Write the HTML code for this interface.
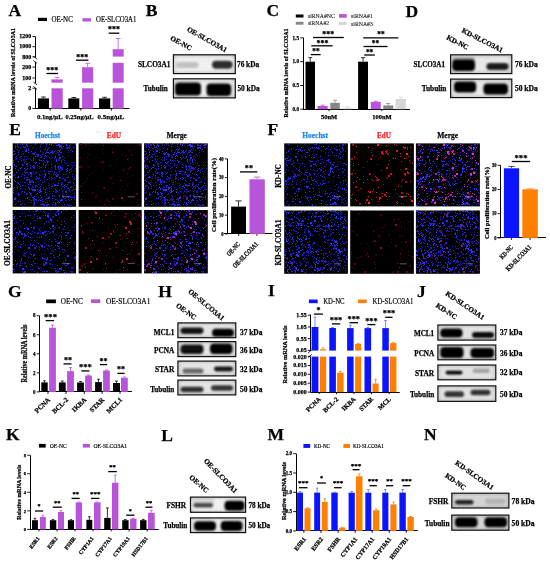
<!DOCTYPE html>
<html><head><meta charset="utf-8"><style>
html,body{margin:0;padding:0;background:#fff;width:550px;height:564px;overflow:hidden}
svg{display:block;filter:blur(0.3px)}
text{font-family:"Liberation Serif","Times New Roman",serif;font-weight:bold}
text{stroke:#000;stroke-width:0.25px}
text.n{font-weight:normal;stroke-width:0.18px}
</style></head><body>
<svg width="550" height="564" viewBox="0 0 550 564">
<defs>
<filter id="bl" x="-30%" y="-80%" width="160%" height="260%"><feGaussianBlur stdDeviation="1.1"/></filter>
<linearGradient id="vv" x1="0" y1="0" x2="0" y2="1"><stop offset="0" stop-color="#000" stop-opacity="0.14"/><stop offset="0.22" stop-color="#000" stop-opacity="0"/><stop offset="0.78" stop-color="#000" stop-opacity="0"/><stop offset="1" stop-color="#000" stop-opacity="0.14"/></linearGradient>
<linearGradient id="vh" x1="0" y1="0" x2="1" y2="0"><stop offset="0" stop-color="#000" stop-opacity="0.10"/><stop offset="0.08" stop-color="#000" stop-opacity="0"/><stop offset="0.92" stop-color="#000" stop-opacity="0"/><stop offset="1" stop-color="#000" stop-opacity="0.10"/></linearGradient>
<pattern id="h1" patternUnits="userSpaceOnUse" x="13" y="143" width="64" height="64"><path fill="#3030ff" d="M60 4h1v1h-1zM35 9h1v1h-1zM9 42h1v1h-1zM21 59h1v1h-1zM44 48h1v1h-1zM11 49h1v1h-1zM4 34h1v1h-1zM17 51h1v1h-1zM12 7h2v2h-2zM5 40h1v1h-1zM17 41h1v1h-1zM21 23h1v1h-1zM34 19h1v1h-1zM27 28h1v1h-1zM62 46h1v1h-1zM44 59h1v1h-1zM38 8h1v1h-1zM43 16h1v1h-1zM11 32h1v1h-1zM2 38h1v1h-1zM33 61h1v1h-1zM56 29h1v1h-1zM27 57h1v1h-1zM41 23h1v1h-1zM27 3h1v1h-1zM33 55h1v1h-1zM15 44h1v1h-1zM35 54h2v2h-2zM9 31h1v1h-1zM26 49h1v1h-1zM15 41h1v1h-1zM14 55h1v1h-1zM57 44h1v1h-1zM54 53h1v1h-1zM11 25h1v1h-1zM62 1h1v1h-1zM20 10h2v2h-2zM33 9h1v1h-1zM6 51h1v1h-1zM25 35h1v1h-1zM32 10h1v1h-1zM2 10h1v1h-1zM35 28h1v1h-1zM50 3h1v1h-1zM27 17h1v1h-1zM9 21h1v1h-1zM28 17h1v1h-1zM14 25h1v1h-1zM47 2h2v2h-2zM0 17h1v1h-1zM18 8h1v1h-1zM31 15h1v1h-1zM42 60h1v1h-1zM61 54h1v1h-1zM17 29h2v2h-2zM3 23h1v1h-1zM32 24h1v1h-1zM4 6h1v1h-1zM0 49h1v1h-1zM9 60h1v1h-1zM31 38h1v1h-1zM38 21h1v1h-1zM39 55h1v1h-1zM17 22h1v1h-1zM24 50h1v1h-1zM45 1h2v2h-2zM4 44h1v1h-1zM46 0h1v1h-1zM16 37h1v1h-1zM49 39h1v1h-1zM20 54h1v1h-1zM5 33h1v1h-1zM3 29h1v1h-1zM5 27h1v1h-1zM16 49h1v1h-1zM53 43h1v1h-1zM1 37h1v1h-1zM3 15h1v1h-1zM34 9h1v1h-1zM0 45h1v1h-1zM53 48h1v1h-1zM45 42h1v1h-1zM8 17h1v1h-1zM2 61h1v1h-1zM18 31h1v1h-1zM0 19h1v1h-1zM36 35h1v1h-1zM46 52h1v1h-1zM42 14h1v1h-1zM13 29h1v1h-1zM30 9h1v1h-1zM16 36h1v1h-1zM12 30h1v1h-1zM4 39h1v1h-1zM46 34h1v1h-1zM54 61h1v1h-1zM47 27h1v1h-1zM59 8h1v1h-1zM48 4h1v1h-1zM2 4h1v1h-1zM32 30h1v1h-1zM47 9h1v1h-1zM46 14h2v2h-2zM45 58h1v1h-1zM42 31h1v1h-1zM49 53h1v1h-1zM31 53h1v1h-1zM40 48h1v1h-1zM48 17h1v1h-1zM13 1h1v1h-1zM20 15h1v1h-1zM33 13h1v1h-1zM19 10h1v1h-1zM46 47h1v1h-1zM13 8h1v1h-1zM49 52h1v1h-1zM36 48h1v1h-1zM47 57h1v1h-1zM46 8h1v1h-1zM48 45h1v1h-1zM27 43h1v1h-1zM14 3h1v1h-1zM57 39h1v1h-1zM14 29h1v1h-1zM21 53h1v1h-1zM50 53h1v1h-1zM43 56h1v1h-1zM60 4h1v1h-1zM27 48h1v1h-1zM59 54h1v1h-1zM45 7h1v1h-1zM5 4h1v1h-1zM7 61h1v1h-1zM14 23h1v1h-1zM54 2h1v1h-1zM55 56h1v1h-1zM8 24h1v1h-1zM33 13h1v1h-1zM14 23h1v1h-1zM58 56h1v1h-1zM20 56h1v1h-1zM54 27h1v1h-1zM48 41h1v1h-1zM46 28h1v1h-1zM53 57h1v1h-1zM5 34h1v1h-1zM41 23h1v1h-1zM50 0h1v1h-1zM55 45h1v1h-1zM30 20h1v1h-1zM36 30h1v1h-1zM56 53h1v1h-1zM42 46h1v1h-1zM28 14h1v1h-1zM5 51h1v1h-1zM46 7h1v1h-1zM16 38h2v2h-2zM41 29h1v1h-1zM21 25h1v1h-1zM45 40h1v1h-1zM9 22h1v1h-1zM47 2h1v1h-1zM35 61h1v1h-1zM31 34h1v1h-1zM4 39h1v1h-1zM33 1h1v1h-1zM32 31h1v1h-1zM53 20h1v1h-1zM6 41h1v1h-1zM36 1h1v1h-1zM9 1h1v1h-1zM4 45h1v1h-1zM32 32h1v1h-1zM14 51h1v1h-1zM23 33h1v1h-1zM51 42h1v1h-1zM45 22h1v1h-1zM1 11h1v1h-1zM40 0h1v1h-1zM29 11h1v1h-1zM49 26h1v1h-1zM17 50h1v1h-1zM54 5h1v1h-1zM56 2h1v1h-1zM16 46h1v1h-1zM28 48h1v1h-1zM20 9h1v1h-1zM7 25h1v1h-1zM48 9h1v1h-1zM46 59h1v1h-1zM38 1h1v1h-1zM32 22h1v1h-1zM55 39h1v1h-1zM1 55h2v2h-2zM26 20h1v1h-1zM43 17h1v1h-1zM5 11h1v1h-1zM55 53h1v1h-1zM43 47h1v1h-1zM41 41h2v2h-2zM16 45h1v1h-1zM41 8h1v1h-1zM38 34h1v1h-1zM38 43h1v1h-1zM34 59h1v1h-1zM23 42h1v1h-1zM12 4h1v1h-1zM31 0h1v1h-1zM2 25h1v1h-1zM5 18h1v1h-1zM32 6h1v1h-1zM12 18h1v1h-1zM9 48h1v1h-1zM56 46h1v1h-1zM23 11h1v1h-1zM49 35h1v1h-1zM48 39h1v1h-1zM48 56h2v2h-2zM22 13h1v1h-1zM54 34h1v1h-1zM32 49h1v1h-1zM43 32h2v2h-2zM39 35h1v1h-1zM39 61h1v1h-1zM54 41h1v1h-1zM43 18h1v1h-1zM38 1h1v1h-1zM28 54h1v1h-1zM18 37h1v1h-1zM1 8h1v1h-1zM61 34h1v1h-1zM35 5h1v1h-1zM29 39h1v1h-1zM21 46h2v2h-2zM31 13h1v1h-1zM54 25h1v1h-1zM36 28h1v1h-1zM7 45h1v1h-1zM20 17h1v1h-1zM33 3h1v1h-1zM23 42h1v1h-1zM5 9h1v1h-1zM24 46h1v1h-1zM15 44h1v1h-1zM42 13h1v1h-1zM19 46h2v2h-2zM20 22h1v1h-1zM55 4h1v1h-1zM27 14h1v1h-1zM15 9h1v1h-1zM20 39h1v1h-1zM27 45h1v1h-1zM13 20h1v1h-1zM35 30h1v1h-1zM22 20h1v1h-1zM27 52h1v1h-1zM44 42h1v1h-1zM51 61h1v1h-1zM32 12h1v1h-1zM52 31h1v1h-1zM32 46h1v1h-1zM18 52h1v1h-1zM14 55h1v1h-1zM53 1h1v1h-1zM45 24h1v1h-1zM7 43h1v1h-1zM61 36h1v1h-1zM29 58h1v1h-1z"/><path fill="#2020d8" d="M12 60h1v1h-1zM13 13h1v1h-1zM13 26h1v1h-1zM26 25h1v1h-1zM33 21h1v1h-1zM29 31h1v1h-1zM53 28h1v1h-1zM3 13h1v1h-1zM42 22h1v1h-1zM26 16h1v1h-1zM14 37h1v1h-1zM62 25h1v1h-1zM24 34h1v1h-1zM42 23h1v1h-1zM61 53h1v1h-1zM17 24h1v1h-1zM57 26h1v1h-1zM44 0h1v1h-1zM38 8h2v2h-2zM21 55h1v1h-1zM18 17h1v1h-1zM55 54h1v1h-1zM25 57h1v1h-1zM12 55h1v1h-1zM14 54h1v1h-1zM43 2h1v1h-1zM46 25h1v1h-1zM33 17h1v1h-1zM26 23h1v1h-1zM28 41h1v1h-1zM58 43h1v1h-1zM37 0h1v1h-1zM7 39h1v1h-1zM34 7h1v1h-1zM38 24h1v1h-1zM12 42h1v1h-1zM30 62h2v2h-2zM39 9h2v2h-2zM25 35h1v1h-1zM57 53h1v1h-1zM33 62h1v1h-1zM35 42h1v1h-1zM59 33h1v1h-1zM27 0h1v1h-1zM20 60h2v2h-2zM49 56h1v1h-1zM2 22h1v1h-1zM0 58h1v1h-1zM27 46h1v1h-1zM46 22h1v1h-1zM47 6h1v1h-1zM1 44h1v1h-1zM24 22h1v1h-1zM16 39h1v1h-1zM58 28h1v1h-1zM48 19h1v1h-1zM34 18h1v1h-1zM24 11h2v2h-2zM15 15h1v1h-1zM4 3h1v1h-1zM31 33h1v1h-1zM49 35h1v1h-1zM2 54h1v1h-1zM7 58h1v1h-1zM56 5h1v1h-1zM4 39h1v1h-1zM20 58h1v1h-1zM56 46h1v1h-1zM13 36h2v2h-2zM32 56h1v1h-1zM47 34h1v1h-1zM59 47h1v1h-1zM5 50h1v1h-1zM23 29h1v1h-1zM11 61h1v1h-1zM55 62h2v2h-2zM20 14h1v1h-1zM61 42h1v1h-1zM60 44h1v1h-1zM20 14h1v1h-1zM22 39h1v1h-1zM11 39h1v1h-1zM35 18h1v1h-1zM27 47h1v1h-1zM17 25h1v1h-1zM28 60h2v2h-2zM0 8h1v1h-1zM25 41h1v1h-1zM58 25h1v1h-1zM60 40h1v1h-1zM45 17h1v1h-1zM14 2h1v1h-1zM18 59h1v1h-1zM51 17h1v1h-1zM26 34h1v1h-1zM27 8h1v1h-1zM47 9h1v1h-1zM22 44h1v1h-1zM58 54h1v1h-1zM51 44h1v1h-1zM56 48h1v1h-1zM36 14h1v1h-1zM7 13h1v1h-1zM28 13h1v1h-1zM57 7h1v1h-1zM27 61h1v1h-1zM26 17h1v1h-1zM1 21h1v1h-1zM56 57h1v1h-1zM4 1h1v1h-1zM35 28h1v1h-1zM27 37h1v1h-1zM19 5h1v1h-1zM42 61h1v1h-1zM12 46h1v1h-1zM26 56h1v1h-1zM13 50h2v2h-2zM60 39h1v1h-1zM26 47h1v1h-1zM59 31h1v1h-1zM18 50h1v1h-1zM25 54h1v1h-1zM43 56h1v1h-1zM18 57h1v1h-1zM39 43h1v1h-1zM22 1h1v1h-1zM34 55h1v1h-1zM55 34h1v1h-1zM61 22h1v1h-1zM43 10h1v1h-1zM39 14h1v1h-1zM16 19h1v1h-1zM1 22h1v1h-1zM53 2h1v1h-1zM2 14h1v1h-1zM10 10h1v1h-1zM17 33h1v1h-1zM7 39h1v1h-1zM34 49h1v1h-1zM19 38h1v1h-1zM27 55h1v1h-1zM40 59h1v1h-1zM42 24h1v1h-1zM39 7h1v1h-1zM42 7h1v1h-1zM57 53h1v1h-1zM53 26h1v1h-1zM0 19h1v1h-1zM41 15h1v1h-1zM58 6h1v1h-1zM55 54h1v1h-1zM61 56h1v1h-1zM33 61h2v2h-2zM54 4h1v1h-1zM27 12h1v1h-1zM34 36h1v1h-1zM50 51h1v1h-1zM23 51h1v1h-1zM23 56h1v1h-1zM23 57h1v1h-1zM22 42h1v1h-1zM8 11h1v1h-1zM8 13h1v1h-1zM0 47h1v1h-1zM42 26h1v1h-1zM52 31h1v1h-1zM44 20h1v1h-1zM42 25h1v1h-1zM47 24h2v2h-2zM22 43h1v1h-1zM24 12h2v2h-2zM0 11h1v1h-1zM46 37h1v1h-1zM31 28h1v1h-1zM61 56h1v1h-1zM30 61h1v1h-1zM60 46h1v1h-1zM25 0h1v1h-1zM18 45h1v1h-1zM1 0h1v1h-1zM29 56h1v1h-1zM25 41h1v1h-1zM47 23h1v1h-1zM20 24h2v2h-2zM56 27h1v1h-1zM11 6h1v1h-1zM7 1h1v1h-1zM30 58h1v1h-1zM20 38h1v1h-1zM20 28h1v1h-1zM44 23h1v1h-1zM16 54h1v1h-1zM27 14h1v1h-1zM49 5h1v1h-1zM8 49h1v1h-1zM9 8h1v1h-1zM11 19h1v1h-1zM44 2h1v1h-1zM13 20h2v2h-2zM28 24h1v1h-1zM11 35h1v1h-1zM27 7h1v1h-1zM47 23h1v1h-1zM20 44h1v1h-1zM21 19h1v1h-1zM27 52h1v1h-1zM11 13h1v1h-1zM42 56h1v1h-1zM28 54h1v1h-1zM45 9h1v1h-1zM0 0h1v1h-1zM20 16h1v1h-1zM30 62h1v1h-1zM57 54h1v1h-1zM36 10h1v1h-1zM19 23h1v1h-1zM46 53h1v1h-1zM39 53h1v1h-1zM50 16h1v1h-1zM53 5h1v1h-1zM24 59h1v1h-1zM38 36h1v1h-1zM19 54h1v1h-1zM45 9h1v1h-1zM31 36h1v1h-1zM18 30h1v1h-1zM50 43h1v1h-1zM16 56h1v1h-1zM25 38h1v1h-1zM13 2h1v1h-1zM30 20h1v1h-1zM31 61h1v1h-1zM44 9h1v1h-1zM20 56h2v2h-2zM38 31h1v1h-1zM50 31h1v1h-1zM50 35h1v1h-1zM51 19h1v1h-1zM21 29h1v1h-1zM55 22h1v1h-1zM37 9h1v1h-1zM45 0h1v1h-1zM32 59h1v1h-1zM46 3h1v1h-1zM56 4h1v1h-1zM33 51h1v1h-1zM13 34h1v1h-1zM30 17h1v1h-1zM51 36h2v2h-2zM6 0h1v1h-1zM26 31h1v1h-1zM44 57h1v1h-1zM54 45h1v1h-1zM14 34h1v1h-1zM22 9h1v1h-1zM46 35h1v1h-1zM19 43h1v1h-1zM53 4h1v1h-1zM15 5h1v1h-1zM11 4h1v1h-1zM49 53h1v1h-1zM37 28h1v1h-1zM60 44h1v1h-1zM15 31h1v1h-1zM44 59h1v1h-1zM49 48h1v1h-1zM52 48h2v2h-2zM27 46h1v1h-1zM34 6h1v1h-1zM2 2h1v1h-1zM46 4h1v1h-1zM4 1h1v1h-1zM19 0h1v1h-1zM31 31h1v1h-1zM40 40h1v1h-1zM5 58h1v1h-1zM2 31h1v1h-1zM43 61h1v1h-1zM1 32h1v1h-1zM5 52h1v1h-1zM48 18h1v1h-1zM49 13h1v1h-1zM15 7h1v1h-1zM54 22h1v1h-1zM13 16h1v1h-1zM11 28h1v1h-1z"/><path fill="#1414a0" d="M22 29h1v1h-1zM42 41h1v1h-1zM43 42h1v1h-1zM57 3h1v1h-1zM49 21h1v1h-1zM6 14h1v1h-1zM36 41h1v1h-1zM56 36h1v1h-1zM47 58h1v1h-1zM11 48h1v1h-1zM2 3h1v1h-1zM52 57h1v1h-1zM45 16h2v2h-2zM10 4h1v1h-1zM44 31h2v2h-2zM56 3h1v1h-1zM5 8h1v1h-1zM15 53h1v1h-1zM13 6h1v1h-1zM54 0h1v1h-1zM10 3h1v1h-1zM22 35h2v2h-2zM29 18h1v1h-1zM12 60h1v1h-1zM36 55h1v1h-1zM4 12h1v1h-1zM50 59h1v1h-1zM20 61h2v2h-2zM42 38h1v1h-1zM45 11h2v2h-2zM55 12h1v1h-1zM53 47h1v1h-1zM47 15h1v1h-1zM53 58h1v1h-1zM7 4h1v1h-1zM20 9h1v1h-1zM41 34h1v1h-1zM11 29h1v1h-1zM26 44h1v1h-1zM42 48h2v2h-2zM36 44h1v1h-1zM37 7h1v1h-1zM61 19h1v1h-1zM38 45h1v1h-1zM15 36h1v1h-1zM2 35h1v1h-1zM61 52h1v1h-1zM38 2h1v1h-1zM48 26h1v1h-1zM17 16h1v1h-1zM30 60h1v1h-1zM52 41h1v1h-1zM38 28h1v1h-1zM53 51h1v1h-1zM11 15h1v1h-1zM39 50h1v1h-1zM18 39h1v1h-1zM5 49h1v1h-1zM58 44h1v1h-1zM19 44h1v1h-1zM31 7h1v1h-1zM33 45h1v1h-1zM4 2h1v1h-1zM34 57h1v1h-1zM45 23h1v1h-1zM13 5h1v1h-1zM59 19h1v1h-1zM28 53h1v1h-1zM30 11h1v1h-1zM40 2h1v1h-1zM49 44h1v1h-1zM24 43h1v1h-1zM26 32h1v1h-1zM7 0h1v1h-1zM60 35h1v1h-1zM48 39h2v2h-2zM25 0h1v1h-1zM40 30h1v1h-1zM10 11h1v1h-1zM41 53h1v1h-1zM24 35h1v1h-1zM49 50h1v1h-1zM61 50h1v1h-1zM27 1h1v1h-1zM45 32h1v1h-1zM28 57h1v1h-1zM45 52h1v1h-1zM49 24h1v1h-1zM27 32h1v1h-1zM36 57h1v1h-1zM10 16h2v2h-2zM23 5h1v1h-1zM43 10h1v1h-1zM25 36h1v1h-1zM51 14h1v1h-1zM21 29h1v1h-1zM58 54h1v1h-1zM34 49h1v1h-1zM18 46h1v1h-1zM38 12h1v1h-1zM31 18h1v1h-1zM12 27h1v1h-1zM41 52h1v1h-1zM18 2h1v1h-1zM15 6h1v1h-1zM2 16h1v1h-1zM51 55h1v1h-1zM15 5h1v1h-1zM35 0h1v1h-1zM3 16h1v1h-1zM52 43h1v1h-1zM8 61h1v1h-1zM16 40h1v1h-1zM28 57h1v1h-1zM46 20h1v1h-1zM21 11h1v1h-1zM21 31h1v1h-1zM29 31h1v1h-1zM50 54h1v1h-1zM10 22h1v1h-1zM3 42h1v1h-1zM8 5h1v1h-1zM30 45h1v1h-1zM26 35h1v1h-1zM55 9h1v1h-1zM15 15h1v1h-1zM16 38h1v1h-1zM45 60h1v1h-1zM22 30h1v1h-1zM42 59h1v1h-1zM11 34h1v1h-1zM55 7h1v1h-1zM46 56h1v1h-1zM27 49h1v1h-1zM49 41h1v1h-1zM57 62h2v2h-2zM59 24h1v1h-1zM54 44h1v1h-1zM20 14h1v1h-1zM56 0h1v1h-1zM31 27h1v1h-1zM51 45h1v1h-1zM57 1h1v1h-1zM15 43h1v1h-1zM53 57h1v1h-1zM61 27h1v1h-1zM33 8h1v1h-1zM27 24h1v1h-1zM1 50h1v1h-1zM36 53h1v1h-1zM35 40h1v1h-1zM50 13h1v1h-1zM41 28h1v1h-1zM18 37h2v2h-2zM17 32h2v2h-2zM3 50h1v1h-1zM52 55h1v1h-1zM50 47h1v1h-1zM22 56h1v1h-1zM0 32h1v1h-1zM46 29h1v1h-1zM39 42h1v1h-1zM39 52h1v1h-1zM4 40h1v1h-1zM20 4h1v1h-1zM4 29h1v1h-1zM30 44h1v1h-1zM6 7h1v1h-1zM19 30h1v1h-1zM49 25h1v1h-1zM28 1h1v1h-1zM19 39h1v1h-1zM25 48h1v1h-1zM12 3h1v1h-1zM20 55h1v1h-1zM40 10h1v1h-1zM2 23h1v1h-1zM40 52h1v1h-1zM8 33h1v1h-1zM12 26h1v1h-1zM47 0h1v1h-1zM61 4h1v1h-1zM37 15h1v1h-1zM27 28h1v1h-1zM46 35h1v1h-1zM12 39h1v1h-1zM22 39h1v1h-1zM20 55h1v1h-1zM45 22h2v2h-2zM31 53h1v1h-1zM23 19h1v1h-1zM56 38h2v2h-2zM43 29h1v1h-1zM39 28h1v1h-1zM40 31h1v1h-1zM41 62h2v2h-2zM35 45h1v1h-1zM32 48h1v1h-1zM47 43h1v1h-1zM20 10h1v1h-1zM14 59h1v1h-1zM2 22h1v1h-1zM61 46h1v1h-1zM23 20h1v1h-1zM22 16h1v1h-1zM44 8h1v1h-1zM16 6h1v1h-1zM40 45h1v1h-1zM38 19h1v1h-1zM30 21h1v1h-1zM27 17h1v1h-1zM45 25h2v2h-2zM59 22h1v1h-1zM20 25h1v1h-1z"/></pattern><pattern id="e1" patternUnits="userSpaceOnUse" x="79" y="143" width="64" height="64"><path fill="#3c0008" d="M20 0h1v1h-1zM43 11h1v1h-1zM11 47h1v1h-1zM44 26h2v2h-2zM52 59h1v1h-1zM13 30h1v1h-1zM49 25h2v2h-2zM51 7h1v1h-1zM49 43h1v1h-1zM18 1h1v1h-1zM0 11h1v1h-1zM43 47h1v1h-1zM32 22h1v1h-1zM37 24h1v1h-1zM31 34h2v2h-2zM27 56h2v2h-2zM41 46h1v1h-1zM7 37h1v1h-1zM40 44h1v1h-1zM10 23h1v1h-1zM53 32h1v1h-1zM46 47h1v1h-1zM16 53h2v2h-2zM20 2h1v1h-1zM42 53h1v1h-1zM0 14h2v2h-2zM4 24h1v1h-1zM6 1h2v2h-2zM18 14h1v1h-1zM3 22h1v1h-1zM48 4h1v1h-1zM37 16h1v1h-1zM58 56h1v1h-1zM39 55h1v1h-1zM36 62h1v1h-1zM9 32h1v1h-1zM58 61h2v2h-2zM6 34h1v1h-1zM47 12h1v1h-1zM15 2h1v1h-1zM28 7h1v1h-1zM1 42h2v2h-2zM59 21h1v1h-1zM40 29h1v1h-1zM49 34h1v1h-1zM53 12h1v1h-1zM43 43h1v1h-1z"/><path fill="#5a0010" d="M29 47h1v1h-1zM8 35h1v1h-1zM4 40h1v1h-1zM48 42h1v1h-1zM33 55h2v2h-2zM19 43h1v1h-1zM48 30h1v1h-1zM0 23h2v2h-2zM59 2h1v1h-1zM1 0h2v2h-2zM9 11h1v1h-1zM24 10h1v1h-1zM33 8h1v1h-1zM29 58h1v1h-1zM23 6h1v1h-1zM33 5h1v1h-1zM0 18h1v1h-1zM49 15h1v1h-1zM21 57h1v1h-1zM24 44h2v2h-2zM60 1h2v2h-2zM9 5h1v1h-1zM10 2h1v1h-1zM9 24h1v1h-1zM38 2h1v1h-1zM6 39h1v1h-1zM13 50h1v1h-1zM49 7h1v1h-1zM8 14h1v1h-1zM30 58h1v1h-1zM33 40h1v1h-1zM59 42h1v1h-1zM23 18h2v2h-2zM2 49h1v1h-1zM13 49h1v1h-1zM24 26h1v1h-1zM61 36h1v1h-1zM44 57h1v1h-1zM52 11h1v1h-1zM17 51h1v1h-1zM57 50h2v2h-2zM12 3h1v1h-1z"/><path fill="#8a1018" d="M21 19h1v1h-1zM41 37h1v1h-1zM2 56h1v1h-1zM33 9h1v1h-1zM51 24h1v1h-1zM48 16h1v1h-1zM25 61h1v1h-1zM42 54h2v2h-2zM24 2h1v1h-1zM13 0h1v1h-1zM30 22h1v1h-1z"/></pattern><pattern id="m1" patternUnits="userSpaceOnUse" x="144" y="143" width="64" height="64"><path fill="#3030ff" d="M60 4h1v1h-1zM35 9h1v1h-1zM9 42h1v1h-1zM21 59h1v1h-1zM44 48h1v1h-1zM11 49h1v1h-1zM4 34h1v1h-1zM17 51h1v1h-1zM12 7h2v2h-2zM5 40h1v1h-1zM17 41h1v1h-1zM21 23h1v1h-1zM34 19h1v1h-1zM27 28h1v1h-1zM62 46h1v1h-1zM44 59h1v1h-1zM38 8h1v1h-1zM43 16h1v1h-1zM11 32h1v1h-1zM2 38h1v1h-1zM33 61h1v1h-1zM56 29h1v1h-1zM27 57h1v1h-1zM41 23h1v1h-1zM27 3h1v1h-1zM33 55h1v1h-1zM15 44h1v1h-1zM35 54h2v2h-2zM9 31h1v1h-1zM26 49h1v1h-1zM15 41h1v1h-1zM14 55h1v1h-1zM57 44h1v1h-1zM54 53h1v1h-1zM11 25h1v1h-1zM62 1h1v1h-1zM20 10h2v2h-2zM33 9h1v1h-1zM6 51h1v1h-1zM25 35h1v1h-1zM32 10h1v1h-1zM2 10h1v1h-1zM35 28h1v1h-1zM50 3h1v1h-1zM27 17h1v1h-1zM9 21h1v1h-1zM28 17h1v1h-1zM14 25h1v1h-1zM47 2h2v2h-2zM0 17h1v1h-1zM18 8h1v1h-1zM31 15h1v1h-1zM42 60h1v1h-1zM61 54h1v1h-1zM17 29h2v2h-2zM3 23h1v1h-1zM32 24h1v1h-1zM4 6h1v1h-1zM0 49h1v1h-1zM9 60h1v1h-1zM31 38h1v1h-1zM38 21h1v1h-1zM39 55h1v1h-1zM17 22h1v1h-1zM24 50h1v1h-1zM45 1h2v2h-2zM4 44h1v1h-1zM46 0h1v1h-1zM16 37h1v1h-1zM49 39h1v1h-1zM20 54h1v1h-1zM5 33h1v1h-1zM3 29h1v1h-1zM5 27h1v1h-1zM16 49h1v1h-1zM53 43h1v1h-1zM1 37h1v1h-1zM3 15h1v1h-1zM34 9h1v1h-1zM0 45h1v1h-1zM53 48h1v1h-1zM45 42h1v1h-1zM8 17h1v1h-1zM2 61h1v1h-1zM18 31h1v1h-1zM0 19h1v1h-1zM36 35h1v1h-1zM46 52h1v1h-1zM42 14h1v1h-1zM13 29h1v1h-1zM30 9h1v1h-1zM16 36h1v1h-1zM12 30h1v1h-1zM4 39h1v1h-1zM46 34h1v1h-1zM54 61h1v1h-1zM47 27h1v1h-1zM59 8h1v1h-1zM48 4h1v1h-1zM2 4h1v1h-1zM32 30h1v1h-1zM47 9h1v1h-1zM46 14h2v2h-2zM45 58h1v1h-1zM42 31h1v1h-1zM49 53h1v1h-1zM31 53h1v1h-1zM40 48h1v1h-1zM48 17h1v1h-1zM13 1h1v1h-1zM20 15h1v1h-1zM33 13h1v1h-1zM19 10h1v1h-1zM46 47h1v1h-1zM13 8h1v1h-1zM49 52h1v1h-1zM36 48h1v1h-1zM47 57h1v1h-1zM46 8h1v1h-1zM48 45h1v1h-1zM27 43h1v1h-1zM14 3h1v1h-1zM57 39h1v1h-1zM14 29h1v1h-1zM21 53h1v1h-1zM50 53h1v1h-1zM43 56h1v1h-1zM60 4h1v1h-1zM27 48h1v1h-1zM59 54h1v1h-1zM45 7h1v1h-1zM5 4h1v1h-1zM7 61h1v1h-1zM14 23h1v1h-1zM54 2h1v1h-1zM55 56h1v1h-1zM8 24h1v1h-1zM33 13h1v1h-1zM14 23h1v1h-1zM58 56h1v1h-1zM20 56h1v1h-1zM54 27h1v1h-1zM48 41h1v1h-1zM46 28h1v1h-1zM53 57h1v1h-1zM5 34h1v1h-1zM41 23h1v1h-1zM50 0h1v1h-1zM55 45h1v1h-1zM30 20h1v1h-1zM36 30h1v1h-1zM56 53h1v1h-1zM42 46h1v1h-1zM28 14h1v1h-1zM5 51h1v1h-1zM46 7h1v1h-1zM16 38h2v2h-2zM41 29h1v1h-1zM21 25h1v1h-1zM45 40h1v1h-1zM9 22h1v1h-1zM47 2h1v1h-1zM35 61h1v1h-1zM31 34h1v1h-1zM4 39h1v1h-1zM33 1h1v1h-1zM32 31h1v1h-1zM53 20h1v1h-1zM6 41h1v1h-1zM36 1h1v1h-1zM9 1h1v1h-1zM4 45h1v1h-1zM32 32h1v1h-1zM14 51h1v1h-1zM23 33h1v1h-1zM51 42h1v1h-1zM45 22h1v1h-1zM1 11h1v1h-1zM40 0h1v1h-1zM29 11h1v1h-1zM49 26h1v1h-1zM17 50h1v1h-1zM54 5h1v1h-1zM56 2h1v1h-1zM16 46h1v1h-1zM28 48h1v1h-1zM20 9h1v1h-1zM7 25h1v1h-1zM48 9h1v1h-1zM46 59h1v1h-1zM38 1h1v1h-1zM32 22h1v1h-1zM55 39h1v1h-1zM1 55h2v2h-2zM26 20h1v1h-1zM43 17h1v1h-1zM5 11h1v1h-1zM55 53h1v1h-1zM43 47h1v1h-1zM41 41h2v2h-2zM16 45h1v1h-1zM41 8h1v1h-1zM38 34h1v1h-1zM38 43h1v1h-1zM34 59h1v1h-1zM23 42h1v1h-1zM12 4h1v1h-1zM31 0h1v1h-1zM2 25h1v1h-1zM5 18h1v1h-1zM32 6h1v1h-1zM12 18h1v1h-1zM9 48h1v1h-1zM56 46h1v1h-1zM23 11h1v1h-1zM49 35h1v1h-1zM48 39h1v1h-1zM48 56h2v2h-2zM22 13h1v1h-1zM54 34h1v1h-1zM32 49h1v1h-1zM43 32h2v2h-2zM39 35h1v1h-1zM39 61h1v1h-1zM54 41h1v1h-1zM43 18h1v1h-1zM38 1h1v1h-1zM28 54h1v1h-1zM18 37h1v1h-1zM1 8h1v1h-1zM61 34h1v1h-1zM35 5h1v1h-1zM29 39h1v1h-1zM21 46h2v2h-2zM31 13h1v1h-1zM54 25h1v1h-1zM36 28h1v1h-1zM7 45h1v1h-1zM20 17h1v1h-1zM33 3h1v1h-1zM23 42h1v1h-1zM5 9h1v1h-1zM24 46h1v1h-1zM15 44h1v1h-1zM42 13h1v1h-1zM19 46h2v2h-2zM20 22h1v1h-1zM55 4h1v1h-1zM27 14h1v1h-1zM15 9h1v1h-1zM20 39h1v1h-1zM27 45h1v1h-1zM13 20h1v1h-1zM35 30h1v1h-1zM22 20h1v1h-1zM27 52h1v1h-1zM44 42h1v1h-1zM51 61h1v1h-1zM32 12h1v1h-1zM52 31h1v1h-1zM32 46h1v1h-1zM18 52h1v1h-1zM14 55h1v1h-1zM53 1h1v1h-1zM45 24h1v1h-1zM7 43h1v1h-1zM61 36h1v1h-1zM29 58h1v1h-1z"/><path fill="#2020d8" d="M12 60h1v1h-1zM13 13h1v1h-1zM13 26h1v1h-1zM26 25h1v1h-1zM33 21h1v1h-1zM29 31h1v1h-1zM53 28h1v1h-1zM3 13h1v1h-1zM42 22h1v1h-1zM26 16h1v1h-1zM14 37h1v1h-1zM62 25h1v1h-1zM24 34h1v1h-1zM42 23h1v1h-1zM61 53h1v1h-1zM17 24h1v1h-1zM57 26h1v1h-1zM44 0h1v1h-1zM38 8h2v2h-2zM21 55h1v1h-1zM18 17h1v1h-1zM55 54h1v1h-1zM25 57h1v1h-1zM12 55h1v1h-1zM14 54h1v1h-1zM43 2h1v1h-1zM46 25h1v1h-1zM33 17h1v1h-1zM26 23h1v1h-1zM28 41h1v1h-1zM58 43h1v1h-1zM37 0h1v1h-1zM7 39h1v1h-1zM34 7h1v1h-1zM38 24h1v1h-1zM12 42h1v1h-1zM30 62h2v2h-2zM39 9h2v2h-2zM25 35h1v1h-1zM57 53h1v1h-1zM33 62h1v1h-1zM35 42h1v1h-1zM59 33h1v1h-1zM27 0h1v1h-1zM20 60h2v2h-2zM49 56h1v1h-1zM2 22h1v1h-1zM0 58h1v1h-1zM27 46h1v1h-1zM46 22h1v1h-1zM47 6h1v1h-1zM1 44h1v1h-1zM24 22h1v1h-1zM16 39h1v1h-1zM58 28h1v1h-1zM48 19h1v1h-1zM34 18h1v1h-1zM24 11h2v2h-2zM15 15h1v1h-1zM4 3h1v1h-1zM31 33h1v1h-1zM49 35h1v1h-1zM2 54h1v1h-1zM7 58h1v1h-1zM56 5h1v1h-1zM4 39h1v1h-1zM20 58h1v1h-1zM56 46h1v1h-1zM13 36h2v2h-2zM32 56h1v1h-1zM47 34h1v1h-1zM59 47h1v1h-1zM5 50h1v1h-1zM23 29h1v1h-1zM11 61h1v1h-1zM55 62h2v2h-2zM20 14h1v1h-1zM61 42h1v1h-1zM60 44h1v1h-1zM20 14h1v1h-1zM22 39h1v1h-1zM11 39h1v1h-1zM35 18h1v1h-1zM27 47h1v1h-1zM17 25h1v1h-1zM28 60h2v2h-2zM0 8h1v1h-1zM25 41h1v1h-1zM58 25h1v1h-1zM60 40h1v1h-1zM45 17h1v1h-1zM14 2h1v1h-1zM18 59h1v1h-1zM51 17h1v1h-1zM26 34h1v1h-1zM27 8h1v1h-1zM47 9h1v1h-1zM22 44h1v1h-1zM58 54h1v1h-1zM51 44h1v1h-1zM56 48h1v1h-1zM36 14h1v1h-1zM7 13h1v1h-1zM28 13h1v1h-1zM57 7h1v1h-1zM27 61h1v1h-1zM26 17h1v1h-1zM1 21h1v1h-1zM56 57h1v1h-1zM4 1h1v1h-1zM35 28h1v1h-1zM27 37h1v1h-1zM19 5h1v1h-1zM42 61h1v1h-1zM12 46h1v1h-1zM26 56h1v1h-1zM13 50h2v2h-2zM60 39h1v1h-1zM26 47h1v1h-1zM59 31h1v1h-1zM18 50h1v1h-1zM25 54h1v1h-1zM43 56h1v1h-1zM18 57h1v1h-1zM39 43h1v1h-1zM22 1h1v1h-1zM34 55h1v1h-1zM55 34h1v1h-1zM61 22h1v1h-1zM43 10h1v1h-1zM39 14h1v1h-1zM16 19h1v1h-1zM1 22h1v1h-1zM53 2h1v1h-1zM2 14h1v1h-1zM10 10h1v1h-1zM17 33h1v1h-1zM7 39h1v1h-1zM34 49h1v1h-1zM19 38h1v1h-1zM27 55h1v1h-1zM40 59h1v1h-1zM42 24h1v1h-1zM39 7h1v1h-1zM42 7h1v1h-1zM57 53h1v1h-1zM53 26h1v1h-1zM0 19h1v1h-1zM41 15h1v1h-1zM58 6h1v1h-1zM55 54h1v1h-1zM61 56h1v1h-1zM33 61h2v2h-2zM54 4h1v1h-1zM27 12h1v1h-1zM34 36h1v1h-1zM50 51h1v1h-1zM23 51h1v1h-1zM23 56h1v1h-1zM23 57h1v1h-1zM22 42h1v1h-1zM8 11h1v1h-1zM8 13h1v1h-1zM0 47h1v1h-1zM42 26h1v1h-1zM52 31h1v1h-1zM44 20h1v1h-1zM42 25h1v1h-1zM47 24h2v2h-2zM22 43h1v1h-1zM24 12h2v2h-2zM0 11h1v1h-1zM46 37h1v1h-1zM31 28h1v1h-1zM61 56h1v1h-1zM30 61h1v1h-1zM60 46h1v1h-1zM25 0h1v1h-1zM18 45h1v1h-1zM1 0h1v1h-1zM29 56h1v1h-1zM25 41h1v1h-1zM47 23h1v1h-1zM20 24h2v2h-2zM56 27h1v1h-1zM11 6h1v1h-1zM7 1h1v1h-1zM30 58h1v1h-1zM20 38h1v1h-1zM20 28h1v1h-1zM44 23h1v1h-1zM16 54h1v1h-1zM27 14h1v1h-1zM49 5h1v1h-1zM8 49h1v1h-1zM9 8h1v1h-1zM11 19h1v1h-1zM44 2h1v1h-1zM13 20h2v2h-2zM28 24h1v1h-1zM11 35h1v1h-1zM27 7h1v1h-1zM47 23h1v1h-1zM20 44h1v1h-1zM21 19h1v1h-1zM27 52h1v1h-1zM11 13h1v1h-1zM42 56h1v1h-1zM28 54h1v1h-1zM45 9h1v1h-1zM0 0h1v1h-1zM20 16h1v1h-1zM30 62h1v1h-1zM57 54h1v1h-1zM36 10h1v1h-1zM19 23h1v1h-1zM46 53h1v1h-1zM39 53h1v1h-1zM50 16h1v1h-1zM53 5h1v1h-1zM24 59h1v1h-1zM38 36h1v1h-1zM19 54h1v1h-1zM45 9h1v1h-1zM31 36h1v1h-1zM18 30h1v1h-1zM50 43h1v1h-1zM16 56h1v1h-1zM25 38h1v1h-1zM13 2h1v1h-1zM30 20h1v1h-1zM31 61h1v1h-1zM44 9h1v1h-1zM20 56h2v2h-2zM38 31h1v1h-1zM50 31h1v1h-1zM50 35h1v1h-1zM51 19h1v1h-1zM21 29h1v1h-1zM55 22h1v1h-1zM37 9h1v1h-1zM45 0h1v1h-1zM32 59h1v1h-1zM46 3h1v1h-1zM56 4h1v1h-1zM33 51h1v1h-1zM13 34h1v1h-1zM30 17h1v1h-1zM51 36h2v2h-2zM6 0h1v1h-1zM26 31h1v1h-1zM44 57h1v1h-1zM54 45h1v1h-1zM14 34h1v1h-1zM22 9h1v1h-1zM46 35h1v1h-1zM19 43h1v1h-1zM53 4h1v1h-1zM15 5h1v1h-1zM11 4h1v1h-1zM49 53h1v1h-1zM37 28h1v1h-1zM60 44h1v1h-1zM15 31h1v1h-1zM44 59h1v1h-1zM49 48h1v1h-1zM52 48h2v2h-2zM27 46h1v1h-1zM34 6h1v1h-1zM2 2h1v1h-1zM46 4h1v1h-1zM4 1h1v1h-1zM19 0h1v1h-1zM31 31h1v1h-1zM40 40h1v1h-1zM5 58h1v1h-1zM2 31h1v1h-1zM43 61h1v1h-1zM1 32h1v1h-1zM5 52h1v1h-1zM48 18h1v1h-1zM49 13h1v1h-1zM15 7h1v1h-1zM54 22h1v1h-1zM13 16h1v1h-1zM11 28h1v1h-1z"/><path fill="#1414a0" d="M22 29h1v1h-1zM42 41h1v1h-1zM43 42h1v1h-1zM57 3h1v1h-1zM49 21h1v1h-1zM6 14h1v1h-1zM36 41h1v1h-1zM56 36h1v1h-1zM47 58h1v1h-1zM11 48h1v1h-1zM2 3h1v1h-1zM52 57h1v1h-1zM45 16h2v2h-2zM10 4h1v1h-1zM44 31h2v2h-2zM56 3h1v1h-1zM5 8h1v1h-1zM15 53h1v1h-1zM13 6h1v1h-1zM54 0h1v1h-1zM10 3h1v1h-1zM22 35h2v2h-2zM29 18h1v1h-1zM12 60h1v1h-1zM36 55h1v1h-1zM4 12h1v1h-1zM50 59h1v1h-1zM20 61h2v2h-2zM42 38h1v1h-1zM45 11h2v2h-2zM55 12h1v1h-1zM53 47h1v1h-1zM47 15h1v1h-1zM53 58h1v1h-1zM7 4h1v1h-1zM20 9h1v1h-1zM41 34h1v1h-1zM11 29h1v1h-1zM26 44h1v1h-1zM42 48h2v2h-2zM36 44h1v1h-1zM37 7h1v1h-1zM61 19h1v1h-1zM38 45h1v1h-1zM15 36h1v1h-1zM2 35h1v1h-1zM61 52h1v1h-1zM38 2h1v1h-1zM48 26h1v1h-1zM17 16h1v1h-1zM30 60h1v1h-1zM52 41h1v1h-1zM38 28h1v1h-1zM53 51h1v1h-1zM11 15h1v1h-1zM39 50h1v1h-1zM18 39h1v1h-1zM5 49h1v1h-1zM58 44h1v1h-1zM19 44h1v1h-1zM31 7h1v1h-1zM33 45h1v1h-1zM4 2h1v1h-1zM34 57h1v1h-1zM45 23h1v1h-1zM13 5h1v1h-1zM59 19h1v1h-1zM28 53h1v1h-1zM30 11h1v1h-1zM40 2h1v1h-1zM49 44h1v1h-1zM24 43h1v1h-1zM26 32h1v1h-1zM7 0h1v1h-1zM60 35h1v1h-1zM48 39h2v2h-2zM25 0h1v1h-1zM40 30h1v1h-1zM10 11h1v1h-1zM41 53h1v1h-1zM24 35h1v1h-1zM49 50h1v1h-1zM61 50h1v1h-1zM27 1h1v1h-1zM45 32h1v1h-1zM28 57h1v1h-1zM45 52h1v1h-1zM49 24h1v1h-1zM27 32h1v1h-1zM36 57h1v1h-1zM10 16h2v2h-2zM23 5h1v1h-1zM43 10h1v1h-1zM25 36h1v1h-1zM51 14h1v1h-1zM21 29h1v1h-1zM58 54h1v1h-1zM34 49h1v1h-1zM18 46h1v1h-1zM38 12h1v1h-1zM31 18h1v1h-1zM12 27h1v1h-1zM41 52h1v1h-1zM18 2h1v1h-1zM15 6h1v1h-1zM2 16h1v1h-1zM51 55h1v1h-1zM15 5h1v1h-1zM35 0h1v1h-1zM3 16h1v1h-1zM52 43h1v1h-1zM8 61h1v1h-1zM16 40h1v1h-1zM28 57h1v1h-1zM46 20h1v1h-1zM21 11h1v1h-1zM21 31h1v1h-1zM29 31h1v1h-1zM50 54h1v1h-1zM10 22h1v1h-1zM3 42h1v1h-1zM8 5h1v1h-1zM30 45h1v1h-1zM26 35h1v1h-1zM55 9h1v1h-1zM15 15h1v1h-1zM16 38h1v1h-1zM45 60h1v1h-1zM22 30h1v1h-1zM42 59h1v1h-1zM11 34h1v1h-1zM55 7h1v1h-1zM46 56h1v1h-1zM27 49h1v1h-1zM49 41h1v1h-1zM57 62h2v2h-2zM59 24h1v1h-1zM54 44h1v1h-1zM20 14h1v1h-1zM56 0h1v1h-1zM31 27h1v1h-1zM51 45h1v1h-1zM57 1h1v1h-1zM15 43h1v1h-1zM53 57h1v1h-1zM61 27h1v1h-1zM33 8h1v1h-1zM27 24h1v1h-1zM1 50h1v1h-1zM36 53h1v1h-1zM35 40h1v1h-1zM50 13h1v1h-1zM41 28h1v1h-1zM18 37h2v2h-2zM17 32h2v2h-2zM3 50h1v1h-1zM52 55h1v1h-1zM50 47h1v1h-1zM22 56h1v1h-1zM0 32h1v1h-1zM46 29h1v1h-1zM39 42h1v1h-1zM39 52h1v1h-1zM4 40h1v1h-1zM20 4h1v1h-1zM4 29h1v1h-1zM30 44h1v1h-1zM6 7h1v1h-1zM19 30h1v1h-1zM49 25h1v1h-1zM28 1h1v1h-1zM19 39h1v1h-1zM25 48h1v1h-1zM12 3h1v1h-1zM20 55h1v1h-1zM40 10h1v1h-1zM2 23h1v1h-1zM40 52h1v1h-1zM8 33h1v1h-1zM12 26h1v1h-1zM47 0h1v1h-1zM61 4h1v1h-1zM37 15h1v1h-1zM27 28h1v1h-1zM46 35h1v1h-1zM12 39h1v1h-1zM22 39h1v1h-1zM20 55h1v1h-1zM45 22h2v2h-2zM31 53h1v1h-1zM23 19h1v1h-1zM56 38h2v2h-2zM43 29h1v1h-1zM39 28h1v1h-1zM40 31h1v1h-1zM41 62h2v2h-2zM35 45h1v1h-1zM32 48h1v1h-1zM47 43h1v1h-1zM20 10h1v1h-1zM14 59h1v1h-1zM2 22h1v1h-1zM61 46h1v1h-1zM23 20h1v1h-1zM22 16h1v1h-1zM44 8h1v1h-1zM16 6h1v1h-1zM40 45h1v1h-1zM38 19h1v1h-1zM30 21h1v1h-1zM27 17h1v1h-1zM45 25h2v2h-2zM59 22h1v1h-1zM20 25h1v1h-1z"/><path fill="#4a1070" d="M20 0h1v1h-1zM8 35h1v1h-1zM43 11h1v1h-1zM11 47h1v1h-1zM4 40h1v1h-1zM33 55h2v2h-2zM44 26h2v2h-2zM52 59h1v1h-1zM19 43h1v1h-1zM48 30h1v1h-1zM0 23h2v2h-2zM13 30h1v1h-1zM49 25h2v2h-2zM51 7h1v1h-1zM1 0h2v2h-2zM9 11h1v1h-1zM24 10h1v1h-1zM49 43h1v1h-1zM33 5h1v1h-1zM18 1h1v1h-1zM0 11h1v1h-1zM43 47h1v1h-1zM32 22h1v1h-1zM37 24h1v1h-1zM31 34h2v2h-2zM49 15h1v1h-1zM27 56h2v2h-2zM41 46h1v1h-1zM7 37h1v1h-1zM40 44h1v1h-1zM10 23h1v1h-1zM53 32h1v1h-1zM46 47h1v1h-1zM16 53h2v2h-2zM20 2h1v1h-1zM42 53h1v1h-1zM0 14h2v2h-2zM4 24h1v1h-1zM6 1h2v2h-2zM18 14h1v1h-1zM3 22h1v1h-1zM48 4h1v1h-1zM6 39h1v1h-1zM37 16h1v1h-1zM58 56h1v1h-1zM39 55h1v1h-1zM13 50h1v1h-1zM49 7h1v1h-1zM8 14h1v1h-1zM36 62h1v1h-1zM9 32h1v1h-1zM33 40h1v1h-1zM58 61h2v2h-2zM6 34h1v1h-1zM23 18h2v2h-2zM2 49h1v1h-1zM47 12h1v1h-1zM15 2h1v1h-1zM28 7h1v1h-1zM24 26h1v1h-1zM61 36h1v1h-1zM52 11h1v1h-1zM1 42h2v2h-2zM59 21h1v1h-1zM40 29h1v1h-1zM57 50h2v2h-2zM49 34h1v1h-1zM53 12h1v1h-1zM43 43h1v1h-1z"/><path fill="#702080" d="M29 47h1v1h-1zM48 42h1v1h-1zM59 2h1v1h-1zM21 19h1v1h-1zM41 37h1v1h-1zM2 56h1v1h-1zM33 8h1v1h-1zM29 58h1v1h-1zM23 6h1v1h-1zM0 18h1v1h-1zM21 57h1v1h-1zM24 44h2v2h-2zM60 1h2v2h-2zM9 5h1v1h-1zM33 9h1v1h-1zM10 2h1v1h-1zM9 24h1v1h-1zM51 24h1v1h-1zM38 2h1v1h-1zM48 16h1v1h-1zM25 61h1v1h-1zM42 54h2v2h-2zM24 2h1v1h-1zM30 58h1v1h-1zM59 42h1v1h-1zM13 49h1v1h-1zM13 0h1v1h-1zM44 57h1v1h-1zM30 22h1v1h-1zM17 51h1v1h-1zM12 3h1v1h-1z"/></pattern><pattern id="h2" patternUnits="userSpaceOnUse" x="13" y="210" width="64" height="64"><path fill="#3030ff" d="M38 10h1v1h-1zM8 50h1v1h-1zM42 31h1v1h-1zM4 53h1v1h-1zM42 58h1v1h-1zM5 24h1v1h-1zM26 19h1v1h-1zM11 18h1v1h-1zM17 13h1v1h-1zM11 59h1v1h-1zM57 28h1v1h-1zM36 17h1v1h-1zM61 14h1v1h-1zM29 22h2v2h-2zM10 13h1v1h-1zM4 32h1v1h-1zM20 51h1v1h-1zM45 61h1v1h-1zM54 34h1v1h-1zM15 47h1v1h-1zM12 43h1v1h-1zM38 43h1v1h-1zM34 47h1v1h-1zM46 58h1v1h-1zM58 25h1v1h-1zM45 4h1v1h-1zM46 38h1v1h-1zM0 54h1v1h-1zM26 7h2v2h-2zM45 36h1v1h-1zM24 56h1v1h-1zM48 32h1v1h-1zM10 62h1v1h-1zM28 35h2v2h-2zM44 35h1v1h-1zM24 62h1v1h-1zM39 21h1v1h-1zM24 0h1v1h-1zM18 44h1v1h-1zM51 16h1v1h-1zM8 34h1v1h-1zM30 24h1v1h-1zM37 9h2v2h-2zM32 25h1v1h-1zM35 35h1v1h-1zM7 37h1v1h-1zM2 29h1v1h-1zM2 27h1v1h-1zM35 11h1v1h-1zM6 21h2v2h-2zM17 48h1v1h-1zM10 27h1v1h-1zM17 23h1v1h-1zM13 42h1v1h-1zM26 58h1v1h-1zM37 57h1v1h-1zM30 48h1v1h-1zM42 5h1v1h-1zM51 11h1v1h-1zM34 48h1v1h-1zM10 31h1v1h-1zM46 59h1v1h-1zM40 45h1v1h-1zM32 52h2v2h-2zM25 58h1v1h-1zM7 16h1v1h-1zM49 39h1v1h-1zM35 31h1v1h-1zM25 23h1v1h-1zM1 59h1v1h-1zM37 50h1v1h-1zM44 0h2v2h-2zM38 43h1v1h-1zM46 45h1v1h-1zM54 36h1v1h-1zM60 42h1v1h-1zM29 36h1v1h-1zM50 60h1v1h-1zM48 14h1v1h-1zM45 32h2v2h-2zM52 22h1v1h-1zM32 5h1v1h-1zM29 48h1v1h-1zM27 0h1v1h-1zM2 50h1v1h-1zM12 35h1v1h-1zM53 25h1v1h-1zM61 32h1v1h-1zM18 17h1v1h-1zM2 36h1v1h-1zM21 30h1v1h-1zM48 22h1v1h-1zM9 58h2v2h-2zM3 56h1v1h-1zM7 36h1v1h-1zM28 27h1v1h-1zM48 14h1v1h-1zM31 61h1v1h-1zM6 55h1v1h-1zM44 33h1v1h-1zM0 59h1v1h-1zM1 6h1v1h-1zM12 46h1v1h-1zM56 32h1v1h-1zM3 54h1v1h-1zM42 17h1v1h-1zM15 26h1v1h-1zM15 31h1v1h-1zM34 61h1v1h-1zM46 44h1v1h-1zM13 56h1v1h-1zM11 61h2v2h-2zM31 2h1v1h-1zM3 22h1v1h-1zM15 37h2v2h-2zM9 3h1v1h-1zM52 50h1v1h-1zM35 3h1v1h-1zM24 23h1v1h-1zM27 23h1v1h-1zM48 11h1v1h-1zM0 4h1v1h-1zM41 47h1v1h-1zM33 11h1v1h-1zM18 54h1v1h-1zM53 55h1v1h-1zM40 21h1v1h-1zM26 39h1v1h-1zM39 16h1v1h-1zM26 27h1v1h-1zM43 60h1v1h-1zM3 12h1v1h-1zM21 22h1v1h-1zM36 36h1v1h-1zM45 3h1v1h-1zM22 48h1v1h-1zM24 8h1v1h-1zM42 39h1v1h-1zM8 49h1v1h-1zM51 62h1v1h-1zM19 35h1v1h-1zM18 24h1v1h-1zM44 10h1v1h-1zM39 15h2v2h-2zM44 55h1v1h-1zM14 18h2v2h-2zM21 4h1v1h-1zM3 31h1v1h-1zM7 55h1v1h-1zM19 55h1v1h-1zM5 23h1v1h-1zM34 5h2v2h-2zM36 29h1v1h-1zM54 45h2v2h-2zM42 35h1v1h-1zM48 57h1v1h-1zM37 43h1v1h-1z"/><path fill="#2020d8" d="M38 35h1v1h-1zM32 54h1v1h-1zM31 13h1v1h-1zM39 41h1v1h-1zM27 34h1v1h-1zM39 54h1v1h-1zM13 25h1v1h-1zM50 51h1v1h-1zM14 5h1v1h-1zM52 60h1v1h-1zM30 54h2v2h-2zM17 56h1v1h-1zM12 6h1v1h-1zM43 5h1v1h-1zM17 5h1v1h-1zM50 0h1v1h-1zM42 4h1v1h-1zM22 53h1v1h-1zM11 24h2v2h-2zM48 2h1v1h-1zM34 23h1v1h-1zM5 40h1v1h-1zM48 29h1v1h-1zM6 20h1v1h-1zM12 18h1v1h-1zM24 6h1v1h-1zM7 53h1v1h-1zM46 48h1v1h-1zM49 18h1v1h-1zM11 26h1v1h-1zM30 51h1v1h-1zM41 58h1v1h-1zM11 23h1v1h-1zM53 62h1v1h-1zM1 61h1v1h-1zM28 44h1v1h-1zM28 26h1v1h-1zM12 35h1v1h-1zM26 37h1v1h-1zM60 17h1v1h-1zM31 37h1v1h-1zM48 22h1v1h-1zM29 37h1v1h-1zM62 46h1v1h-1zM40 22h1v1h-1zM53 0h1v1h-1zM52 47h1v1h-1zM17 59h1v1h-1zM3 23h1v1h-1zM47 58h2v2h-2zM60 5h1v1h-1zM30 1h1v1h-1zM33 61h1v1h-1zM38 11h1v1h-1zM1 13h1v1h-1zM45 0h1v1h-1zM12 53h1v1h-1zM61 47h2v2h-2zM48 27h1v1h-1zM61 34h1v1h-1zM21 61h1v1h-1zM15 5h1v1h-1zM8 23h2v2h-2zM7 51h1v1h-1zM31 33h1v1h-1zM54 17h1v1h-1zM46 17h1v1h-1zM17 27h1v1h-1zM29 47h1v1h-1zM31 21h2v2h-2zM0 29h1v1h-1zM33 21h1v1h-1zM31 44h1v1h-1zM48 26h1v1h-1zM0 7h2v2h-2zM38 31h1v1h-1zM43 2h1v1h-1zM12 46h1v1h-1zM20 44h2v2h-2zM21 37h2v2h-2zM6 6h1v1h-1zM56 20h1v1h-1zM54 22h2v2h-2zM34 49h1v1h-1zM27 21h1v1h-1zM60 56h1v1h-1zM30 53h1v1h-1zM40 41h1v1h-1zM35 7h1v1h-1zM21 35h1v1h-1zM7 10h1v1h-1zM19 21h1v1h-1zM9 3h1v1h-1zM41 19h1v1h-1zM57 61h1v1h-1zM20 1h1v1h-1zM58 7h1v1h-1zM40 18h1v1h-1zM33 50h1v1h-1zM16 54h1v1h-1zM2 18h1v1h-1zM42 60h2v2h-2zM29 61h1v1h-1zM15 5h1v1h-1zM31 36h1v1h-1zM45 17h1v1h-1zM23 36h1v1h-1zM52 41h1v1h-1zM27 34h1v1h-1zM46 7h1v1h-1zM34 38h1v1h-1zM61 7h1v1h-1zM22 0h2v2h-2zM45 28h1v1h-1zM37 18h1v1h-1zM37 22h1v1h-1zM10 33h1v1h-1zM56 53h1v1h-1zM35 21h1v1h-1zM25 57h1v1h-1zM36 23h1v1h-1zM57 27h1v1h-1zM52 25h1v1h-1zM54 53h2v2h-2zM19 23h1v1h-1zM42 29h1v1h-1zM7 6h1v1h-1zM52 49h1v1h-1zM20 17h2v2h-2zM48 1h1v1h-1zM50 19h1v1h-1zM13 17h1v1h-1zM37 0h1v1h-1zM14 23h1v1h-1zM20 34h1v1h-1zM9 61h1v1h-1zM61 16h1v1h-1zM4 22h1v1h-1zM52 47h1v1h-1zM30 5h1v1h-1zM28 57h1v1h-1zM8 48h1v1h-1zM33 34h1v1h-1zM17 35h1v1h-1zM52 13h1v1h-1zM21 53h1v1h-1zM44 62h1v1h-1zM5 18h1v1h-1zM33 49h1v1h-1zM43 31h1v1h-1zM3 31h1v1h-1zM2 1h1v1h-1zM19 59h1v1h-1z"/><path fill="#1414a0" d="M51 39h1v1h-1zM37 57h1v1h-1zM32 24h1v1h-1zM44 59h1v1h-1zM17 48h1v1h-1zM1 31h1v1h-1zM34 4h1v1h-1zM40 12h1v1h-1zM1 28h2v2h-2zM33 60h1v1h-1zM24 27h1v1h-1zM50 42h1v1h-1zM16 46h1v1h-1zM43 61h2v2h-2zM44 15h1v1h-1zM9 0h1v1h-1zM52 55h1v1h-1zM15 22h1v1h-1zM25 20h1v1h-1zM46 37h1v1h-1zM32 9h1v1h-1zM20 8h1v1h-1zM6 46h1v1h-1zM20 46h1v1h-1zM55 57h1v1h-1zM58 61h2v2h-2zM36 53h2v2h-2zM35 11h2v2h-2zM25 33h1v1h-1zM57 53h1v1h-1zM38 50h1v1h-1zM27 17h1v1h-1zM40 37h1v1h-1zM46 41h1v1h-1zM60 58h1v1h-1zM3 10h1v1h-1zM7 34h1v1h-1zM19 23h1v1h-1zM33 24h1v1h-1zM10 44h2v2h-2zM40 59h1v1h-1zM44 59h1v1h-1zM37 38h1v1h-1zM31 28h1v1h-1zM12 14h1v1h-1zM32 4h1v1h-1zM49 24h1v1h-1zM39 6h2v2h-2zM51 40h1v1h-1zM31 14h1v1h-1zM41 28h1v1h-1zM44 1h1v1h-1zM35 31h1v1h-1zM62 43h2v2h-2zM10 42h1v1h-1zM62 50h1v1h-1zM52 28h1v1h-1zM12 56h1v1h-1zM38 58h1v1h-1zM21 16h1v1h-1zM45 46h1v1h-1zM46 25h1v1h-1zM37 47h1v1h-1zM58 57h2v2h-2zM15 0h1v1h-1zM16 1h1v1h-1zM60 38h1v1h-1zM22 10h1v1h-1zM20 40h1v1h-1zM17 33h1v1h-1zM12 56h1v1h-1zM1 19h1v1h-1zM43 24h1v1h-1zM17 41h1v1h-1zM15 31h1v1h-1zM3 56h1v1h-1zM5 3h1v1h-1zM0 7h1v1h-1zM10 10h1v1h-1zM51 54h1v1h-1zM22 1h1v1h-1zM54 29h1v1h-1zM31 48h2v2h-2zM19 27h1v1h-1zM46 18h1v1h-1zM17 43h1v1h-1zM45 38h1v1h-1zM2 9h1v1h-1zM27 60h1v1h-1zM11 52h2v2h-2zM61 57h1v1h-1zM4 13h1v1h-1zM1 20h1v1h-1zM23 27h1v1h-1zM21 6h1v1h-1zM61 14h1v1h-1zM45 28h1v1h-1zM18 30h1v1h-1zM24 11h1v1h-1zM0 10h1v1h-1zM50 39h1v1h-1zM1 42h1v1h-1zM44 46h1v1h-1zM5 36h1v1h-1zM21 10h1v1h-1zM37 8h1v1h-1zM49 18h1v1h-1zM13 21h1v1h-1zM47 25h1v1h-1zM41 39h1v1h-1zM24 53h1v1h-1zM11 43h1v1h-1zM24 56h1v1h-1zM25 22h1v1h-1zM11 59h1v1h-1zM41 3h1v1h-1zM53 22h1v1h-1zM30 17h1v1h-1zM60 10h1v1h-1zM61 20h1v1h-1zM17 34h1v1h-1zM38 40h1v1h-1zM52 19h1v1h-1zM45 28h1v1h-1zM10 53h1v1h-1zM25 18h1v1h-1zM4 8h1v1h-1zM35 31h1v1h-1z"/></pattern><pattern id="e2" patternUnits="userSpaceOnUse" x="79" y="210" width="64" height="64"><path fill="#6a0010" d="M30 38h2v2h-2zM7 13h1v1h-1zM23 32h1v1h-1zM34 21h1v1h-1zM11 34h1v1h-1zM21 40h1v1h-1zM6 35h1v1h-1zM40 59h1v1h-1zM42 49h1v1h-1zM33 47h1v1h-1zM41 29h1v1h-1zM58 40h1v1h-1zM60 39h1v1h-1zM26 29h1v1h-1zM12 12h2v2h-2zM47 25h1v1h-1zM35 22h1v1h-1zM34 20h1v1h-1zM12 38h1v1h-1zM2 15h1v1h-1zM59 4h2v2h-2zM16 1h1v1h-1zM9 7h1v1h-1zM30 8h1v1h-1zM26 4h2v2h-2zM45 6h2v2h-2zM40 0h1v1h-1zM14 48h1v1h-1zM10 20h1v1h-1zM36 62h1v1h-1zM16 7h1v1h-1zM61 5h2v2h-2zM42 1h1v1h-1zM29 19h1v1h-1zM29 26h2v2h-2zM22 28h1v1h-1zM0 43h1v1h-1zM35 5h1v1h-1zM53 47h1v1h-1zM35 14h1v1h-1zM18 31h1v1h-1zM46 3h2v2h-2zM58 24h1v1h-1zM52 40h1v1h-1zM30 32h1v1h-1zM59 54h1v1h-1zM59 26h1v1h-1zM24 59h1v1h-1zM11 48h1v1h-1zM4 53h2v2h-2zM27 45h1v1h-1zM53 49h1v1h-1zM52 23h1v1h-1zM2 55h2v2h-2zM3 22h2v2h-2zM37 60h1v1h-1zM29 16h1v1h-1zM53 51h1v1h-1zM7 53h1v1h-1z"/><path fill="#9a1020" d="M40 25h1v1h-1zM2 15h1v1h-1zM2 16h1v1h-1zM0 59h2v2h-2zM59 18h1v1h-1zM38 14h1v1h-1zM31 23h2v2h-2zM23 9h1v1h-1zM48 28h1v1h-1zM59 43h2v2h-2zM49 21h2v2h-2zM14 58h1v1h-1zM43 50h1v1h-1zM41 25h1v1h-1zM57 32h1v1h-1zM23 27h2v2h-2zM12 46h1v1h-1zM50 43h1v1h-1zM3 21h1v1h-1zM52 12h1v1h-1zM36 32h2v2h-2zM54 8h1v1h-1zM52 4h1v1h-1zM18 26h1v1h-1zM37 37h1v1h-1zM27 58h1v1h-1zM26 54h1v1h-1zM43 40h1v1h-1zM44 16h1v1h-1zM61 6h1v1h-1zM48 44h1v1h-1zM17 48h2v2h-2zM44 60h1v1h-1zM56 3h1v1h-1zM9 28h1v1h-1zM48 59h1v1h-1zM13 20h1v1h-1zM34 1h1v1h-1zM36 16h1v1h-1zM47 23h1v1h-1zM32 3h1v1h-1zM42 51h2v2h-2zM15 1h1v1h-1zM6 37h2v2h-2zM20 7h1v1h-1z"/><path fill="#d02030" d="M26 53h1v1h-1zM20 8h1v1h-1zM16 2h2v2h-2zM19 40h1v1h-1zM62 15h1v1h-1zM6 57h1v1h-1zM8 62h1v1h-1zM46 17h2v2h-2zM44 57h1v1h-1zM51 13h2v2h-2zM52 34h1v1h-1zM13 30h1v1h-1zM47 48h2v2h-2zM11 51h2v2h-2zM53 32h1v1h-1zM50 11h2v2h-2z"/></pattern><pattern id="m2" patternUnits="userSpaceOnUse" x="144" y="210" width="64" height="64"><path fill="#3030ff" d="M38 10h1v1h-1zM8 50h1v1h-1zM42 31h1v1h-1zM4 53h1v1h-1zM42 58h1v1h-1zM5 24h1v1h-1zM26 19h1v1h-1zM11 18h1v1h-1zM17 13h1v1h-1zM11 59h1v1h-1zM57 28h1v1h-1zM36 17h1v1h-1zM61 14h1v1h-1zM29 22h2v2h-2zM10 13h1v1h-1zM4 32h1v1h-1zM20 51h1v1h-1zM45 61h1v1h-1zM54 34h1v1h-1zM15 47h1v1h-1zM12 43h1v1h-1zM38 43h1v1h-1zM34 47h1v1h-1zM46 58h1v1h-1zM58 25h1v1h-1zM45 4h1v1h-1zM46 38h1v1h-1zM0 54h1v1h-1zM26 7h2v2h-2zM45 36h1v1h-1zM24 56h1v1h-1zM48 32h1v1h-1zM10 62h1v1h-1zM28 35h2v2h-2zM44 35h1v1h-1zM24 62h1v1h-1zM39 21h1v1h-1zM24 0h1v1h-1zM18 44h1v1h-1zM51 16h1v1h-1zM8 34h1v1h-1zM30 24h1v1h-1zM37 9h2v2h-2zM32 25h1v1h-1zM35 35h1v1h-1zM7 37h1v1h-1zM2 29h1v1h-1zM2 27h1v1h-1zM35 11h1v1h-1zM6 21h2v2h-2zM17 48h1v1h-1zM10 27h1v1h-1zM17 23h1v1h-1zM13 42h1v1h-1zM26 58h1v1h-1zM37 57h1v1h-1zM30 48h1v1h-1zM42 5h1v1h-1zM51 11h1v1h-1zM34 48h1v1h-1zM10 31h1v1h-1zM46 59h1v1h-1zM40 45h1v1h-1zM32 52h2v2h-2zM25 58h1v1h-1zM7 16h1v1h-1zM49 39h1v1h-1zM35 31h1v1h-1zM25 23h1v1h-1zM1 59h1v1h-1zM37 50h1v1h-1zM44 0h2v2h-2zM38 43h1v1h-1zM46 45h1v1h-1zM54 36h1v1h-1zM60 42h1v1h-1zM29 36h1v1h-1zM50 60h1v1h-1zM48 14h1v1h-1zM45 32h2v2h-2zM52 22h1v1h-1zM32 5h1v1h-1zM29 48h1v1h-1zM27 0h1v1h-1zM2 50h1v1h-1zM12 35h1v1h-1zM53 25h1v1h-1zM61 32h1v1h-1zM18 17h1v1h-1zM2 36h1v1h-1zM21 30h1v1h-1zM48 22h1v1h-1zM9 58h2v2h-2zM3 56h1v1h-1zM7 36h1v1h-1zM28 27h1v1h-1zM48 14h1v1h-1zM31 61h1v1h-1zM6 55h1v1h-1zM44 33h1v1h-1zM0 59h1v1h-1zM1 6h1v1h-1zM12 46h1v1h-1zM56 32h1v1h-1zM3 54h1v1h-1zM42 17h1v1h-1zM15 26h1v1h-1zM15 31h1v1h-1zM34 61h1v1h-1zM46 44h1v1h-1zM13 56h1v1h-1zM11 61h2v2h-2zM31 2h1v1h-1zM3 22h1v1h-1zM15 37h2v2h-2zM9 3h1v1h-1zM52 50h1v1h-1zM35 3h1v1h-1zM24 23h1v1h-1zM27 23h1v1h-1zM48 11h1v1h-1zM0 4h1v1h-1zM41 47h1v1h-1zM33 11h1v1h-1zM18 54h1v1h-1zM53 55h1v1h-1zM40 21h1v1h-1zM26 39h1v1h-1zM39 16h1v1h-1zM26 27h1v1h-1zM43 60h1v1h-1zM3 12h1v1h-1zM21 22h1v1h-1zM36 36h1v1h-1zM45 3h1v1h-1zM22 48h1v1h-1zM24 8h1v1h-1zM42 39h1v1h-1zM8 49h1v1h-1zM51 62h1v1h-1zM19 35h1v1h-1zM18 24h1v1h-1zM44 10h1v1h-1zM39 15h2v2h-2zM44 55h1v1h-1zM14 18h2v2h-2zM21 4h1v1h-1zM3 31h1v1h-1zM7 55h1v1h-1zM19 55h1v1h-1zM5 23h1v1h-1zM34 5h2v2h-2zM36 29h1v1h-1zM54 45h2v2h-2zM42 35h1v1h-1zM48 57h1v1h-1zM37 43h1v1h-1z"/><path fill="#2020d8" d="M38 35h1v1h-1zM32 54h1v1h-1zM31 13h1v1h-1zM39 41h1v1h-1zM27 34h1v1h-1zM39 54h1v1h-1zM13 25h1v1h-1zM50 51h1v1h-1zM14 5h1v1h-1zM52 60h1v1h-1zM30 54h2v2h-2zM17 56h1v1h-1zM12 6h1v1h-1zM43 5h1v1h-1zM17 5h1v1h-1zM50 0h1v1h-1zM42 4h1v1h-1zM22 53h1v1h-1zM11 24h2v2h-2zM48 2h1v1h-1zM34 23h1v1h-1zM5 40h1v1h-1zM48 29h1v1h-1zM6 20h1v1h-1zM12 18h1v1h-1zM24 6h1v1h-1zM7 53h1v1h-1zM46 48h1v1h-1zM49 18h1v1h-1zM11 26h1v1h-1zM30 51h1v1h-1zM41 58h1v1h-1zM11 23h1v1h-1zM53 62h1v1h-1zM1 61h1v1h-1zM28 44h1v1h-1zM28 26h1v1h-1zM12 35h1v1h-1zM26 37h1v1h-1zM60 17h1v1h-1zM31 37h1v1h-1zM48 22h1v1h-1zM29 37h1v1h-1zM62 46h1v1h-1zM40 22h1v1h-1zM53 0h1v1h-1zM52 47h1v1h-1zM17 59h1v1h-1zM3 23h1v1h-1zM47 58h2v2h-2zM60 5h1v1h-1zM30 1h1v1h-1zM33 61h1v1h-1zM38 11h1v1h-1zM1 13h1v1h-1zM45 0h1v1h-1zM12 53h1v1h-1zM61 47h2v2h-2zM48 27h1v1h-1zM61 34h1v1h-1zM21 61h1v1h-1zM15 5h1v1h-1zM8 23h2v2h-2zM7 51h1v1h-1zM31 33h1v1h-1zM54 17h1v1h-1zM46 17h1v1h-1zM17 27h1v1h-1zM29 47h1v1h-1zM31 21h2v2h-2zM0 29h1v1h-1zM33 21h1v1h-1zM31 44h1v1h-1zM48 26h1v1h-1zM0 7h2v2h-2zM38 31h1v1h-1zM43 2h1v1h-1zM12 46h1v1h-1zM20 44h2v2h-2zM21 37h2v2h-2zM6 6h1v1h-1zM56 20h1v1h-1zM54 22h2v2h-2zM34 49h1v1h-1zM27 21h1v1h-1zM60 56h1v1h-1zM30 53h1v1h-1zM40 41h1v1h-1zM35 7h1v1h-1zM21 35h1v1h-1zM7 10h1v1h-1zM19 21h1v1h-1zM9 3h1v1h-1zM41 19h1v1h-1zM57 61h1v1h-1zM20 1h1v1h-1zM58 7h1v1h-1zM40 18h1v1h-1zM33 50h1v1h-1zM16 54h1v1h-1zM2 18h1v1h-1zM42 60h2v2h-2zM29 61h1v1h-1zM15 5h1v1h-1zM31 36h1v1h-1zM45 17h1v1h-1zM23 36h1v1h-1zM52 41h1v1h-1zM27 34h1v1h-1zM46 7h1v1h-1zM34 38h1v1h-1zM61 7h1v1h-1zM22 0h2v2h-2zM45 28h1v1h-1zM37 18h1v1h-1zM37 22h1v1h-1zM10 33h1v1h-1zM56 53h1v1h-1zM35 21h1v1h-1zM25 57h1v1h-1zM36 23h1v1h-1zM57 27h1v1h-1zM52 25h1v1h-1zM54 53h2v2h-2zM19 23h1v1h-1zM42 29h1v1h-1zM7 6h1v1h-1zM52 49h1v1h-1zM20 17h2v2h-2zM48 1h1v1h-1zM50 19h1v1h-1zM13 17h1v1h-1zM37 0h1v1h-1zM14 23h1v1h-1zM20 34h1v1h-1zM9 61h1v1h-1zM61 16h1v1h-1zM4 22h1v1h-1zM52 47h1v1h-1zM30 5h1v1h-1zM28 57h1v1h-1zM8 48h1v1h-1zM33 34h1v1h-1zM17 35h1v1h-1zM52 13h1v1h-1zM21 53h1v1h-1zM44 62h1v1h-1zM5 18h1v1h-1zM33 49h1v1h-1zM43 31h1v1h-1zM3 31h1v1h-1zM2 1h1v1h-1zM19 59h1v1h-1z"/><path fill="#1414a0" d="M51 39h1v1h-1zM37 57h1v1h-1zM32 24h1v1h-1zM44 59h1v1h-1zM17 48h1v1h-1zM1 31h1v1h-1zM34 4h1v1h-1zM40 12h1v1h-1zM1 28h2v2h-2zM33 60h1v1h-1zM24 27h1v1h-1zM50 42h1v1h-1zM16 46h1v1h-1zM43 61h2v2h-2zM44 15h1v1h-1zM9 0h1v1h-1zM52 55h1v1h-1zM15 22h1v1h-1zM25 20h1v1h-1zM46 37h1v1h-1zM32 9h1v1h-1zM20 8h1v1h-1zM6 46h1v1h-1zM20 46h1v1h-1zM55 57h1v1h-1zM58 61h2v2h-2zM36 53h2v2h-2zM35 11h2v2h-2zM25 33h1v1h-1zM57 53h1v1h-1zM38 50h1v1h-1zM27 17h1v1h-1zM40 37h1v1h-1zM46 41h1v1h-1zM60 58h1v1h-1zM3 10h1v1h-1zM7 34h1v1h-1zM19 23h1v1h-1zM33 24h1v1h-1zM10 44h2v2h-2zM40 59h1v1h-1zM44 59h1v1h-1zM37 38h1v1h-1zM31 28h1v1h-1zM12 14h1v1h-1zM32 4h1v1h-1zM49 24h1v1h-1zM39 6h2v2h-2zM51 40h1v1h-1zM31 14h1v1h-1zM41 28h1v1h-1zM44 1h1v1h-1zM35 31h1v1h-1zM62 43h2v2h-2zM10 42h1v1h-1zM62 50h1v1h-1zM52 28h1v1h-1zM12 56h1v1h-1zM38 58h1v1h-1zM21 16h1v1h-1zM45 46h1v1h-1zM46 25h1v1h-1zM37 47h1v1h-1zM58 57h2v2h-2zM15 0h1v1h-1zM16 1h1v1h-1zM60 38h1v1h-1zM22 10h1v1h-1zM20 40h1v1h-1zM17 33h1v1h-1zM12 56h1v1h-1zM1 19h1v1h-1zM43 24h1v1h-1zM17 41h1v1h-1zM15 31h1v1h-1zM3 56h1v1h-1zM5 3h1v1h-1zM0 7h1v1h-1zM10 10h1v1h-1zM51 54h1v1h-1zM22 1h1v1h-1zM54 29h1v1h-1zM31 48h2v2h-2zM19 27h1v1h-1zM46 18h1v1h-1zM17 43h1v1h-1zM45 38h1v1h-1zM2 9h1v1h-1zM27 60h1v1h-1zM11 52h2v2h-2zM61 57h1v1h-1zM4 13h1v1h-1zM1 20h1v1h-1zM23 27h1v1h-1zM21 6h1v1h-1zM61 14h1v1h-1zM45 28h1v1h-1zM18 30h1v1h-1zM24 11h1v1h-1zM0 10h1v1h-1zM50 39h1v1h-1zM1 42h1v1h-1zM44 46h1v1h-1zM5 36h1v1h-1zM21 10h1v1h-1zM37 8h1v1h-1zM49 18h1v1h-1zM13 21h1v1h-1zM47 25h1v1h-1zM41 39h1v1h-1zM24 53h1v1h-1zM11 43h1v1h-1zM24 56h1v1h-1zM25 22h1v1h-1zM11 59h1v1h-1zM41 3h1v1h-1zM53 22h1v1h-1zM30 17h1v1h-1zM60 10h1v1h-1zM61 20h1v1h-1zM17 34h1v1h-1zM38 40h1v1h-1zM52 19h1v1h-1zM45 28h1v1h-1zM10 53h1v1h-1zM25 18h1v1h-1zM4 8h1v1h-1zM35 31h1v1h-1z"/><path fill="#902090" d="M30 38h2v2h-2zM7 13h1v1h-1zM23 32h1v1h-1zM34 21h1v1h-1zM0 59h2v2h-2zM11 34h1v1h-1zM21 40h1v1h-1zM6 35h1v1h-1zM40 59h1v1h-1zM42 49h1v1h-1zM33 47h1v1h-1zM41 29h1v1h-1zM38 14h1v1h-1zM58 40h1v1h-1zM23 9h1v1h-1zM48 28h1v1h-1zM60 39h1v1h-1zM26 29h1v1h-1zM49 21h2v2h-2zM14 58h1v1h-1zM12 12h2v2h-2zM47 25h1v1h-1zM35 22h1v1h-1zM34 20h1v1h-1zM12 38h1v1h-1zM12 46h1v1h-1zM2 15h1v1h-1zM59 4h2v2h-2zM16 1h1v1h-1zM52 12h1v1h-1zM9 7h1v1h-1zM30 8h1v1h-1zM36 32h2v2h-2zM54 8h1v1h-1zM26 4h2v2h-2zM45 6h2v2h-2zM52 4h1v1h-1zM40 0h1v1h-1zM14 48h1v1h-1zM10 20h1v1h-1zM36 62h1v1h-1zM16 7h1v1h-1zM61 5h2v2h-2zM42 1h1v1h-1zM29 19h1v1h-1zM29 26h2v2h-2zM22 28h1v1h-1zM0 43h1v1h-1zM35 5h1v1h-1zM53 47h1v1h-1zM35 14h1v1h-1zM18 31h1v1h-1zM26 54h1v1h-1zM46 3h2v2h-2zM58 24h1v1h-1zM52 40h1v1h-1zM30 32h1v1h-1zM43 40h1v1h-1zM59 54h1v1h-1zM44 16h1v1h-1zM59 26h1v1h-1zM24 59h1v1h-1zM11 48h1v1h-1zM17 48h2v2h-2zM44 60h1v1h-1zM4 53h2v2h-2zM9 28h1v1h-1zM13 20h1v1h-1zM36 16h1v1h-1zM27 45h1v1h-1zM53 49h1v1h-1zM52 23h1v1h-1zM2 55h2v2h-2zM47 23h1v1h-1zM32 3h1v1h-1zM3 22h2v2h-2zM37 60h1v1h-1zM29 16h1v1h-1zM6 37h2v2h-2zM53 51h1v1h-1zM7 53h1v1h-1z"/><path fill="#d030b0" d="M40 25h1v1h-1zM26 53h1v1h-1zM20 8h1v1h-1zM2 15h1v1h-1zM16 2h2v2h-2zM2 16h1v1h-1zM19 40h1v1h-1zM62 15h1v1h-1zM6 57h1v1h-1zM59 18h1v1h-1zM31 23h2v2h-2zM59 43h2v2h-2zM43 50h1v1h-1zM8 62h1v1h-1zM41 25h1v1h-1zM46 17h2v2h-2zM44 57h1v1h-1zM57 32h1v1h-1zM23 27h2v2h-2zM51 13h2v2h-2zM50 43h1v1h-1zM3 21h1v1h-1zM52 34h1v1h-1zM13 30h1v1h-1zM47 48h2v2h-2zM18 26h1v1h-1zM37 37h1v1h-1zM27 58h1v1h-1zM11 51h2v2h-2zM53 32h1v1h-1zM61 6h1v1h-1zM48 44h1v1h-1zM56 3h1v1h-1zM48 59h1v1h-1zM34 1h1v1h-1zM50 11h2v2h-2zM42 51h2v2h-2zM15 1h1v1h-1zM20 7h1v1h-1z"/></pattern><pattern id="h3" patternUnits="userSpaceOnUse" x="284" y="143" width="64" height="64"><path fill="#3030ff" d="M37 7h1v1h-1zM14 6h1v1h-1zM25 45h1v1h-1zM34 42h1v1h-1zM26 18h1v1h-1zM48 55h1v1h-1zM15 28h1v1h-1zM0 62h1v1h-1zM3 58h1v1h-1zM41 6h1v1h-1zM46 25h2v2h-2zM1 16h1v1h-1zM28 37h1v1h-1zM8 21h1v1h-1zM32 22h1v1h-1zM24 57h1v1h-1zM27 23h1v1h-1zM55 2h1v1h-1zM1 29h1v1h-1zM37 3h1v1h-1zM49 29h1v1h-1zM55 53h1v1h-1zM30 31h1v1h-1zM53 23h1v1h-1zM59 56h1v1h-1zM52 12h1v1h-1zM38 41h1v1h-1zM23 35h1v1h-1zM60 26h1v1h-1zM48 28h1v1h-1zM13 52h1v1h-1zM9 34h1v1h-1zM13 10h1v1h-1zM25 48h1v1h-1zM17 37h1v1h-1zM46 57h1v1h-1zM3 44h1v1h-1zM50 59h2v2h-2zM59 38h1v1h-1zM48 9h1v1h-1zM36 20h1v1h-1zM36 40h1v1h-1zM20 7h1v1h-1zM26 54h1v1h-1zM56 39h1v1h-1zM6 16h1v1h-1zM16 7h1v1h-1zM49 22h1v1h-1zM36 32h1v1h-1zM9 55h1v1h-1zM27 56h1v1h-1zM61 47h1v1h-1zM27 41h1v1h-1zM4 36h1v1h-1zM5 6h1v1h-1zM14 8h1v1h-1zM22 43h2v2h-2zM14 46h1v1h-1zM17 4h1v1h-1zM39 40h1v1h-1zM26 18h1v1h-1zM29 37h1v1h-1zM29 14h1v1h-1zM21 29h1v1h-1zM34 52h1v1h-1zM13 0h1v1h-1zM24 6h1v1h-1zM37 26h1v1h-1zM27 14h1v1h-1zM51 23h1v1h-1zM3 15h1v1h-1zM39 28h1v1h-1zM32 4h1v1h-1zM22 9h1v1h-1zM54 44h1v1h-1zM54 32h1v1h-1zM3 22h1v1h-1zM46 61h1v1h-1zM37 60h1v1h-1zM14 27h1v1h-1zM62 21h1v1h-1zM47 49h1v1h-1zM2 50h1v1h-1zM2 9h1v1h-1zM30 30h1v1h-1zM58 25h1v1h-1zM30 14h1v1h-1zM2 41h1v1h-1zM6 35h1v1h-1zM35 25h1v1h-1zM22 38h1v1h-1zM61 1h1v1h-1zM35 48h1v1h-1zM54 0h1v1h-1zM26 5h1v1h-1zM9 44h1v1h-1zM32 11h1v1h-1zM19 36h1v1h-1zM62 60h1v1h-1zM44 53h1v1h-1zM20 31h1v1h-1zM46 24h1v1h-1zM29 45h1v1h-1zM7 5h1v1h-1zM54 48h1v1h-1zM2 40h1v1h-1zM39 3h1v1h-1zM27 34h1v1h-1zM44 12h1v1h-1zM33 27h1v1h-1zM11 53h1v1h-1zM50 19h1v1h-1zM18 20h1v1h-1zM59 6h1v1h-1zM13 17h1v1h-1zM21 13h1v1h-1zM54 54h1v1h-1zM21 49h1v1h-1zM29 21h1v1h-1zM30 4h1v1h-1zM41 61h1v1h-1zM24 43h1v1h-1zM54 56h1v1h-1zM21 53h1v1h-1zM8 38h1v1h-1zM53 51h1v1h-1zM25 17h1v1h-1zM44 0h1v1h-1zM33 56h1v1h-1zM46 28h1v1h-1zM56 14h1v1h-1zM51 54h1v1h-1zM62 41h1v1h-1zM61 37h1v1h-1zM38 33h1v1h-1zM23 9h1v1h-1zM11 50h1v1h-1zM23 33h1v1h-1zM25 12h1v1h-1zM42 5h1v1h-1zM37 57h1v1h-1zM17 54h1v1h-1zM51 0h1v1h-1zM34 0h1v1h-1zM50 5h1v1h-1zM29 51h1v1h-1zM13 16h1v1h-1zM58 5h1v1h-1zM2 21h1v1h-1zM41 50h1v1h-1zM27 18h1v1h-1zM46 56h1v1h-1zM58 45h1v1h-1zM11 56h1v1h-1zM50 12h1v1h-1zM4 17h1v1h-1zM8 58h1v1h-1zM15 26h1v1h-1zM7 6h1v1h-1zM61 37h1v1h-1zM14 45h2v2h-2zM48 21h1v1h-1zM39 28h1v1h-1zM60 20h1v1h-1zM4 13h1v1h-1zM18 7h1v1h-1zM0 29h1v1h-1zM58 46h1v1h-1zM40 34h1v1h-1zM15 31h1v1h-1zM2 17h1v1h-1zM28 62h1v1h-1zM62 49h1v1h-1zM4 8h1v1h-1zM43 50h1v1h-1zM58 4h1v1h-1zM25 7h1v1h-1zM33 27h1v1h-1zM60 46h1v1h-1zM36 13h1v1h-1zM28 4h1v1h-1zM3 51h1v1h-1z"/><path fill="#2020d8" d="M59 38h1v1h-1zM44 18h1v1h-1zM15 6h1v1h-1zM37 24h1v1h-1zM36 40h1v1h-1zM4 1h1v1h-1zM46 19h1v1h-1zM37 20h1v1h-1zM47 49h1v1h-1zM12 41h1v1h-1zM61 58h1v1h-1zM43 17h1v1h-1zM59 37h1v1h-1zM12 6h1v1h-1zM44 17h1v1h-1zM18 60h1v1h-1zM51 43h1v1h-1zM16 6h1v1h-1zM2 1h1v1h-1zM36 53h1v1h-1zM5 2h1v1h-1zM5 61h1v1h-1zM23 36h1v1h-1zM11 13h2v2h-2zM1 43h1v1h-1zM55 10h1v1h-1zM47 4h1v1h-1zM6 10h1v1h-1zM52 6h2v2h-2zM34 0h1v1h-1zM6 34h1v1h-1zM20 36h1v1h-1zM35 45h1v1h-1zM0 21h1v1h-1zM17 29h1v1h-1zM47 23h1v1h-1zM1 5h1v1h-1zM13 55h1v1h-1zM9 23h1v1h-1zM4 41h1v1h-1zM46 45h1v1h-1zM2 15h1v1h-1zM46 29h1v1h-1zM49 54h2v2h-2zM4 7h1v1h-1zM17 13h1v1h-1zM21 14h1v1h-1zM4 34h1v1h-1zM31 62h1v1h-1zM28 5h1v1h-1zM57 54h1v1h-1zM1 62h1v1h-1zM58 1h2v2h-2zM2 54h1v1h-1zM37 53h1v1h-1zM46 6h1v1h-1zM40 23h1v1h-1zM40 30h1v1h-1zM30 20h2v2h-2zM27 36h1v1h-1zM40 40h1v1h-1zM12 33h1v1h-1zM10 50h1v1h-1zM29 40h1v1h-1zM42 17h1v1h-1zM54 34h1v1h-1zM11 31h1v1h-1zM49 33h1v1h-1zM41 27h1v1h-1zM41 48h1v1h-1zM51 46h1v1h-1zM38 16h1v1h-1zM42 21h1v1h-1zM54 13h1v1h-1zM20 23h1v1h-1zM45 16h1v1h-1zM35 2h1v1h-1zM23 56h1v1h-1zM31 56h1v1h-1zM32 1h1v1h-1zM32 33h1v1h-1zM35 52h1v1h-1zM13 2h1v1h-1zM0 44h1v1h-1zM2 60h1v1h-1zM53 57h1v1h-1zM14 6h1v1h-1zM44 31h2v2h-2zM35 49h1v1h-1zM0 23h1v1h-1zM22 29h1v1h-1zM58 13h1v1h-1zM21 11h1v1h-1zM9 58h1v1h-1zM61 8h1v1h-1zM51 56h1v1h-1zM22 54h2v2h-2zM59 20h1v1h-1zM4 35h2v2h-2zM9 20h1v1h-1zM5 40h1v1h-1zM36 26h2v2h-2zM35 5h1v1h-1zM16 22h1v1h-1zM10 32h2v2h-2zM13 32h1v1h-1zM30 0h2v2h-2zM22 32h1v1h-1zM25 38h1v1h-1zM35 51h1v1h-1zM60 45h1v1h-1zM48 25h1v1h-1zM9 33h2v2h-2zM51 60h2v2h-2zM61 21h1v1h-1zM54 26h1v1h-1zM59 7h1v1h-1zM15 58h2v2h-2zM26 22h2v2h-2zM46 53h1v1h-1zM29 54h1v1h-1zM52 3h1v1h-1zM4 13h1v1h-1zM25 30h1v1h-1zM16 22h1v1h-1zM44 3h1v1h-1zM7 21h1v1h-1zM25 59h1v1h-1zM31 38h1v1h-1zM57 59h1v1h-1zM50 24h1v1h-1zM1 37h2v2h-2zM44 16h1v1h-1zM34 17h1v1h-1zM32 18h1v1h-1zM26 26h1v1h-1zM52 41h1v1h-1zM6 17h1v1h-1zM41 36h1v1h-1zM12 48h1v1h-1zM10 31h1v1h-1zM8 28h1v1h-1zM30 36h1v1h-1zM45 51h1v1h-1zM28 61h1v1h-1zM49 21h1v1h-1zM43 61h1v1h-1zM39 19h1v1h-1zM48 60h2v2h-2zM55 7h1v1h-1zM30 53h1v1h-1zM23 29h1v1h-1zM4 62h1v1h-1zM2 46h1v1h-1zM48 52h1v1h-1zM60 55h1v1h-1zM50 52h1v1h-1zM0 13h1v1h-1zM33 52h1v1h-1zM0 37h1v1h-1zM45 30h1v1h-1zM10 19h1v1h-1zM14 48h1v1h-1zM11 60h1v1h-1zM33 4h2v2h-2zM52 23h1v1h-1zM1 15h1v1h-1zM28 18h1v1h-1zM15 24h1v1h-1zM22 27h1v1h-1zM30 27h1v1h-1zM38 38h1v1h-1zM52 54h2v2h-2zM44 39h1v1h-1zM3 36h1v1h-1zM61 1h1v1h-1z"/><path fill="#1414a0" d="M28 44h1v1h-1zM7 5h1v1h-1zM35 51h1v1h-1zM43 5h1v1h-1zM35 48h1v1h-1zM4 27h1v1h-1zM33 35h1v1h-1zM33 61h1v1h-1zM58 42h1v1h-1zM58 0h1v1h-1zM46 50h1v1h-1zM3 17h1v1h-1zM46 60h1v1h-1zM16 41h1v1h-1zM13 18h1v1h-1zM18 14h1v1h-1zM40 46h1v1h-1zM61 39h1v1h-1zM62 46h1v1h-1zM43 53h1v1h-1zM17 45h1v1h-1zM53 18h1v1h-1zM56 45h1v1h-1zM26 45h1v1h-1zM44 9h1v1h-1zM31 21h1v1h-1zM38 37h2v2h-2zM31 5h1v1h-1zM29 15h1v1h-1zM8 41h1v1h-1zM4 38h1v1h-1zM11 7h1v1h-1zM60 32h1v1h-1zM45 34h1v1h-1zM62 54h1v1h-1zM31 1h1v1h-1zM29 42h1v1h-1zM17 8h1v1h-1zM39 8h1v1h-1zM33 4h1v1h-1zM8 56h1v1h-1zM50 49h1v1h-1zM59 22h1v1h-1zM36 41h1v1h-1zM34 6h1v1h-1zM58 28h2v2h-2zM39 25h1v1h-1zM7 15h1v1h-1zM37 47h1v1h-1zM56 11h1v1h-1zM9 30h1v1h-1zM20 1h1v1h-1zM32 39h1v1h-1zM30 20h1v1h-1zM15 56h1v1h-1zM31 51h1v1h-1zM55 52h1v1h-1zM55 29h1v1h-1zM51 6h1v1h-1zM46 53h1v1h-1zM26 20h1v1h-1zM42 59h1v1h-1zM2 19h1v1h-1zM37 42h1v1h-1zM38 57h1v1h-1zM59 34h1v1h-1zM40 14h1v1h-1zM7 42h1v1h-1zM49 50h1v1h-1zM44 6h1v1h-1zM29 48h1v1h-1zM46 27h1v1h-1zM9 18h1v1h-1zM33 25h1v1h-1zM58 8h1v1h-1zM12 25h1v1h-1zM56 15h1v1h-1zM17 46h1v1h-1zM47 61h1v1h-1zM59 59h1v1h-1zM32 38h1v1h-1zM33 31h1v1h-1zM27 61h1v1h-1zM30 12h1v1h-1zM29 10h1v1h-1zM5 17h1v1h-1zM32 42h1v1h-1zM15 56h1v1h-1zM2 26h1v1h-1zM56 62h1v1h-1zM54 21h1v1h-1zM51 54h1v1h-1zM39 48h1v1h-1zM14 31h2v2h-2zM2 50h1v1h-1zM7 41h1v1h-1zM25 31h2v2h-2zM47 8h1v1h-1zM8 36h1v1h-1zM16 39h1v1h-1zM39 58h1v1h-1zM23 38h1v1h-1zM9 17h1v1h-1zM56 8h2v2h-2zM56 9h1v1h-1zM33 8h1v1h-1zM6 14h1v1h-1zM37 47h1v1h-1zM14 20h1v1h-1zM33 40h1v1h-1zM13 3h1v1h-1zM45 19h1v1h-1zM46 20h1v1h-1zM59 40h1v1h-1zM38 53h1v1h-1zM7 53h1v1h-1zM8 35h1v1h-1zM60 61h1v1h-1zM35 60h1v1h-1zM55 6h1v1h-1zM61 36h1v1h-1zM59 28h1v1h-1zM50 26h1v1h-1zM10 35h1v1h-1zM56 19h1v1h-1zM59 56h1v1h-1zM40 50h1v1h-1zM30 30h1v1h-1zM12 40h1v1h-1zM1 48h1v1h-1zM37 29h1v1h-1zM20 43h1v1h-1zM41 31h1v1h-1zM45 61h1v1h-1zM7 33h1v1h-1zM34 30h1v1h-1zM45 38h1v1h-1zM29 8h1v1h-1zM12 26h1v1h-1zM23 26h1v1h-1zM13 37h1v1h-1zM24 54h1v1h-1zM52 50h1v1h-1zM41 23h1v1h-1zM49 37h1v1h-1zM47 21h1v1h-1zM41 40h1v1h-1zM41 9h1v1h-1zM25 54h1v1h-1zM59 11h1v1h-1zM41 51h1v1h-1zM23 13h1v1h-1zM4 20h1v1h-1zM1 28h1v1h-1zM38 18h1v1h-1zM36 16h1v1h-1zM58 59h1v1h-1zM57 56h2v2h-2zM42 62h1v1h-1zM22 39h1v1h-1z"/></pattern><pattern id="e3" patternUnits="userSpaceOnUse" x="350" y="143" width="64" height="64"><path fill="#a00818" d="M52 37h1v1h-1zM1 52h1v1h-1zM27 21h1v1h-1zM46 2h1v1h-1zM51 49h2v2h-2zM13 33h1v1h-1zM9 60h2v2h-2zM56 15h1v1h-1zM5 43h2v2h-2zM26 36h2v2h-2zM27 61h1v1h-1zM33 41h1v1h-1zM8 21h1v1h-1zM9 36h1v1h-1zM35 3h1v1h-1zM1 30h2v2h-2zM1 15h2v2h-2zM57 5h1v1h-1zM19 58h1v1h-1zM48 41h1v1h-1zM36 7h2v2h-2zM36 7h1v1h-1zM21 9h1v1h-1zM8 47h1v1h-1zM27 36h2v2h-2zM2 1h2v2h-2zM21 7h1v1h-1zM35 10h1v1h-1zM53 61h1v1h-1zM6 9h1v1h-1zM60 56h1v1h-1zM28 15h1v1h-1zM55 38h2v2h-2zM37 10h2v2h-2zM30 14h1v1h-1zM32 10h2v2h-2zM53 3h1v1h-1zM60 19h1v1h-1zM22 5h1v1h-1zM3 27h1v1h-1zM20 15h2v2h-2zM13 24h1v1h-1zM4 14h1v1h-1zM36 34h1v1h-1zM17 18h1v1h-1zM47 51h1v1h-1zM19 30h2v2h-2zM50 26h1v1h-1zM3 20h1v1h-1zM23 31h1v1h-1zM21 36h1v1h-1zM52 36h1v1h-1z"/><path fill="#d81020" d="M51 38h1v1h-1zM5 56h1v1h-1zM18 4h1v1h-1zM54 4h1v1h-1zM4 13h1v1h-1zM31 2h1v1h-1zM40 30h2v2h-2zM36 24h2v2h-2zM4 13h1v1h-1zM6 57h1v1h-1zM25 33h1v1h-1zM15 59h1v1h-1zM39 17h1v1h-1zM43 15h1v1h-1zM3 22h1v1h-1zM35 8h1v1h-1zM21 56h1v1h-1zM31 27h1v1h-1zM28 58h1v1h-1zM0 31h1v1h-1zM29 36h1v1h-1zM54 4h2v2h-2zM31 8h2v2h-2zM6 38h1v1h-1zM62 58h1v1h-1zM50 13h1v1h-1zM1 0h1v1h-1zM60 4h1v1h-1zM8 0h1v1h-1zM48 43h1v1h-1zM54 15h1v1h-1zM29 56h1v1h-1zM54 30h2v2h-2zM32 53h1v1h-1zM38 21h1v1h-1zM34 51h2v2h-2zM51 60h1v1h-1zM47 58h1v1h-1zM3 39h1v1h-1zM19 31h1v1h-1zM1 55h1v1h-1zM27 35h1v1h-1zM49 53h1v1h-1zM32 50h1v1h-1zM2 51h1v1h-1zM36 0h1v1h-1zM46 7h2v2h-2zM16 56h2v2h-2zM18 53h1v1h-1zM45 46h1v1h-1zM37 56h1v1h-1zM51 43h1v1h-1zM18 48h1v1h-1zM5 30h1v1h-1zM51 18h1v1h-1zM59 17h1v1h-1zM46 59h1v1h-1zM60 53h1v1h-1zM58 13h1v1h-1zM23 46h1v1h-1zM60 38h1v1h-1zM31 9h2v2h-2zM7 34h1v1h-1zM38 32h2v2h-2zM57 29h1v1h-1zM20 48h1v1h-1zM10 45h1v1h-1zM55 32h1v1h-1zM22 37h1v1h-1zM22 48h1v1h-1zM57 29h2v2h-2zM39 53h1v1h-1zM29 54h2v2h-2zM44 1h1v1h-1zM55 25h2v2h-2zM26 54h1v1h-1zM57 4h1v1h-1zM29 56h1v1h-1zM26 34h1v1h-1zM57 6h1v1h-1zM36 2h1v1h-1zM19 49h1v1h-1zM37 35h1v1h-1zM57 28h1v1h-1zM43 14h1v1h-1zM17 36h1v1h-1z"/><path fill="#ff2828" d="M21 16h1v1h-1zM61 57h2v2h-2zM27 1h2v2h-2zM26 49h1v1h-1zM47 60h1v1h-1zM56 10h2v2h-2zM6 3h1v1h-1zM53 4h1v1h-1zM18 59h2v2h-2zM36 53h1v1h-1zM28 44h1v1h-1zM58 51h1v1h-1zM36 49h1v1h-1zM56 50h1v1h-1zM51 53h2v2h-2zM62 20h1v1h-1zM13 39h1v1h-1zM20 49h1v1h-1zM22 12h1v1h-1zM50 10h1v1h-1zM45 15h1v1h-1zM36 9h1v1h-1z"/></pattern><pattern id="m3" patternUnits="userSpaceOnUse" x="416" y="143" width="64" height="64"><path fill="#3030ff" d="M37 7h1v1h-1zM14 6h1v1h-1zM25 45h1v1h-1zM34 42h1v1h-1zM26 18h1v1h-1zM48 55h1v1h-1zM15 28h1v1h-1zM0 62h1v1h-1zM3 58h1v1h-1zM41 6h1v1h-1zM46 25h2v2h-2zM1 16h1v1h-1zM28 37h1v1h-1zM8 21h1v1h-1zM32 22h1v1h-1zM24 57h1v1h-1zM27 23h1v1h-1zM55 2h1v1h-1zM1 29h1v1h-1zM37 3h1v1h-1zM49 29h1v1h-1zM55 53h1v1h-1zM30 31h1v1h-1zM53 23h1v1h-1zM59 56h1v1h-1zM52 12h1v1h-1zM38 41h1v1h-1zM23 35h1v1h-1zM60 26h1v1h-1zM48 28h1v1h-1zM13 52h1v1h-1zM9 34h1v1h-1zM13 10h1v1h-1zM25 48h1v1h-1zM17 37h1v1h-1zM46 57h1v1h-1zM3 44h1v1h-1zM50 59h2v2h-2zM59 38h1v1h-1zM48 9h1v1h-1zM36 20h1v1h-1zM36 40h1v1h-1zM20 7h1v1h-1zM26 54h1v1h-1zM56 39h1v1h-1zM6 16h1v1h-1zM16 7h1v1h-1zM49 22h1v1h-1zM36 32h1v1h-1zM9 55h1v1h-1zM27 56h1v1h-1zM61 47h1v1h-1zM27 41h1v1h-1zM4 36h1v1h-1zM5 6h1v1h-1zM14 8h1v1h-1zM22 43h2v2h-2zM14 46h1v1h-1zM17 4h1v1h-1zM39 40h1v1h-1zM26 18h1v1h-1zM29 37h1v1h-1zM29 14h1v1h-1zM21 29h1v1h-1zM34 52h1v1h-1zM13 0h1v1h-1zM24 6h1v1h-1zM37 26h1v1h-1zM27 14h1v1h-1zM51 23h1v1h-1zM3 15h1v1h-1zM39 28h1v1h-1zM32 4h1v1h-1zM22 9h1v1h-1zM54 44h1v1h-1zM54 32h1v1h-1zM3 22h1v1h-1zM46 61h1v1h-1zM37 60h1v1h-1zM14 27h1v1h-1zM62 21h1v1h-1zM47 49h1v1h-1zM2 50h1v1h-1zM2 9h1v1h-1zM30 30h1v1h-1zM58 25h1v1h-1zM30 14h1v1h-1zM2 41h1v1h-1zM6 35h1v1h-1zM35 25h1v1h-1zM22 38h1v1h-1zM61 1h1v1h-1zM35 48h1v1h-1zM54 0h1v1h-1zM26 5h1v1h-1zM9 44h1v1h-1zM32 11h1v1h-1zM19 36h1v1h-1zM62 60h1v1h-1zM44 53h1v1h-1zM20 31h1v1h-1zM46 24h1v1h-1zM29 45h1v1h-1zM7 5h1v1h-1zM54 48h1v1h-1zM2 40h1v1h-1zM39 3h1v1h-1zM27 34h1v1h-1zM44 12h1v1h-1zM33 27h1v1h-1zM11 53h1v1h-1zM50 19h1v1h-1zM18 20h1v1h-1zM59 6h1v1h-1zM13 17h1v1h-1zM21 13h1v1h-1zM54 54h1v1h-1zM21 49h1v1h-1zM29 21h1v1h-1zM30 4h1v1h-1zM41 61h1v1h-1zM24 43h1v1h-1zM54 56h1v1h-1zM21 53h1v1h-1zM8 38h1v1h-1zM53 51h1v1h-1zM25 17h1v1h-1zM44 0h1v1h-1zM33 56h1v1h-1zM46 28h1v1h-1zM56 14h1v1h-1zM51 54h1v1h-1zM62 41h1v1h-1zM61 37h1v1h-1zM38 33h1v1h-1zM23 9h1v1h-1zM11 50h1v1h-1zM23 33h1v1h-1zM25 12h1v1h-1zM42 5h1v1h-1zM37 57h1v1h-1zM17 54h1v1h-1zM51 0h1v1h-1zM34 0h1v1h-1zM50 5h1v1h-1zM29 51h1v1h-1zM13 16h1v1h-1zM58 5h1v1h-1zM2 21h1v1h-1zM41 50h1v1h-1zM27 18h1v1h-1zM46 56h1v1h-1zM58 45h1v1h-1zM11 56h1v1h-1zM50 12h1v1h-1zM4 17h1v1h-1zM8 58h1v1h-1zM15 26h1v1h-1zM7 6h1v1h-1zM61 37h1v1h-1zM14 45h2v2h-2zM48 21h1v1h-1zM39 28h1v1h-1zM60 20h1v1h-1zM4 13h1v1h-1zM18 7h1v1h-1zM0 29h1v1h-1zM58 46h1v1h-1zM40 34h1v1h-1zM15 31h1v1h-1zM2 17h1v1h-1zM28 62h1v1h-1zM62 49h1v1h-1zM4 8h1v1h-1zM43 50h1v1h-1zM58 4h1v1h-1zM25 7h1v1h-1zM33 27h1v1h-1zM60 46h1v1h-1zM36 13h1v1h-1zM28 4h1v1h-1zM3 51h1v1h-1z"/><path fill="#2020d8" d="M59 38h1v1h-1zM44 18h1v1h-1zM15 6h1v1h-1zM37 24h1v1h-1zM36 40h1v1h-1zM4 1h1v1h-1zM46 19h1v1h-1zM37 20h1v1h-1zM47 49h1v1h-1zM12 41h1v1h-1zM61 58h1v1h-1zM43 17h1v1h-1zM59 37h1v1h-1zM12 6h1v1h-1zM44 17h1v1h-1zM18 60h1v1h-1zM51 43h1v1h-1zM16 6h1v1h-1zM2 1h1v1h-1zM36 53h1v1h-1zM5 2h1v1h-1zM5 61h1v1h-1zM23 36h1v1h-1zM11 13h2v2h-2zM1 43h1v1h-1zM55 10h1v1h-1zM47 4h1v1h-1zM6 10h1v1h-1zM52 6h2v2h-2zM34 0h1v1h-1zM6 34h1v1h-1zM20 36h1v1h-1zM35 45h1v1h-1zM0 21h1v1h-1zM17 29h1v1h-1zM47 23h1v1h-1zM1 5h1v1h-1zM13 55h1v1h-1zM9 23h1v1h-1zM4 41h1v1h-1zM46 45h1v1h-1zM2 15h1v1h-1zM46 29h1v1h-1zM49 54h2v2h-2zM4 7h1v1h-1zM17 13h1v1h-1zM21 14h1v1h-1zM4 34h1v1h-1zM31 62h1v1h-1zM28 5h1v1h-1zM57 54h1v1h-1zM1 62h1v1h-1zM58 1h2v2h-2zM2 54h1v1h-1zM37 53h1v1h-1zM46 6h1v1h-1zM40 23h1v1h-1zM40 30h1v1h-1zM30 20h2v2h-2zM27 36h1v1h-1zM40 40h1v1h-1zM12 33h1v1h-1zM10 50h1v1h-1zM29 40h1v1h-1zM42 17h1v1h-1zM54 34h1v1h-1zM11 31h1v1h-1zM49 33h1v1h-1zM41 27h1v1h-1zM41 48h1v1h-1zM51 46h1v1h-1zM38 16h1v1h-1zM42 21h1v1h-1zM54 13h1v1h-1zM20 23h1v1h-1zM45 16h1v1h-1zM35 2h1v1h-1zM23 56h1v1h-1zM31 56h1v1h-1zM32 1h1v1h-1zM32 33h1v1h-1zM35 52h1v1h-1zM13 2h1v1h-1zM0 44h1v1h-1zM2 60h1v1h-1zM53 57h1v1h-1zM14 6h1v1h-1zM44 31h2v2h-2zM35 49h1v1h-1zM0 23h1v1h-1zM22 29h1v1h-1zM58 13h1v1h-1zM21 11h1v1h-1zM9 58h1v1h-1zM61 8h1v1h-1zM51 56h1v1h-1zM22 54h2v2h-2zM59 20h1v1h-1zM4 35h2v2h-2zM9 20h1v1h-1zM5 40h1v1h-1zM36 26h2v2h-2zM35 5h1v1h-1zM16 22h1v1h-1zM10 32h2v2h-2zM13 32h1v1h-1zM30 0h2v2h-2zM22 32h1v1h-1zM25 38h1v1h-1zM35 51h1v1h-1zM60 45h1v1h-1zM48 25h1v1h-1zM9 33h2v2h-2zM51 60h2v2h-2zM61 21h1v1h-1zM54 26h1v1h-1zM59 7h1v1h-1zM15 58h2v2h-2zM26 22h2v2h-2zM46 53h1v1h-1zM29 54h1v1h-1zM52 3h1v1h-1zM4 13h1v1h-1zM25 30h1v1h-1zM16 22h1v1h-1zM44 3h1v1h-1zM7 21h1v1h-1zM25 59h1v1h-1zM31 38h1v1h-1zM57 59h1v1h-1zM50 24h1v1h-1zM1 37h2v2h-2zM44 16h1v1h-1zM34 17h1v1h-1zM32 18h1v1h-1zM26 26h1v1h-1zM52 41h1v1h-1zM6 17h1v1h-1zM41 36h1v1h-1zM12 48h1v1h-1zM10 31h1v1h-1zM8 28h1v1h-1zM30 36h1v1h-1zM45 51h1v1h-1zM28 61h1v1h-1zM49 21h1v1h-1zM43 61h1v1h-1zM39 19h1v1h-1zM48 60h2v2h-2zM55 7h1v1h-1zM30 53h1v1h-1zM23 29h1v1h-1zM4 62h1v1h-1zM2 46h1v1h-1zM48 52h1v1h-1zM60 55h1v1h-1zM50 52h1v1h-1zM0 13h1v1h-1zM33 52h1v1h-1zM0 37h1v1h-1zM45 30h1v1h-1zM10 19h1v1h-1zM14 48h1v1h-1zM11 60h1v1h-1zM33 4h2v2h-2zM52 23h1v1h-1zM1 15h1v1h-1zM28 18h1v1h-1zM15 24h1v1h-1zM22 27h1v1h-1zM30 27h1v1h-1zM38 38h1v1h-1zM52 54h2v2h-2zM44 39h1v1h-1zM3 36h1v1h-1zM61 1h1v1h-1z"/><path fill="#1414a0" d="M28 44h1v1h-1zM7 5h1v1h-1zM35 51h1v1h-1zM43 5h1v1h-1zM35 48h1v1h-1zM4 27h1v1h-1zM33 35h1v1h-1zM33 61h1v1h-1zM58 42h1v1h-1zM58 0h1v1h-1zM46 50h1v1h-1zM3 17h1v1h-1zM46 60h1v1h-1zM16 41h1v1h-1zM13 18h1v1h-1zM18 14h1v1h-1zM40 46h1v1h-1zM61 39h1v1h-1zM62 46h1v1h-1zM43 53h1v1h-1zM17 45h1v1h-1zM53 18h1v1h-1zM56 45h1v1h-1zM26 45h1v1h-1zM44 9h1v1h-1zM31 21h1v1h-1zM38 37h2v2h-2zM31 5h1v1h-1zM29 15h1v1h-1zM8 41h1v1h-1zM4 38h1v1h-1zM11 7h1v1h-1zM60 32h1v1h-1zM45 34h1v1h-1zM62 54h1v1h-1zM31 1h1v1h-1zM29 42h1v1h-1zM17 8h1v1h-1zM39 8h1v1h-1zM33 4h1v1h-1zM8 56h1v1h-1zM50 49h1v1h-1zM59 22h1v1h-1zM36 41h1v1h-1zM34 6h1v1h-1zM58 28h2v2h-2zM39 25h1v1h-1zM7 15h1v1h-1zM37 47h1v1h-1zM56 11h1v1h-1zM9 30h1v1h-1zM20 1h1v1h-1zM32 39h1v1h-1zM30 20h1v1h-1zM15 56h1v1h-1zM31 51h1v1h-1zM55 52h1v1h-1zM55 29h1v1h-1zM51 6h1v1h-1zM46 53h1v1h-1zM26 20h1v1h-1zM42 59h1v1h-1zM2 19h1v1h-1zM37 42h1v1h-1zM38 57h1v1h-1zM59 34h1v1h-1zM40 14h1v1h-1zM7 42h1v1h-1zM49 50h1v1h-1zM44 6h1v1h-1zM29 48h1v1h-1zM46 27h1v1h-1zM9 18h1v1h-1zM33 25h1v1h-1zM58 8h1v1h-1zM12 25h1v1h-1zM56 15h1v1h-1zM17 46h1v1h-1zM47 61h1v1h-1zM59 59h1v1h-1zM32 38h1v1h-1zM33 31h1v1h-1zM27 61h1v1h-1zM30 12h1v1h-1zM29 10h1v1h-1zM5 17h1v1h-1zM32 42h1v1h-1zM15 56h1v1h-1zM2 26h1v1h-1zM56 62h1v1h-1zM54 21h1v1h-1zM51 54h1v1h-1zM39 48h1v1h-1zM14 31h2v2h-2zM2 50h1v1h-1zM7 41h1v1h-1zM25 31h2v2h-2zM47 8h1v1h-1zM8 36h1v1h-1zM16 39h1v1h-1zM39 58h1v1h-1zM23 38h1v1h-1zM9 17h1v1h-1zM56 8h2v2h-2zM56 9h1v1h-1zM33 8h1v1h-1zM6 14h1v1h-1zM37 47h1v1h-1zM14 20h1v1h-1zM33 40h1v1h-1zM13 3h1v1h-1zM45 19h1v1h-1zM46 20h1v1h-1zM59 40h1v1h-1zM38 53h1v1h-1zM7 53h1v1h-1zM8 35h1v1h-1zM60 61h1v1h-1zM35 60h1v1h-1zM55 6h1v1h-1zM61 36h1v1h-1zM59 28h1v1h-1zM50 26h1v1h-1zM10 35h1v1h-1zM56 19h1v1h-1zM59 56h1v1h-1zM40 50h1v1h-1zM30 30h1v1h-1zM12 40h1v1h-1zM1 48h1v1h-1zM37 29h1v1h-1zM20 43h1v1h-1zM41 31h1v1h-1zM45 61h1v1h-1zM7 33h1v1h-1zM34 30h1v1h-1zM45 38h1v1h-1zM29 8h1v1h-1zM12 26h1v1h-1zM23 26h1v1h-1zM13 37h1v1h-1zM24 54h1v1h-1zM52 50h1v1h-1zM41 23h1v1h-1zM49 37h1v1h-1zM47 21h1v1h-1zM41 40h1v1h-1zM41 9h1v1h-1zM25 54h1v1h-1zM59 11h1v1h-1zM41 51h1v1h-1zM23 13h1v1h-1zM4 20h1v1h-1zM1 28h1v1h-1zM38 18h1v1h-1zM36 16h1v1h-1zM58 59h1v1h-1zM57 56h2v2h-2zM42 62h1v1h-1zM22 39h1v1h-1z"/><path fill="#c01890" d="M52 37h1v1h-1zM51 38h1v1h-1zM5 56h1v1h-1zM1 52h1v1h-1zM54 4h1v1h-1zM27 21h1v1h-1zM46 2h1v1h-1zM51 49h2v2h-2zM13 33h1v1h-1zM9 60h2v2h-2zM4 13h1v1h-1zM56 15h1v1h-1zM5 43h2v2h-2zM15 59h1v1h-1zM39 17h1v1h-1zM26 36h2v2h-2zM43 15h1v1h-1zM3 22h1v1h-1zM35 8h1v1h-1zM21 56h1v1h-1zM31 27h1v1h-1zM0 31h1v1h-1zM29 36h1v1h-1zM54 4h2v2h-2zM27 61h1v1h-1zM62 58h1v1h-1zM33 41h1v1h-1zM50 13h1v1h-1zM8 21h1v1h-1zM60 4h1v1h-1zM9 36h1v1h-1zM8 0h1v1h-1zM35 3h1v1h-1zM1 30h2v2h-2zM54 15h1v1h-1zM29 56h1v1h-1zM1 15h2v2h-2zM57 5h1v1h-1zM19 58h1v1h-1zM32 53h1v1h-1zM48 41h1v1h-1zM34 51h2v2h-2zM36 7h2v2h-2zM36 7h1v1h-1zM51 60h1v1h-1zM47 58h1v1h-1zM3 39h1v1h-1zM21 9h1v1h-1zM19 31h1v1h-1zM1 55h1v1h-1zM27 35h1v1h-1zM49 53h1v1h-1zM8 47h1v1h-1zM32 50h1v1h-1zM2 51h1v1h-1zM27 36h2v2h-2zM46 7h2v2h-2zM2 1h2v2h-2zM21 7h1v1h-1zM18 53h1v1h-1zM45 46h1v1h-1zM37 56h1v1h-1zM35 10h1v1h-1zM53 61h1v1h-1zM6 9h1v1h-1zM5 30h1v1h-1zM51 18h1v1h-1zM60 56h1v1h-1zM28 15h1v1h-1zM55 38h2v2h-2zM37 10h2v2h-2zM59 17h1v1h-1zM46 59h1v1h-1zM30 14h1v1h-1zM60 53h1v1h-1zM32 10h2v2h-2zM58 13h1v1h-1zM23 46h1v1h-1zM53 3h1v1h-1zM31 9h2v2h-2zM60 19h1v1h-1zM22 5h1v1h-1zM38 32h2v2h-2zM57 29h1v1h-1zM3 27h1v1h-1zM55 32h1v1h-1zM20 15h2v2h-2zM22 48h1v1h-1zM13 24h1v1h-1zM29 54h2v2h-2zM4 14h1v1h-1zM44 1h1v1h-1zM55 25h2v2h-2zM36 34h1v1h-1zM17 18h1v1h-1zM26 54h1v1h-1zM47 51h1v1h-1zM19 30h2v2h-2zM50 26h1v1h-1zM26 34h1v1h-1zM3 20h1v1h-1zM23 31h1v1h-1zM36 2h1v1h-1zM21 36h1v1h-1zM52 36h1v1h-1zM37 35h1v1h-1zM57 28h1v1h-1z"/><path fill="#f030c0" d="M21 16h1v1h-1zM18 4h1v1h-1zM4 13h1v1h-1zM31 2h1v1h-1zM40 30h2v2h-2zM61 57h2v2h-2zM36 24h2v2h-2zM27 1h2v2h-2zM6 57h1v1h-1zM25 33h1v1h-1zM26 49h1v1h-1zM47 60h1v1h-1zM56 10h2v2h-2zM28 58h1v1h-1zM31 8h2v2h-2zM6 38h1v1h-1zM6 3h1v1h-1zM53 4h1v1h-1zM1 0h1v1h-1zM18 59h2v2h-2zM36 53h1v1h-1zM48 43h1v1h-1zM54 30h2v2h-2zM38 21h1v1h-1zM28 44h1v1h-1zM36 0h1v1h-1zM58 51h1v1h-1zM36 49h1v1h-1zM16 56h2v2h-2zM51 43h1v1h-1zM18 48h1v1h-1zM56 50h1v1h-1zM51 53h2v2h-2zM62 20h1v1h-1zM60 38h1v1h-1zM13 39h1v1h-1zM20 49h1v1h-1zM22 12h1v1h-1zM7 34h1v1h-1zM50 10h1v1h-1zM45 15h1v1h-1zM20 48h1v1h-1zM10 45h1v1h-1zM36 9h1v1h-1zM22 37h1v1h-1zM57 29h2v2h-2zM39 53h1v1h-1zM57 4h1v1h-1zM29 56h1v1h-1zM57 6h1v1h-1zM19 49h1v1h-1zM43 14h1v1h-1zM17 36h1v1h-1z"/></pattern><pattern id="h4" patternUnits="userSpaceOnUse" x="284" y="210" width="64" height="64"><path fill="#3030ff" d="M40 20h1v1h-1zM25 57h1v1h-1zM52 2h1v1h-1zM4 38h1v1h-1zM10 20h1v1h-1zM14 15h1v1h-1zM3 31h1v1h-1zM12 30h1v1h-1zM56 8h1v1h-1zM21 55h1v1h-1zM49 19h1v1h-1zM27 7h1v1h-1zM19 27h1v1h-1zM36 8h1v1h-1zM58 7h1v1h-1zM37 11h1v1h-1zM0 44h2v2h-2zM26 38h1v1h-1zM56 50h1v1h-1zM2 0h1v1h-1zM31 57h1v1h-1zM17 11h1v1h-1zM2 11h1v1h-1zM11 60h1v1h-1zM19 45h1v1h-1zM16 31h1v1h-1zM34 60h1v1h-1zM1 57h1v1h-1zM43 54h1v1h-1zM54 61h1v1h-1zM35 60h1v1h-1zM55 41h2v2h-2zM41 55h1v1h-1zM29 42h1v1h-1zM52 41h1v1h-1zM51 1h1v1h-1zM24 9h1v1h-1zM60 45h1v1h-1zM54 43h1v1h-1zM19 35h1v1h-1zM37 57h1v1h-1zM27 41h1v1h-1zM37 57h1v1h-1zM24 37h1v1h-1zM57 41h1v1h-1zM7 24h1v1h-1zM52 6h1v1h-1zM35 18h1v1h-1zM17 17h1v1h-1zM56 9h1v1h-1zM6 59h1v1h-1zM53 16h1v1h-1zM47 12h1v1h-1zM52 19h1v1h-1zM33 21h1v1h-1zM61 10h1v1h-1zM14 3h1v1h-1zM49 38h1v1h-1zM28 3h1v1h-1zM58 18h1v1h-1zM28 38h1v1h-1zM11 61h1v1h-1zM36 6h1v1h-1zM17 31h1v1h-1zM2 31h1v1h-1zM28 57h1v1h-1zM37 10h1v1h-1zM54 8h1v1h-1zM41 20h1v1h-1zM7 52h2v2h-2zM32 51h1v1h-1zM17 15h1v1h-1zM26 12h2v2h-2zM4 52h1v1h-1zM37 40h1v1h-1zM15 29h1v1h-1zM56 14h1v1h-1zM47 4h1v1h-1zM62 32h1v1h-1zM50 14h1v1h-1zM53 3h1v1h-1zM18 33h1v1h-1zM3 55h1v1h-1zM53 33h1v1h-1zM2 30h1v1h-1zM61 60h1v1h-1zM56 44h1v1h-1zM29 52h1v1h-1zM1 1h1v1h-1zM6 26h1v1h-1zM41 21h1v1h-1zM46 58h1v1h-1zM7 55h1v1h-1zM61 0h1v1h-1zM33 61h1v1h-1zM53 35h1v1h-1zM6 51h1v1h-1zM7 46h1v1h-1zM21 62h1v1h-1zM49 1h1v1h-1zM30 10h2v2h-2zM41 3h1v1h-1zM5 56h1v1h-1zM15 37h1v1h-1zM21 56h1v1h-1zM28 15h1v1h-1zM34 6h1v1h-1zM5 50h1v1h-1zM14 2h1v1h-1zM59 16h2v2h-2zM55 59h1v1h-1zM50 57h1v1h-1zM34 58h1v1h-1zM44 3h1v1h-1zM8 27h1v1h-1zM23 32h1v1h-1zM35 59h1v1h-1zM14 42h1v1h-1zM60 33h1v1h-1zM62 46h1v1h-1zM33 58h1v1h-1zM39 16h1v1h-1zM54 2h1v1h-1zM14 45h1v1h-1zM0 54h1v1h-1zM4 3h1v1h-1zM12 44h2v2h-2zM49 58h1v1h-1zM1 47h1v1h-1zM16 8h1v1h-1zM60 9h1v1h-1zM16 55h1v1h-1zM34 16h1v1h-1zM45 19h1v1h-1zM7 61h1v1h-1zM53 12h1v1h-1zM24 45h1v1h-1zM50 5h1v1h-1zM8 3h1v1h-1zM50 4h1v1h-1zM8 33h1v1h-1zM19 48h1v1h-1zM44 15h2v2h-2zM7 52h1v1h-1zM1 16h1v1h-1zM1 57h1v1h-1zM41 32h1v1h-1zM46 33h1v1h-1zM47 15h1v1h-1zM3 48h1v1h-1zM10 56h1v1h-1zM2 2h1v1h-1zM33 53h1v1h-1zM27 6h1v1h-1zM60 51h1v1h-1zM52 39h1v1h-1zM54 14h1v1h-1zM52 34h1v1h-1zM51 38h1v1h-1zM46 44h1v1h-1zM49 51h1v1h-1zM1 20h1v1h-1zM3 60h1v1h-1zM15 10h1v1h-1zM17 34h1v1h-1zM39 23h1v1h-1zM13 55h1v1h-1zM0 17h1v1h-1zM53 45h1v1h-1zM12 42h1v1h-1zM18 39h1v1h-1zM15 25h1v1h-1zM11 34h1v1h-1zM13 39h1v1h-1zM17 29h1v1h-1zM31 20h1v1h-1zM0 40h1v1h-1zM30 6h1v1h-1zM29 52h1v1h-1zM55 24h1v1h-1zM17 1h1v1h-1zM26 25h1v1h-1zM4 2h1v1h-1zM58 24h1v1h-1zM8 9h1v1h-1zM27 41h1v1h-1zM33 40h1v1h-1zM8 40h1v1h-1zM50 14h1v1h-1zM2 4h1v1h-1zM36 59h1v1h-1zM1 7h1v1h-1zM45 42h1v1h-1zM21 28h2v2h-2zM14 9h1v1h-1zM52 38h1v1h-1zM25 31h1v1h-1zM4 8h1v1h-1zM13 31h1v1h-1zM2 29h1v1h-1zM35 51h1v1h-1zM16 54h1v1h-1zM8 48h1v1h-1zM31 18h1v1h-1zM49 33h1v1h-1zM41 50h1v1h-1zM40 31h1v1h-1zM60 39h1v1h-1zM5 25h1v1h-1zM11 57h2v2h-2zM46 10h1v1h-1zM27 0h1v1h-1zM24 35h1v1h-1zM47 33h1v1h-1zM34 44h1v1h-1zM14 41h2v2h-2zM20 1h1v1h-1zM10 51h1v1h-1zM30 59h1v1h-1zM7 15h1v1h-1zM50 31h1v1h-1zM32 42h1v1h-1zM47 34h1v1h-1zM44 14h1v1h-1zM14 42h1v1h-1zM9 19h1v1h-1zM5 40h1v1h-1zM36 0h1v1h-1zM32 41h1v1h-1zM56 1h1v1h-1zM43 46h1v1h-1zM55 54h1v1h-1zM39 2h1v1h-1zM56 6h1v1h-1zM9 48h1v1h-1zM49 44h1v1h-1zM31 54h1v1h-1zM51 31h2v2h-2zM21 8h1v1h-1zM30 47h1v1h-1zM13 45h2v2h-2zM11 47h1v1h-1zM13 27h1v1h-1zM22 29h1v1h-1zM33 40h1v1h-1zM3 61h1v1h-1zM19 59h1v1h-1zM14 15h1v1h-1zM17 60h2v2h-2zM24 16h1v1h-1zM26 23h1v1h-1zM54 16h1v1h-1zM20 22h1v1h-1zM24 3h1v1h-1zM8 54h1v1h-1zM56 28h1v1h-1zM17 2h1v1h-1zM40 51h1v1h-1zM38 62h1v1h-1zM23 16h1v1h-1zM43 1h1v1h-1zM22 52h1v1h-1zM60 8h1v1h-1zM23 13h1v1h-1zM12 59h1v1h-1zM54 39h2v2h-2zM40 27h1v1h-1zM39 6h1v1h-1zM11 62h1v1h-1zM3 24h1v1h-1zM1 16h1v1h-1zM57 7h1v1h-1zM25 28h1v1h-1zM46 58h2v2h-2zM21 36h1v1h-1zM31 60h1v1h-1zM14 60h1v1h-1zM43 9h1v1h-1zM61 58h1v1h-1z"/><path fill="#2020d8" d="M50 1h1v1h-1zM24 20h1v1h-1zM29 33h1v1h-1zM6 37h1v1h-1zM39 57h2v2h-2zM2 23h1v1h-1zM5 9h1v1h-1zM33 44h1v1h-1zM53 55h1v1h-1zM45 36h1v1h-1zM50 38h1v1h-1zM24 34h2v2h-2zM13 23h1v1h-1zM50 51h1v1h-1zM60 38h1v1h-1zM27 55h1v1h-1zM16 40h1v1h-1zM9 12h1v1h-1zM14 37h2v2h-2zM4 14h1v1h-1zM56 11h1v1h-1zM57 12h1v1h-1zM46 44h1v1h-1zM38 59h1v1h-1zM51 2h1v1h-1zM7 5h1v1h-1zM17 59h1v1h-1zM4 23h1v1h-1zM15 52h1v1h-1zM48 35h1v1h-1zM53 51h1v1h-1zM48 16h1v1h-1zM27 57h1v1h-1zM6 53h1v1h-1zM5 15h1v1h-1zM34 53h1v1h-1zM48 0h1v1h-1zM34 41h1v1h-1zM36 57h1v1h-1zM6 15h1v1h-1zM49 39h1v1h-1zM48 29h1v1h-1zM41 15h1v1h-1zM12 40h1v1h-1zM58 13h1v1h-1zM9 43h1v1h-1zM22 26h1v1h-1zM14 22h1v1h-1zM48 50h1v1h-1zM34 59h1v1h-1zM41 52h1v1h-1zM3 26h1v1h-1zM47 39h1v1h-1zM39 45h1v1h-1zM20 21h1v1h-1zM46 1h1v1h-1zM7 9h1v1h-1zM20 15h1v1h-1zM34 39h1v1h-1zM36 2h1v1h-1zM4 33h1v1h-1zM3 54h1v1h-1zM32 21h1v1h-1zM28 25h1v1h-1zM56 44h1v1h-1zM47 5h1v1h-1zM25 31h1v1h-1zM11 21h1v1h-1zM34 50h1v1h-1zM0 41h1v1h-1zM61 7h1v1h-1zM41 7h1v1h-1zM6 23h1v1h-1zM44 26h1v1h-1zM5 39h1v1h-1zM30 47h1v1h-1zM31 52h1v1h-1zM56 14h1v1h-1zM46 7h1v1h-1zM13 13h1v1h-1zM48 30h1v1h-1zM61 34h1v1h-1zM31 56h1v1h-1zM10 60h1v1h-1zM33 44h1v1h-1zM59 11h1v1h-1zM44 55h1v1h-1zM35 19h1v1h-1zM17 13h2v2h-2zM52 58h1v1h-1zM31 5h1v1h-1zM0 1h1v1h-1zM62 48h2v2h-2zM13 8h1v1h-1zM39 22h1v1h-1zM40 16h1v1h-1zM34 60h1v1h-1zM5 57h1v1h-1zM50 34h1v1h-1zM20 34h1v1h-1zM32 16h1v1h-1zM45 41h1v1h-1zM41 15h2v2h-2zM9 36h1v1h-1zM31 55h1v1h-1zM31 6h1v1h-1zM11 36h1v1h-1zM47 47h1v1h-1zM5 32h1v1h-1zM14 19h1v1h-1zM49 9h1v1h-1zM30 60h1v1h-1zM37 18h1v1h-1zM5 22h1v1h-1zM21 56h1v1h-1zM58 22h1v1h-1zM45 57h1v1h-1zM55 50h1v1h-1zM9 1h1v1h-1zM25 21h1v1h-1zM60 6h1v1h-1zM57 38h1v1h-1zM20 47h1v1h-1zM37 7h1v1h-1zM14 35h1v1h-1zM26 56h1v1h-1zM10 6h1v1h-1zM24 52h1v1h-1zM38 19h1v1h-1zM27 15h1v1h-1zM8 43h1v1h-1zM34 12h1v1h-1zM23 42h1v1h-1zM57 50h1v1h-1zM48 22h1v1h-1zM33 60h1v1h-1zM45 54h1v1h-1zM51 11h1v1h-1zM60 16h1v1h-1zM21 48h1v1h-1zM7 29h1v1h-1zM11 58h1v1h-1zM6 9h1v1h-1zM43 59h1v1h-1zM59 57h1v1h-1zM5 50h1v1h-1zM29 18h1v1h-1zM35 59h1v1h-1zM51 15h1v1h-1zM47 1h1v1h-1zM50 49h1v1h-1zM12 4h1v1h-1zM57 51h1v1h-1zM39 43h1v1h-1zM44 17h1v1h-1zM25 2h1v1h-1zM58 22h1v1h-1zM9 30h1v1h-1zM19 6h1v1h-1zM54 47h2v2h-2zM54 4h1v1h-1zM59 13h1v1h-1zM62 11h1v1h-1zM15 44h1v1h-1zM28 41h1v1h-1zM3 2h1v1h-1zM61 31h1v1h-1zM12 53h1v1h-1zM30 20h1v1h-1zM50 30h1v1h-1zM4 59h1v1h-1zM47 57h1v1h-1zM15 2h1v1h-1zM52 30h1v1h-1zM60 25h1v1h-1zM27 42h1v1h-1zM17 40h1v1h-1zM37 50h2v2h-2zM43 20h1v1h-1zM59 58h1v1h-1zM46 25h1v1h-1zM15 25h1v1h-1zM20 19h1v1h-1zM3 59h1v1h-1zM14 28h1v1h-1zM11 58h1v1h-1zM49 0h1v1h-1zM7 0h1v1h-1zM43 32h1v1h-1zM40 26h1v1h-1zM50 55h1v1h-1zM36 36h1v1h-1zM37 57h1v1h-1zM9 42h1v1h-1zM59 45h1v1h-1zM52 2h1v1h-1zM30 53h1v1h-1zM4 62h1v1h-1zM53 40h1v1h-1zM38 11h1v1h-1zM34 15h2v2h-2zM21 27h1v1h-1zM26 40h1v1h-1zM16 15h1v1h-1zM16 28h1v1h-1zM61 40h1v1h-1zM42 43h1v1h-1zM40 5h1v1h-1zM7 20h1v1h-1zM50 5h1v1h-1zM12 21h1v1h-1zM39 48h1v1h-1zM14 41h1v1h-1zM47 16h1v1h-1zM2 48h1v1h-1zM40 38h1v1h-1zM7 2h1v1h-1zM25 57h1v1h-1zM12 36h1v1h-1zM16 54h1v1h-1zM0 11h1v1h-1zM20 51h1v1h-1zM5 20h1v1h-1zM18 44h1v1h-1zM46 60h1v1h-1zM7 8h1v1h-1zM24 40h1v1h-1zM35 24h1v1h-1zM32 58h1v1h-1zM18 37h1v1h-1zM39 47h1v1h-1zM22 45h1v1h-1zM19 43h1v1h-1zM53 16h1v1h-1zM29 32h2v2h-2zM35 6h1v1h-1zM36 18h1v1h-1zM5 41h1v1h-1zM43 4h1v1h-1zM44 53h1v1h-1zM37 43h1v1h-1zM28 46h1v1h-1zM32 3h1v1h-1zM32 49h1v1h-1zM12 15h1v1h-1zM60 39h2v2h-2zM22 42h1v1h-1zM58 31h1v1h-1zM59 33h1v1h-1zM41 43h1v1h-1zM42 38h1v1h-1zM12 7h1v1h-1zM33 18h1v1h-1zM42 15h1v1h-1zM15 41h1v1h-1zM48 9h1v1h-1zM39 53h1v1h-1zM6 16h1v1h-1zM28 34h1v1h-1zM16 13h1v1h-1zM51 7h2v2h-2zM50 37h1v1h-1zM9 31h1v1h-1zM49 22h1v1h-1zM8 12h1v1h-1zM22 41h1v1h-1zM32 48h1v1h-1zM57 2h1v1h-1zM12 17h1v1h-1zM37 18h1v1h-1zM61 52h1v1h-1zM14 13h2v2h-2zM32 52h1v1h-1zM18 45h1v1h-1zM14 59h1v1h-1zM47 19h1v1h-1zM50 35h2v2h-2zM31 2h2v2h-2zM1 9h1v1h-1zM22 55h1v1h-1zM33 2h1v1h-1zM1 21h1v1h-1zM47 53h1v1h-1zM46 60h1v1h-1zM12 15h1v1h-1zM18 30h1v1h-1zM18 10h2v2h-2zM7 13h1v1h-1zM46 10h1v1h-1zM41 0h1v1h-1zM6 44h2v2h-2zM43 16h1v1h-1zM20 25h1v1h-1zM28 0h1v1h-1zM19 27h1v1h-1zM47 44h1v1h-1zM2 52h1v1h-1zM24 21h2v2h-2zM1 15h1v1h-1zM8 28h1v1h-1zM22 18h1v1h-1zM57 26h1v1h-1z"/><path fill="#1414a0" d="M54 45h1v1h-1zM39 52h1v1h-1zM28 0h1v1h-1zM13 12h1v1h-1zM46 35h1v1h-1zM41 51h2v2h-2zM7 32h1v1h-1zM53 51h1v1h-1zM35 49h1v1h-1zM22 15h1v1h-1zM28 5h1v1h-1zM22 59h1v1h-1zM51 56h1v1h-1zM6 9h1v1h-1zM17 35h1v1h-1zM14 50h1v1h-1zM24 3h1v1h-1zM23 41h2v2h-2zM28 14h1v1h-1zM40 25h1v1h-1zM26 44h1v1h-1zM57 27h1v1h-1zM30 21h1v1h-1zM62 18h1v1h-1zM15 18h1v1h-1zM28 62h1v1h-1zM50 44h1v1h-1zM46 60h1v1h-1zM36 9h1v1h-1zM58 42h1v1h-1zM13 28h1v1h-1zM13 43h1v1h-1zM8 61h1v1h-1zM32 6h1v1h-1zM24 28h1v1h-1zM50 13h1v1h-1zM53 16h1v1h-1zM6 14h1v1h-1zM2 41h1v1h-1zM11 18h1v1h-1zM42 38h1v1h-1zM8 58h1v1h-1zM9 15h1v1h-1zM50 19h1v1h-1zM38 5h1v1h-1zM6 43h1v1h-1zM41 22h1v1h-1zM49 0h1v1h-1zM0 0h1v1h-1zM19 61h1v1h-1zM6 37h1v1h-1zM5 2h1v1h-1zM49 27h1v1h-1zM4 29h1v1h-1zM61 22h1v1h-1zM21 49h1v1h-1zM58 22h1v1h-1zM36 2h1v1h-1zM33 15h2v2h-2zM31 7h1v1h-1zM24 7h1v1h-1zM58 60h1v1h-1zM5 58h1v1h-1zM44 29h2v2h-2zM3 47h1v1h-1zM48 1h1v1h-1zM53 37h1v1h-1zM46 53h1v1h-1zM41 26h1v1h-1zM33 35h1v1h-1zM61 55h1v1h-1zM31 52h1v1h-1zM35 21h1v1h-1zM1 52h1v1h-1zM39 53h1v1h-1zM1 41h1v1h-1zM24 43h1v1h-1zM1 27h1v1h-1zM47 53h1v1h-1zM42 29h1v1h-1zM1 7h1v1h-1zM19 0h1v1h-1zM33 59h1v1h-1zM52 52h1v1h-1zM11 11h1v1h-1zM47 43h1v1h-1zM47 8h1v1h-1zM45 18h1v1h-1zM21 37h1v1h-1zM9 51h1v1h-1zM51 50h1v1h-1zM4 12h1v1h-1zM34 52h1v1h-1zM34 1h1v1h-1zM14 35h1v1h-1zM35 47h1v1h-1zM4 8h1v1h-1zM36 15h1v1h-1zM53 37h1v1h-1zM48 0h1v1h-1zM2 39h1v1h-1zM29 4h1v1h-1zM62 17h2v2h-2zM0 21h1v1h-1zM21 59h1v1h-1zM37 26h1v1h-1zM46 23h2v2h-2zM53 61h1v1h-1zM15 4h1v1h-1zM35 18h1v1h-1zM31 13h1v1h-1zM48 9h1v1h-1zM8 29h2v2h-2zM11 45h1v1h-1zM40 47h1v1h-1zM14 50h1v1h-1zM61 25h1v1h-1zM2 28h1v1h-1zM16 51h1v1h-1zM46 21h1v1h-1zM0 11h1v1h-1zM28 5h1v1h-1zM16 31h1v1h-1zM0 56h1v1h-1zM21 54h1v1h-1zM1 32h1v1h-1zM44 45h1v1h-1zM58 41h1v1h-1zM30 21h1v1h-1zM19 45h1v1h-1zM21 20h1v1h-1zM56 33h1v1h-1zM22 55h1v1h-1zM25 39h1v1h-1zM43 3h1v1h-1zM53 32h1v1h-1zM47 30h1v1h-1zM10 52h1v1h-1zM0 60h1v1h-1zM31 41h1v1h-1zM54 22h1v1h-1zM42 54h1v1h-1zM21 27h1v1h-1zM54 54h2v2h-2zM60 55h1v1h-1zM3 49h1v1h-1zM4 30h1v1h-1zM56 11h1v1h-1zM26 42h1v1h-1zM19 42h2v2h-2zM39 50h1v1h-1zM56 3h2v2h-2zM35 41h1v1h-1zM51 42h1v1h-1zM49 44h1v1h-1zM39 27h1v1h-1zM56 55h1v1h-1zM59 58h1v1h-1zM55 29h1v1h-1zM2 7h1v1h-1zM49 58h1v1h-1zM24 6h1v1h-1zM11 41h1v1h-1zM9 26h1v1h-1zM41 21h1v1h-1zM8 30h1v1h-1zM16 53h2v2h-2zM13 26h1v1h-1zM61 13h1v1h-1zM40 52h1v1h-1zM28 11h1v1h-1zM3 54h1v1h-1zM25 36h2v2h-2zM18 27h1v1h-1zM61 34h1v1h-1zM16 2h1v1h-1zM13 60h1v1h-1zM19 49h1v1h-1zM13 59h1v1h-1zM26 24h1v1h-1zM24 43h1v1h-1zM47 44h1v1h-1zM25 39h1v1h-1zM44 18h1v1h-1zM49 60h1v1h-1zM54 53h1v1h-1zM15 47h1v1h-1zM5 34h1v1h-1zM53 31h1v1h-1zM60 4h1v1h-1zM49 28h1v1h-1zM44 51h1v1h-1zM59 49h1v1h-1zM3 8h1v1h-1zM11 41h1v1h-1zM41 19h1v1h-1zM45 13h1v1h-1zM21 28h1v1h-1zM3 15h1v1h-1zM23 40h1v1h-1zM12 11h1v1h-1zM10 7h1v1h-1zM53 53h1v1h-1zM43 30h1v1h-1zM39 14h1v1h-1zM36 58h1v1h-1zM5 13h1v1h-1z"/></pattern><pattern id="e4" patternUnits="userSpaceOnUse" x="350" y="210" width="64" height="64"><path fill="#3c0008" d="M5 36h1v1h-1zM43 9h2v2h-2zM42 61h2v2h-2zM12 18h1v1h-1zM23 20h2v2h-2zM32 45h1v1h-1zM25 44h2v2h-2zM4 58h1v1h-1zM50 47h1v1h-1zM56 6h1v1h-1zM49 25h2v2h-2zM53 11h1v1h-1zM28 4h1v1h-1zM6 24h2v2h-2zM31 28h1v1h-1zM25 57h1v1h-1zM37 8h1v1h-1zM57 19h1v1h-1zM16 47h1v1h-1zM12 18h1v1h-1zM18 44h1v1h-1zM17 33h1v1h-1zM59 55h2v2h-2zM61 0h1v1h-1zM45 34h1v1h-1zM7 47h1v1h-1zM29 28h1v1h-1zM39 36h1v1h-1zM41 29h1v1h-1zM49 44h1v1h-1zM8 3h2v2h-2zM22 15h1v1h-1zM33 21h1v1h-1z"/><path fill="#5a0010" d="M28 25h2v2h-2zM59 11h1v1h-1zM48 53h1v1h-1zM62 60h1v1h-1zM58 45h1v1h-1zM45 35h2v2h-2zM10 46h1v1h-1zM12 58h1v1h-1zM38 24h1v1h-1zM55 31h2v2h-2zM47 53h1v1h-1zM41 32h1v1h-1zM16 45h1v1h-1zM12 47h1v1h-1zM25 54h1v1h-1zM54 18h1v1h-1zM56 61h2v2h-2zM14 41h1v1h-1zM24 30h2v2h-2zM39 24h1v1h-1zM2 57h1v1h-1zM60 30h1v1h-1zM61 25h1v1h-1zM47 61h2v2h-2zM14 0h1v1h-1zM51 39h1v1h-1zM57 35h1v1h-1zM11 33h1v1h-1zM7 48h1v1h-1zM1 44h1v1h-1zM58 12h1v1h-1zM6 10h1v1h-1zM30 4h2v2h-2zM1 42h1v1h-1zM14 61h2v2h-2zM30 17h1v1h-1zM0 27h1v1h-1zM49 17h1v1h-1zM33 17h1v1h-1zM34 15h1v1h-1zM58 41h1v1h-1zM2 21h1v1h-1zM50 12h1v1h-1zM25 58h1v1h-1zM4 53h2v2h-2zM1 0h1v1h-1z"/><path fill="#8a1018" d="M62 46h1v1h-1zM51 16h1v1h-1zM18 46h1v1h-1zM45 14h2v2h-2zM30 37h2v2h-2zM23 31h1v1h-1zM17 43h1v1h-1zM50 43h1v1h-1zM48 9h1v1h-1zM24 52h1v1h-1zM49 57h1v1h-1z"/></pattern><pattern id="m4" patternUnits="userSpaceOnUse" x="416" y="210" width="64" height="64"><path fill="#3030ff" d="M40 20h1v1h-1zM25 57h1v1h-1zM52 2h1v1h-1zM4 38h1v1h-1zM10 20h1v1h-1zM14 15h1v1h-1zM3 31h1v1h-1zM12 30h1v1h-1zM56 8h1v1h-1zM21 55h1v1h-1zM49 19h1v1h-1zM27 7h1v1h-1zM19 27h1v1h-1zM36 8h1v1h-1zM58 7h1v1h-1zM37 11h1v1h-1zM0 44h2v2h-2zM26 38h1v1h-1zM56 50h1v1h-1zM2 0h1v1h-1zM31 57h1v1h-1zM17 11h1v1h-1zM2 11h1v1h-1zM11 60h1v1h-1zM19 45h1v1h-1zM16 31h1v1h-1zM34 60h1v1h-1zM1 57h1v1h-1zM43 54h1v1h-1zM54 61h1v1h-1zM35 60h1v1h-1zM55 41h2v2h-2zM41 55h1v1h-1zM29 42h1v1h-1zM52 41h1v1h-1zM51 1h1v1h-1zM24 9h1v1h-1zM60 45h1v1h-1zM54 43h1v1h-1zM19 35h1v1h-1zM37 57h1v1h-1zM27 41h1v1h-1zM37 57h1v1h-1zM24 37h1v1h-1zM57 41h1v1h-1zM7 24h1v1h-1zM52 6h1v1h-1zM35 18h1v1h-1zM17 17h1v1h-1zM56 9h1v1h-1zM6 59h1v1h-1zM53 16h1v1h-1zM47 12h1v1h-1zM52 19h1v1h-1zM33 21h1v1h-1zM61 10h1v1h-1zM14 3h1v1h-1zM49 38h1v1h-1zM28 3h1v1h-1zM58 18h1v1h-1zM28 38h1v1h-1zM11 61h1v1h-1zM36 6h1v1h-1zM17 31h1v1h-1zM2 31h1v1h-1zM28 57h1v1h-1zM37 10h1v1h-1zM54 8h1v1h-1zM41 20h1v1h-1zM7 52h2v2h-2zM32 51h1v1h-1zM17 15h1v1h-1zM26 12h2v2h-2zM4 52h1v1h-1zM37 40h1v1h-1zM15 29h1v1h-1zM56 14h1v1h-1zM47 4h1v1h-1zM62 32h1v1h-1zM50 14h1v1h-1zM53 3h1v1h-1zM18 33h1v1h-1zM3 55h1v1h-1zM53 33h1v1h-1zM2 30h1v1h-1zM61 60h1v1h-1zM56 44h1v1h-1zM29 52h1v1h-1zM1 1h1v1h-1zM6 26h1v1h-1zM41 21h1v1h-1zM46 58h1v1h-1zM7 55h1v1h-1zM61 0h1v1h-1zM33 61h1v1h-1zM53 35h1v1h-1zM6 51h1v1h-1zM7 46h1v1h-1zM21 62h1v1h-1zM49 1h1v1h-1zM30 10h2v2h-2zM41 3h1v1h-1zM5 56h1v1h-1zM15 37h1v1h-1zM21 56h1v1h-1zM28 15h1v1h-1zM34 6h1v1h-1zM5 50h1v1h-1zM14 2h1v1h-1zM59 16h2v2h-2zM55 59h1v1h-1zM50 57h1v1h-1zM34 58h1v1h-1zM44 3h1v1h-1zM8 27h1v1h-1zM23 32h1v1h-1zM35 59h1v1h-1zM14 42h1v1h-1zM60 33h1v1h-1zM62 46h1v1h-1zM33 58h1v1h-1zM39 16h1v1h-1zM54 2h1v1h-1zM14 45h1v1h-1zM0 54h1v1h-1zM4 3h1v1h-1zM12 44h2v2h-2zM49 58h1v1h-1zM1 47h1v1h-1zM16 8h1v1h-1zM60 9h1v1h-1zM16 55h1v1h-1zM34 16h1v1h-1zM45 19h1v1h-1zM7 61h1v1h-1zM53 12h1v1h-1zM24 45h1v1h-1zM50 5h1v1h-1zM8 3h1v1h-1zM50 4h1v1h-1zM8 33h1v1h-1zM19 48h1v1h-1zM44 15h2v2h-2zM7 52h1v1h-1zM1 16h1v1h-1zM1 57h1v1h-1zM41 32h1v1h-1zM46 33h1v1h-1zM47 15h1v1h-1zM3 48h1v1h-1zM10 56h1v1h-1zM2 2h1v1h-1zM33 53h1v1h-1zM27 6h1v1h-1zM60 51h1v1h-1zM52 39h1v1h-1zM54 14h1v1h-1zM52 34h1v1h-1zM51 38h1v1h-1zM46 44h1v1h-1zM49 51h1v1h-1zM1 20h1v1h-1zM3 60h1v1h-1zM15 10h1v1h-1zM17 34h1v1h-1zM39 23h1v1h-1zM13 55h1v1h-1zM0 17h1v1h-1zM53 45h1v1h-1zM12 42h1v1h-1zM18 39h1v1h-1zM15 25h1v1h-1zM11 34h1v1h-1zM13 39h1v1h-1zM17 29h1v1h-1zM31 20h1v1h-1zM0 40h1v1h-1zM30 6h1v1h-1zM29 52h1v1h-1zM55 24h1v1h-1zM17 1h1v1h-1zM26 25h1v1h-1zM4 2h1v1h-1zM58 24h1v1h-1zM8 9h1v1h-1zM27 41h1v1h-1zM33 40h1v1h-1zM8 40h1v1h-1zM50 14h1v1h-1zM2 4h1v1h-1zM36 59h1v1h-1zM1 7h1v1h-1zM45 42h1v1h-1zM21 28h2v2h-2zM14 9h1v1h-1zM52 38h1v1h-1zM25 31h1v1h-1zM4 8h1v1h-1zM13 31h1v1h-1zM2 29h1v1h-1zM35 51h1v1h-1zM16 54h1v1h-1zM8 48h1v1h-1zM31 18h1v1h-1zM49 33h1v1h-1zM41 50h1v1h-1zM40 31h1v1h-1zM60 39h1v1h-1zM5 25h1v1h-1zM11 57h2v2h-2zM46 10h1v1h-1zM27 0h1v1h-1zM24 35h1v1h-1zM47 33h1v1h-1zM34 44h1v1h-1zM14 41h2v2h-2zM20 1h1v1h-1zM10 51h1v1h-1zM30 59h1v1h-1zM7 15h1v1h-1zM50 31h1v1h-1zM32 42h1v1h-1zM47 34h1v1h-1zM44 14h1v1h-1zM14 42h1v1h-1zM9 19h1v1h-1zM5 40h1v1h-1zM36 0h1v1h-1zM32 41h1v1h-1zM56 1h1v1h-1zM43 46h1v1h-1zM55 54h1v1h-1zM39 2h1v1h-1zM56 6h1v1h-1zM9 48h1v1h-1zM49 44h1v1h-1zM31 54h1v1h-1zM51 31h2v2h-2zM21 8h1v1h-1zM30 47h1v1h-1zM13 45h2v2h-2zM11 47h1v1h-1zM13 27h1v1h-1zM22 29h1v1h-1zM33 40h1v1h-1zM3 61h1v1h-1zM19 59h1v1h-1zM14 15h1v1h-1zM17 60h2v2h-2zM24 16h1v1h-1zM26 23h1v1h-1zM54 16h1v1h-1zM20 22h1v1h-1zM24 3h1v1h-1zM8 54h1v1h-1zM56 28h1v1h-1zM17 2h1v1h-1zM40 51h1v1h-1zM38 62h1v1h-1zM23 16h1v1h-1zM43 1h1v1h-1zM22 52h1v1h-1zM60 8h1v1h-1zM23 13h1v1h-1zM12 59h1v1h-1zM54 39h2v2h-2zM40 27h1v1h-1zM39 6h1v1h-1zM11 62h1v1h-1zM3 24h1v1h-1zM1 16h1v1h-1zM57 7h1v1h-1zM25 28h1v1h-1zM46 58h2v2h-2zM21 36h1v1h-1zM31 60h1v1h-1zM14 60h1v1h-1zM43 9h1v1h-1zM61 58h1v1h-1z"/><path fill="#2020d8" d="M50 1h1v1h-1zM24 20h1v1h-1zM29 33h1v1h-1zM6 37h1v1h-1zM39 57h2v2h-2zM2 23h1v1h-1zM5 9h1v1h-1zM33 44h1v1h-1zM53 55h1v1h-1zM45 36h1v1h-1zM50 38h1v1h-1zM24 34h2v2h-2zM13 23h1v1h-1zM50 51h1v1h-1zM60 38h1v1h-1zM27 55h1v1h-1zM16 40h1v1h-1zM9 12h1v1h-1zM14 37h2v2h-2zM4 14h1v1h-1zM56 11h1v1h-1zM57 12h1v1h-1zM46 44h1v1h-1zM38 59h1v1h-1zM51 2h1v1h-1zM7 5h1v1h-1zM17 59h1v1h-1zM4 23h1v1h-1zM15 52h1v1h-1zM48 35h1v1h-1zM53 51h1v1h-1zM48 16h1v1h-1zM27 57h1v1h-1zM6 53h1v1h-1zM5 15h1v1h-1zM34 53h1v1h-1zM48 0h1v1h-1zM34 41h1v1h-1zM36 57h1v1h-1zM6 15h1v1h-1zM49 39h1v1h-1zM48 29h1v1h-1zM41 15h1v1h-1zM12 40h1v1h-1zM58 13h1v1h-1zM9 43h1v1h-1zM22 26h1v1h-1zM14 22h1v1h-1zM48 50h1v1h-1zM34 59h1v1h-1zM41 52h1v1h-1zM3 26h1v1h-1zM47 39h1v1h-1zM39 45h1v1h-1zM20 21h1v1h-1zM46 1h1v1h-1zM7 9h1v1h-1zM20 15h1v1h-1zM34 39h1v1h-1zM36 2h1v1h-1zM4 33h1v1h-1zM3 54h1v1h-1zM32 21h1v1h-1zM28 25h1v1h-1zM56 44h1v1h-1zM47 5h1v1h-1zM25 31h1v1h-1zM11 21h1v1h-1zM34 50h1v1h-1zM0 41h1v1h-1zM61 7h1v1h-1zM41 7h1v1h-1zM6 23h1v1h-1zM44 26h1v1h-1zM5 39h1v1h-1zM30 47h1v1h-1zM31 52h1v1h-1zM56 14h1v1h-1zM46 7h1v1h-1zM13 13h1v1h-1zM48 30h1v1h-1zM61 34h1v1h-1zM31 56h1v1h-1zM10 60h1v1h-1zM33 44h1v1h-1zM59 11h1v1h-1zM44 55h1v1h-1zM35 19h1v1h-1zM17 13h2v2h-2zM52 58h1v1h-1zM31 5h1v1h-1zM0 1h1v1h-1zM62 48h2v2h-2zM13 8h1v1h-1zM39 22h1v1h-1zM40 16h1v1h-1zM34 60h1v1h-1zM5 57h1v1h-1zM50 34h1v1h-1zM20 34h1v1h-1zM32 16h1v1h-1zM45 41h1v1h-1zM41 15h2v2h-2zM9 36h1v1h-1zM31 55h1v1h-1zM31 6h1v1h-1zM11 36h1v1h-1zM47 47h1v1h-1zM5 32h1v1h-1zM14 19h1v1h-1zM49 9h1v1h-1zM30 60h1v1h-1zM37 18h1v1h-1zM5 22h1v1h-1zM21 56h1v1h-1zM58 22h1v1h-1zM45 57h1v1h-1zM55 50h1v1h-1zM9 1h1v1h-1zM25 21h1v1h-1zM60 6h1v1h-1zM57 38h1v1h-1zM20 47h1v1h-1zM37 7h1v1h-1zM14 35h1v1h-1zM26 56h1v1h-1zM10 6h1v1h-1zM24 52h1v1h-1zM38 19h1v1h-1zM27 15h1v1h-1zM8 43h1v1h-1zM34 12h1v1h-1zM23 42h1v1h-1zM57 50h1v1h-1zM48 22h1v1h-1zM33 60h1v1h-1zM45 54h1v1h-1zM51 11h1v1h-1zM60 16h1v1h-1zM21 48h1v1h-1zM7 29h1v1h-1zM11 58h1v1h-1zM6 9h1v1h-1zM43 59h1v1h-1zM59 57h1v1h-1zM5 50h1v1h-1zM29 18h1v1h-1zM35 59h1v1h-1zM51 15h1v1h-1zM47 1h1v1h-1zM50 49h1v1h-1zM12 4h1v1h-1zM57 51h1v1h-1zM39 43h1v1h-1zM44 17h1v1h-1zM25 2h1v1h-1zM58 22h1v1h-1zM9 30h1v1h-1zM19 6h1v1h-1zM54 47h2v2h-2zM54 4h1v1h-1zM59 13h1v1h-1zM62 11h1v1h-1zM15 44h1v1h-1zM28 41h1v1h-1zM3 2h1v1h-1zM61 31h1v1h-1zM12 53h1v1h-1zM30 20h1v1h-1zM50 30h1v1h-1zM4 59h1v1h-1zM47 57h1v1h-1zM15 2h1v1h-1zM52 30h1v1h-1zM60 25h1v1h-1zM27 42h1v1h-1zM17 40h1v1h-1zM37 50h2v2h-2zM43 20h1v1h-1zM59 58h1v1h-1zM46 25h1v1h-1zM15 25h1v1h-1zM20 19h1v1h-1zM3 59h1v1h-1zM14 28h1v1h-1zM11 58h1v1h-1zM49 0h1v1h-1zM7 0h1v1h-1zM43 32h1v1h-1zM40 26h1v1h-1zM50 55h1v1h-1zM36 36h1v1h-1zM37 57h1v1h-1zM9 42h1v1h-1zM59 45h1v1h-1zM52 2h1v1h-1zM30 53h1v1h-1zM4 62h1v1h-1zM53 40h1v1h-1zM38 11h1v1h-1zM34 15h2v2h-2zM21 27h1v1h-1zM26 40h1v1h-1zM16 15h1v1h-1zM16 28h1v1h-1zM61 40h1v1h-1zM42 43h1v1h-1zM40 5h1v1h-1zM7 20h1v1h-1zM50 5h1v1h-1zM12 21h1v1h-1zM39 48h1v1h-1zM14 41h1v1h-1zM47 16h1v1h-1zM2 48h1v1h-1zM40 38h1v1h-1zM7 2h1v1h-1zM25 57h1v1h-1zM12 36h1v1h-1zM16 54h1v1h-1zM0 11h1v1h-1zM20 51h1v1h-1zM5 20h1v1h-1zM18 44h1v1h-1zM46 60h1v1h-1zM7 8h1v1h-1zM24 40h1v1h-1zM35 24h1v1h-1zM32 58h1v1h-1zM18 37h1v1h-1zM39 47h1v1h-1zM22 45h1v1h-1zM19 43h1v1h-1zM53 16h1v1h-1zM29 32h2v2h-2zM35 6h1v1h-1zM36 18h1v1h-1zM5 41h1v1h-1zM43 4h1v1h-1zM44 53h1v1h-1zM37 43h1v1h-1zM28 46h1v1h-1zM32 3h1v1h-1zM32 49h1v1h-1zM12 15h1v1h-1zM60 39h2v2h-2zM22 42h1v1h-1zM58 31h1v1h-1zM59 33h1v1h-1zM41 43h1v1h-1zM42 38h1v1h-1zM12 7h1v1h-1zM33 18h1v1h-1zM42 15h1v1h-1zM15 41h1v1h-1zM48 9h1v1h-1zM39 53h1v1h-1zM6 16h1v1h-1zM28 34h1v1h-1zM16 13h1v1h-1zM51 7h2v2h-2zM50 37h1v1h-1zM9 31h1v1h-1zM49 22h1v1h-1zM8 12h1v1h-1zM22 41h1v1h-1zM32 48h1v1h-1zM57 2h1v1h-1zM12 17h1v1h-1zM37 18h1v1h-1zM61 52h1v1h-1zM14 13h2v2h-2zM32 52h1v1h-1zM18 45h1v1h-1zM14 59h1v1h-1zM47 19h1v1h-1zM50 35h2v2h-2zM31 2h2v2h-2zM1 9h1v1h-1zM22 55h1v1h-1zM33 2h1v1h-1zM1 21h1v1h-1zM47 53h1v1h-1zM46 60h1v1h-1zM12 15h1v1h-1zM18 30h1v1h-1zM18 10h2v2h-2zM7 13h1v1h-1zM46 10h1v1h-1zM41 0h1v1h-1zM6 44h2v2h-2zM43 16h1v1h-1zM20 25h1v1h-1zM28 0h1v1h-1zM19 27h1v1h-1zM47 44h1v1h-1zM2 52h1v1h-1zM24 21h2v2h-2zM1 15h1v1h-1zM8 28h1v1h-1zM22 18h1v1h-1zM57 26h1v1h-1z"/><path fill="#1414a0" d="M54 45h1v1h-1zM39 52h1v1h-1zM28 0h1v1h-1zM13 12h1v1h-1zM46 35h1v1h-1zM41 51h2v2h-2zM7 32h1v1h-1zM53 51h1v1h-1zM35 49h1v1h-1zM22 15h1v1h-1zM28 5h1v1h-1zM22 59h1v1h-1zM51 56h1v1h-1zM6 9h1v1h-1zM17 35h1v1h-1zM14 50h1v1h-1zM24 3h1v1h-1zM23 41h2v2h-2zM28 14h1v1h-1zM40 25h1v1h-1zM26 44h1v1h-1zM57 27h1v1h-1zM30 21h1v1h-1zM62 18h1v1h-1zM15 18h1v1h-1zM28 62h1v1h-1zM50 44h1v1h-1zM46 60h1v1h-1zM36 9h1v1h-1zM58 42h1v1h-1zM13 28h1v1h-1zM13 43h1v1h-1zM8 61h1v1h-1zM32 6h1v1h-1zM24 28h1v1h-1zM50 13h1v1h-1zM53 16h1v1h-1zM6 14h1v1h-1zM2 41h1v1h-1zM11 18h1v1h-1zM42 38h1v1h-1zM8 58h1v1h-1zM9 15h1v1h-1zM50 19h1v1h-1zM38 5h1v1h-1zM6 43h1v1h-1zM41 22h1v1h-1zM49 0h1v1h-1zM0 0h1v1h-1zM19 61h1v1h-1zM6 37h1v1h-1zM5 2h1v1h-1zM49 27h1v1h-1zM4 29h1v1h-1zM61 22h1v1h-1zM21 49h1v1h-1zM58 22h1v1h-1zM36 2h1v1h-1zM33 15h2v2h-2zM31 7h1v1h-1zM24 7h1v1h-1zM58 60h1v1h-1zM5 58h1v1h-1zM44 29h2v2h-2zM3 47h1v1h-1zM48 1h1v1h-1zM53 37h1v1h-1zM46 53h1v1h-1zM41 26h1v1h-1zM33 35h1v1h-1zM61 55h1v1h-1zM31 52h1v1h-1zM35 21h1v1h-1zM1 52h1v1h-1zM39 53h1v1h-1zM1 41h1v1h-1zM24 43h1v1h-1zM1 27h1v1h-1zM47 53h1v1h-1zM42 29h1v1h-1zM1 7h1v1h-1zM19 0h1v1h-1zM33 59h1v1h-1zM52 52h1v1h-1zM11 11h1v1h-1zM47 43h1v1h-1zM47 8h1v1h-1zM45 18h1v1h-1zM21 37h1v1h-1zM9 51h1v1h-1zM51 50h1v1h-1zM4 12h1v1h-1zM34 52h1v1h-1zM34 1h1v1h-1zM14 35h1v1h-1zM35 47h1v1h-1zM4 8h1v1h-1zM36 15h1v1h-1zM53 37h1v1h-1zM48 0h1v1h-1zM2 39h1v1h-1zM29 4h1v1h-1zM62 17h2v2h-2zM0 21h1v1h-1zM21 59h1v1h-1zM37 26h1v1h-1zM46 23h2v2h-2zM53 61h1v1h-1zM15 4h1v1h-1zM35 18h1v1h-1zM31 13h1v1h-1zM48 9h1v1h-1zM8 29h2v2h-2zM11 45h1v1h-1zM40 47h1v1h-1zM14 50h1v1h-1zM61 25h1v1h-1zM2 28h1v1h-1zM16 51h1v1h-1zM46 21h1v1h-1zM0 11h1v1h-1zM28 5h1v1h-1zM16 31h1v1h-1zM0 56h1v1h-1zM21 54h1v1h-1zM1 32h1v1h-1zM44 45h1v1h-1zM58 41h1v1h-1zM30 21h1v1h-1zM19 45h1v1h-1zM21 20h1v1h-1zM56 33h1v1h-1zM22 55h1v1h-1zM25 39h1v1h-1zM43 3h1v1h-1zM53 32h1v1h-1zM47 30h1v1h-1zM10 52h1v1h-1zM0 60h1v1h-1zM31 41h1v1h-1zM54 22h1v1h-1zM42 54h1v1h-1zM21 27h1v1h-1zM54 54h2v2h-2zM60 55h1v1h-1zM3 49h1v1h-1zM4 30h1v1h-1zM56 11h1v1h-1zM26 42h1v1h-1zM19 42h2v2h-2zM39 50h1v1h-1zM56 3h2v2h-2zM35 41h1v1h-1zM51 42h1v1h-1zM49 44h1v1h-1zM39 27h1v1h-1zM56 55h1v1h-1zM59 58h1v1h-1zM55 29h1v1h-1zM2 7h1v1h-1zM49 58h1v1h-1zM24 6h1v1h-1zM11 41h1v1h-1zM9 26h1v1h-1zM41 21h1v1h-1zM8 30h1v1h-1zM16 53h2v2h-2zM13 26h1v1h-1zM61 13h1v1h-1zM40 52h1v1h-1zM28 11h1v1h-1zM3 54h1v1h-1zM25 36h2v2h-2zM18 27h1v1h-1zM61 34h1v1h-1zM16 2h1v1h-1zM13 60h1v1h-1zM19 49h1v1h-1zM13 59h1v1h-1zM26 24h1v1h-1zM24 43h1v1h-1zM47 44h1v1h-1zM25 39h1v1h-1zM44 18h1v1h-1zM49 60h1v1h-1zM54 53h1v1h-1zM15 47h1v1h-1zM5 34h1v1h-1zM53 31h1v1h-1zM60 4h1v1h-1zM49 28h1v1h-1zM44 51h1v1h-1zM59 49h1v1h-1zM3 8h1v1h-1zM11 41h1v1h-1zM41 19h1v1h-1zM45 13h1v1h-1zM21 28h1v1h-1zM3 15h1v1h-1zM23 40h1v1h-1zM12 11h1v1h-1zM10 7h1v1h-1zM53 53h1v1h-1zM43 30h1v1h-1zM39 14h1v1h-1zM36 58h1v1h-1zM5 13h1v1h-1z"/><path fill="#4a1070" d="M5 36h1v1h-1zM43 9h2v2h-2zM42 61h2v2h-2zM12 18h1v1h-1zM23 20h2v2h-2zM32 45h1v1h-1zM28 25h2v2h-2zM59 11h1v1h-1zM62 60h1v1h-1zM25 44h2v2h-2zM4 58h1v1h-1zM50 47h1v1h-1zM56 6h1v1h-1zM49 25h2v2h-2zM38 24h1v1h-1zM55 31h2v2h-2zM47 53h1v1h-1zM41 32h1v1h-1zM53 11h1v1h-1zM16 45h1v1h-1zM28 4h1v1h-1zM6 24h2v2h-2zM12 47h1v1h-1zM25 54h1v1h-1zM56 61h2v2h-2zM14 41h1v1h-1zM31 28h1v1h-1zM25 57h1v1h-1zM37 8h1v1h-1zM2 57h1v1h-1zM57 19h1v1h-1zM60 30h1v1h-1zM16 47h1v1h-1zM12 18h1v1h-1zM18 44h1v1h-1zM17 33h1v1h-1zM59 55h2v2h-2zM61 0h1v1h-1zM51 39h1v1h-1zM57 35h1v1h-1zM45 34h1v1h-1zM1 44h1v1h-1zM1 42h1v1h-1zM7 47h1v1h-1zM14 61h2v2h-2zM30 17h1v1h-1zM49 17h1v1h-1zM33 17h1v1h-1zM29 28h1v1h-1zM34 15h1v1h-1zM58 41h1v1h-1zM39 36h1v1h-1zM41 29h1v1h-1zM49 44h1v1h-1zM2 21h1v1h-1zM8 3h2v2h-2zM50 12h1v1h-1zM25 58h1v1h-1zM22 15h1v1h-1zM4 53h2v2h-2zM1 0h1v1h-1zM33 21h1v1h-1z"/><path fill="#702080" d="M48 53h1v1h-1zM58 45h1v1h-1zM45 35h2v2h-2zM62 46h1v1h-1zM10 46h1v1h-1zM12 58h1v1h-1zM51 16h1v1h-1zM18 46h1v1h-1zM54 18h1v1h-1zM45 14h2v2h-2zM24 30h2v2h-2zM39 24h1v1h-1zM61 25h1v1h-1zM30 37h2v2h-2zM47 61h2v2h-2zM14 0h1v1h-1zM11 33h1v1h-1zM7 48h1v1h-1zM58 12h1v1h-1zM23 31h1v1h-1zM6 10h1v1h-1zM30 4h2v2h-2zM0 27h1v1h-1zM17 43h1v1h-1zM50 43h1v1h-1zM48 9h1v1h-1zM24 52h1v1h-1zM49 57h1v1h-1z"/></pattern></defs>
<text x="8.5" y="15.8" font-size="17.5">A</text>
<rect x="38" y="17.8" width="9" height="3.2" fill="#000"/>
<text x="51.5" y="22" font-size="7.2" class="n" textLength="21.3" lengthAdjust="spacingAndGlyphs">OE-NC</text>
<rect x="82.5" y="18.2" width="8.5" height="3.3" fill="#b953d9"/>
<text x="96" y="22" font-size="7.2" class="n" textLength="40.4" lengthAdjust="spacingAndGlyphs">OE-SLCO3A1</text>
<line x1="35.5" y1="36.5" x2="35.5" y2="57.7" stroke="#000" stroke-width="1"/>
<line x1="35.5" y1="61.9" x2="35.5" y2="83.5" stroke="#000" stroke-width="1"/>
<line x1="35.5" y1="87.9" x2="35.5" y2="108.7" stroke="#000" stroke-width="1"/>
<line x1="33.3" y1="56.2" x2="37.1" y2="59.2" stroke="#000" stroke-width="0.8"/>
<line x1="33.3" y1="60.4" x2="37.1" y2="63.4" stroke="#000" stroke-width="0.8"/>
<line x1="33.3" y1="82" x2="37.1" y2="85" stroke="#000" stroke-width="0.8"/>
<line x1="33.3" y1="86.4" x2="37.1" y2="89.4" stroke="#000" stroke-width="0.8"/>
<line x1="32.4" y1="36.5" x2="35.2" y2="36.5" stroke="#000" stroke-width="0.9"/>
<text x="31.2" y="38.28" font-size="5.4" text-anchor="end" textLength="12" lengthAdjust="spacingAndGlyphs">1200</text>
<line x1="32.4" y1="46.7" x2="35.2" y2="46.7" stroke="#000" stroke-width="0.9"/>
<text x="31.2" y="48.48" font-size="5.4" text-anchor="end" textLength="12" lengthAdjust="spacingAndGlyphs">1000</text>
<line x1="32.4" y1="56.9" x2="35.2" y2="56.9" stroke="#000" stroke-width="0.9"/>
<text x="31.2" y="58.68" font-size="5.4" text-anchor="end" textLength="9" lengthAdjust="spacingAndGlyphs">800</text>
<line x1="32.4" y1="67.1" x2="35.2" y2="67.1" stroke="#000" stroke-width="0.9"/>
<text x="31.2" y="68.88" font-size="5.4" text-anchor="end" textLength="9" lengthAdjust="spacingAndGlyphs">200</text>
<line x1="32.4" y1="78" x2="35.2" y2="78" stroke="#000" stroke-width="0.9"/>
<text x="31.2" y="79.78" font-size="5.4" text-anchor="end" textLength="9" lengthAdjust="spacingAndGlyphs">100</text>
<line x1="32.4" y1="88.2" x2="35.2" y2="88.2" stroke="#000" stroke-width="0.9"/>
<text x="31.2" y="89.98" font-size="5.4" text-anchor="end" textLength="3" lengthAdjust="spacingAndGlyphs">2</text>
<line x1="32.4" y1="108.5" x2="35.2" y2="108.5" stroke="#000" stroke-width="0.9"/>
<text x="31.2" y="110.28" font-size="5.4" text-anchor="end" textLength="3" lengthAdjust="spacingAndGlyphs">0</text>
<text x="15" y="72.6" font-size="6.3" text-anchor="middle" transform="rotate(-90 15 72.6)" textLength="89" lengthAdjust="spacingAndGlyphs">Relative mRNA levels of SLCO3A1</text>
<line x1="35.2" y1="108.5" x2="129.5" y2="108.5" stroke="#000" stroke-width="1"/>
<line x1="50.2" y1="108.7" x2="50.2" y2="110.7" stroke="#000" stroke-width="0.9"/>
<line x1="80.8" y1="108.7" x2="80.8" y2="110.7" stroke="#000" stroke-width="0.9"/>
<line x1="111.4" y1="108.7" x2="111.4" y2="110.7" stroke="#000" stroke-width="0.9"/>
<rect x="37.9" y="98.4" width="11.1" height="10.3" fill="#000"/>
<line x1="43.45" y1="98.4" x2="43.45" y2="97" stroke="#000" stroke-width="0.8"/>
<line x1="41.12" y1="97" x2="45.78" y2="97" stroke="#000" stroke-width="0.8"/>
<rect x="51.5" y="88.3" width="11.2" height="20.4" fill="#b953d9"/>
<rect x="51.5" y="79.4" width="11.2" height="3.3" fill="#b953d9"/>
<line x1="57.1" y1="79.4" x2="57.1" y2="77.3" stroke="#b953d9" stroke-width="0.8"/>
<line x1="54.75" y1="77.3" x2="59.45" y2="77.3" stroke="#b953d9" stroke-width="0.8"/>
<rect x="68.3" y="98.4" width="11" height="10.3" fill="#000"/>
<line x1="73.8" y1="98.4" x2="73.8" y2="97.5" stroke="#000" stroke-width="0.8"/>
<line x1="71.49" y1="97.5" x2="76.11" y2="97.5" stroke="#000" stroke-width="0.8"/>
<rect x="82.1" y="88.3" width="11.1" height="20.4" fill="#b953d9"/>
<rect x="82.1" y="67.2" width="11.1" height="15.5" fill="#b953d9"/>
<line x1="87.65" y1="67.2" x2="87.65" y2="63.4" stroke="#b953d9" stroke-width="0.8"/>
<line x1="85.32" y1="63.4" x2="89.98" y2="63.4" stroke="#b953d9" stroke-width="0.8"/>
<rect x="99" y="98.4" width="11.2" height="10.3" fill="#000"/>
<line x1="104.6" y1="98.4" x2="104.6" y2="97.3" stroke="#000" stroke-width="0.8"/>
<line x1="102.25" y1="97.3" x2="106.95" y2="97.3" stroke="#000" stroke-width="0.8"/>
<rect x="112.7" y="88.3" width="11" height="20.4" fill="#b953d9"/>
<rect x="112.7" y="62.8" width="11" height="19.9" fill="#b953d9"/>
<rect x="112.7" y="49.2" width="11" height="7.4" fill="#b953d9"/>
<line x1="118.2" y1="49.2" x2="118.2" y2="38.5" stroke="#b953d9" stroke-width="0.8"/>
<line x1="115.89" y1="38.5" x2="120.51" y2="38.5" stroke="#b953d9" stroke-width="0.8"/>
<line x1="46.5" y1="73.5" x2="58" y2="73.5" stroke="#000" stroke-width="1.3"/>
<text x="52.3" y="72.72" font-size="7.2" text-anchor="middle" textLength="11.95" lengthAdjust="spacingAndGlyphs">***</text>
<line x1="76" y1="60.2" x2="88.4" y2="60.2" stroke="#000" stroke-width="1.3"/>
<text x="82.2" y="59.82" font-size="7.2" text-anchor="middle" textLength="11.95" lengthAdjust="spacingAndGlyphs">***</text>
<line x1="108.7" y1="33.2" x2="119.3" y2="33.2" stroke="#000" stroke-width="1.3"/>
<text x="114" y="32.32" font-size="7.2" text-anchor="middle" textLength="11.95" lengthAdjust="spacingAndGlyphs">***</text>
<text x="49.8" y="118.8" font-size="7" text-anchor="middle" textLength="25.8" lengthAdjust="spacingAndGlyphs">0.1ng/μL</text>
<text x="79.5" y="118.8" font-size="7" text-anchor="middle" textLength="28.1" lengthAdjust="spacingAndGlyphs">0.25ng/μL</text>
<text x="110.9" y="118.8" font-size="7" text-anchor="middle" textLength="26.6" lengthAdjust="spacingAndGlyphs">0.5ng/μL</text>
<text x="145.8" y="15.8" font-size="17.5">B</text>
<text x="190.3" y="50.6" font-size="7.2" text-anchor="end" transform="rotate(28 190.3 50.6)">OE-NC</text>
<text x="225.5" y="52.4" font-size="7.2" text-anchor="end" transform="rotate(29 225.5 52.4)">OE-SLCO3A1</text>
<rect x="173.4" y="54.8" width="61.9" height="18.8" fill="#f0f0f0"/>
<rect x="173.4" y="54.8" width="61.9" height="18.8" fill="url(#vv)"/>
<rect x="173.4" y="54.8" width="61.9" height="18.8" fill="url(#vh)"/>
<rect x="173.4" y="78.8" width="61.9" height="19.1" fill="#eeeeee"/>
<rect x="173.4" y="78.8" width="61.9" height="19.1" fill="url(#vv)"/>
<rect x="173.4" y="78.8" width="61.9" height="19.1" fill="url(#vh)"/>
<rect x="176" y="62" width="22.5" height="6" rx="3" fill="#000" fill-opacity="0.2" filter="url(#bl)"/>
<rect x="212" y="60.7" width="20.5" height="8" rx="4" fill="#000" fill-opacity="0.82" filter="url(#bl)"/>
<rect x="175" y="82.5" width="26" height="13" rx="4" fill="#000" fill-opacity="1" filter="url(#bl)"/>
<rect x="206.5" y="83.5" width="24.7" height="12.4" rx="4" fill="#000" fill-opacity="1" filter="url(#bl)"/>
<rect x="173.4" y="54.8" width="61.9" height="18.8" fill="none" stroke="#111" stroke-width="1.2"/>
<rect x="173.4" y="78.8" width="61.9" height="19.1" fill="none" stroke="#111" stroke-width="1.2"/>
<text x="170.5" y="67.1" font-size="8" text-anchor="end" textLength="32.6" lengthAdjust="spacingAndGlyphs">SLCO3A1</text>
<text x="167.7" y="90.5" font-size="8" text-anchor="end" textLength="24.1" lengthAdjust="spacingAndGlyphs">Tubulin</text>
<text x="237" y="66.7" font-size="8" textLength="22.1" lengthAdjust="spacingAndGlyphs">76 kDa</text>
<text x="237.4" y="90.6" font-size="8" textLength="22.2" lengthAdjust="spacingAndGlyphs">50 kDa</text>
<text x="266.5" y="16" font-size="17.5">C</text>
<rect x="295.8" y="14.5" width="7.7" height="3" fill="#000"/>
<text x="307.9" y="18" font-size="6.6" class="n" fill="#333" style="stroke:#333" textLength="26.9" lengthAdjust="spacingAndGlyphs">siRNA#NC</text>
<rect x="339" y="14.1" width="7.7" height="3.6" fill="#b953d9"/>
<text x="351.1" y="18.2" font-size="6.6" class="n" fill="#333" style="stroke:#333" textLength="21.8" lengthAdjust="spacingAndGlyphs">siRNA#1</text>
<rect x="295.8" y="21.8" width="7.7" height="2.9" fill="#868686"/>
<text x="307.9" y="25.4" font-size="6.6" class="n" fill="#333" style="stroke:#333" textLength="21.1" lengthAdjust="spacingAndGlyphs">siRNA#2</text>
<rect x="339" y="21.8" width="7.7" height="3.2" fill="#d6d6d6"/>
<text x="351.1" y="25.5" font-size="6.6" class="n" fill="#333" style="stroke:#333" textLength="21.8" lengthAdjust="spacingAndGlyphs">siRNA#3</text>
<line x1="303.5" y1="37.5" x2="303.5" y2="109.2" stroke="#000" stroke-width="1"/>
<line x1="300.2" y1="37.9" x2="303" y2="37.9" stroke="#000" stroke-width="0.9"/>
<text x="299" y="39.62" font-size="5.2" text-anchor="end" textLength="6.5" lengthAdjust="spacingAndGlyphs">1.5</text>
<line x1="300.2" y1="61.7" x2="303" y2="61.7" stroke="#000" stroke-width="0.9"/>
<text x="299" y="63.42" font-size="5.2" text-anchor="end" textLength="6.5" lengthAdjust="spacingAndGlyphs">1.0</text>
<line x1="300.2" y1="85.5" x2="303" y2="85.5" stroke="#000" stroke-width="0.9"/>
<text x="299" y="87.22" font-size="5.2" text-anchor="end" textLength="6.5" lengthAdjust="spacingAndGlyphs">0.5</text>
<line x1="300.2" y1="109.2" x2="303" y2="109.2" stroke="#000" stroke-width="0.9"/>
<text x="299" y="110.92" font-size="5.2" text-anchor="end" textLength="6.5" lengthAdjust="spacingAndGlyphs">0.0</text>
<text x="288.2" y="73" font-size="6.3" text-anchor="middle" transform="rotate(-90 288.2 73)" textLength="89" lengthAdjust="spacingAndGlyphs">Relative mRNA levels of SLCO3A1</text>
<line x1="303" y1="109.5" x2="410" y2="109.5" stroke="#000" stroke-width="1"/>
<line x1="329" y1="109.2" x2="329" y2="111.2" stroke="#000" stroke-width="0.9"/>
<line x1="381.7" y1="109.2" x2="381.7" y2="111.2" stroke="#000" stroke-width="0.9"/>
<rect x="305.5" y="61.7" width="9.5" height="47.5" fill="#000"/>
<line x1="310.25" y1="61.7" x2="310.25" y2="57.6" stroke="#000" stroke-width="0.8"/>
<line x1="308.25" y1="57.6" x2="312.25" y2="57.6" stroke="#000" stroke-width="0.8"/>
<rect x="317.5" y="106" width="10.2" height="3.2" fill="#b953d9"/>
<line x1="322.6" y1="106" x2="322.6" y2="105.2" stroke="#b953d9" stroke-width="0.8"/>
<line x1="320.46" y1="105.2" x2="324.74" y2="105.2" stroke="#b953d9" stroke-width="0.8"/>
<rect x="330.3" y="102.8" width="9.5" height="6.4" fill="#868686"/>
<line x1="335.05" y1="102.8" x2="335.05" y2="100.3" stroke="#868686" stroke-width="0.8"/>
<line x1="333.06" y1="100.3" x2="337.05" y2="100.3" stroke="#868686" stroke-width="0.8"/>
<rect x="342.6" y="107.8" width="9.8" height="1.4" fill="#d6d6d6"/>
<line x1="347.5" y1="107.8" x2="347.5" y2="106.6" stroke="#d6d6d6" stroke-width="0.8"/>
<line x1="345.44" y1="106.6" x2="349.56" y2="106.6" stroke="#d6d6d6" stroke-width="0.8"/>
<rect x="358.1" y="61.7" width="9.9" height="47.5" fill="#000"/>
<line x1="363.05" y1="61.7" x2="363.05" y2="57.6" stroke="#000" stroke-width="0.8"/>
<line x1="360.97" y1="57.6" x2="365.13" y2="57.6" stroke="#000" stroke-width="0.8"/>
<rect x="370.8" y="101.9" width="9.9" height="7.3" fill="#b953d9"/>
<line x1="375.75" y1="101.9" x2="375.75" y2="101.3" stroke="#b953d9" stroke-width="0.8"/>
<line x1="373.67" y1="101.3" x2="377.83" y2="101.3" stroke="#b953d9" stroke-width="0.8"/>
<rect x="383.3" y="105.4" width="9.9" height="3.8" fill="#868686"/>
<line x1="388.25" y1="105.4" x2="388.25" y2="103.5" stroke="#868686" stroke-width="0.8"/>
<line x1="386.17" y1="103.5" x2="390.33" y2="103.5" stroke="#868686" stroke-width="0.8"/>
<rect x="395.7" y="99" width="10.2" height="10.2" fill="#d6d6d6"/>
<line x1="400.8" y1="99" x2="400.8" y2="97.3" stroke="#d6d6d6" stroke-width="0.8"/>
<line x1="398.66" y1="97.3" x2="402.94" y2="97.3" stroke="#d6d6d6" stroke-width="0.8"/>
<line x1="313" y1="37.5" x2="343.8" y2="37.5" stroke="#000" stroke-width="1.3"/>
<text x="328.3" y="36.62" font-size="7.2" text-anchor="middle" textLength="11.95" lengthAdjust="spacingAndGlyphs">***</text>
<line x1="311.3" y1="45.8" x2="332.6" y2="45.8" stroke="#000" stroke-width="1.3"/>
<text x="322.5" y="45.52" font-size="7.2" text-anchor="middle" textLength="11.95" lengthAdjust="spacingAndGlyphs">***</text>
<line x1="310.8" y1="54.6" x2="320.6" y2="54.6" stroke="#000" stroke-width="1.3"/>
<text x="315.9" y="54.22" font-size="7.2" text-anchor="middle" textLength="7.45" lengthAdjust="spacingAndGlyphs">**</text>
<line x1="363.2" y1="37.8" x2="398.4" y2="37.8" stroke="#000" stroke-width="1.3"/>
<text x="380.9" y="37.02" font-size="7.2" text-anchor="middle" textLength="7.45" lengthAdjust="spacingAndGlyphs">**</text>
<line x1="363.5" y1="46.5" x2="387.5" y2="46.5" stroke="#000" stroke-width="1.3"/>
<text x="375.4" y="45.82" font-size="7.2" text-anchor="middle" textLength="7.45" lengthAdjust="spacingAndGlyphs">**</text>
<line x1="364.2" y1="55" x2="374.8" y2="55" stroke="#000" stroke-width="1.3"/>
<text x="369.6" y="54.52" font-size="7.2" text-anchor="middle" textLength="7.45" lengthAdjust="spacingAndGlyphs">**</text>
<text x="329" y="119" font-size="6.5" text-anchor="middle">50nM</text>
<text x="382" y="119" font-size="6.5" text-anchor="middle">100nM</text>
<text x="405.5" y="16.6" font-size="17.5">D</text>
<text x="467" y="49.8" font-size="7.2" text-anchor="end" transform="rotate(27 467 49.8)">KD-NC</text>
<text x="501.5" y="52.6" font-size="7.2" text-anchor="end" transform="rotate(27 501.5 52.6)">KD-SLCO3A1</text>
<rect x="450.6" y="54.8" width="61.2" height="18.8" fill="#e8e8e8"/>
<rect x="450.6" y="54.8" width="61.2" height="18.8" fill="url(#vv)"/>
<rect x="450.6" y="54.8" width="61.2" height="18.8" fill="url(#vh)"/>
<rect x="450.6" y="79.1" width="61.2" height="18.5" fill="#e8e8e8"/>
<rect x="450.6" y="79.1" width="61.2" height="18.5" fill="url(#vv)"/>
<rect x="450.6" y="79.1" width="61.2" height="18.5" fill="url(#vh)"/>
<rect x="452.5" y="57" width="22.5" height="5" rx="2.5" fill="#000" fill-opacity="0.25" filter="url(#bl)"/>
<rect x="452.2" y="59.45" width="22.8" height="11.5" rx="4" fill="#000" fill-opacity="1" filter="url(#bl)"/>
<rect x="486.4" y="62.9" width="22.2" height="7" rx="3.5" fill="#000" fill-opacity="0.88" filter="url(#bl)"/>
<rect x="454" y="81.6" width="22.2" height="11" rx="4" fill="#000" fill-opacity="1" filter="url(#bl)"/>
<rect x="483.4" y="83.5" width="24.6" height="11" rx="4" fill="#000" fill-opacity="1" filter="url(#bl)"/>
<rect x="450.6" y="54.8" width="61.2" height="18.8" fill="none" stroke="#111" stroke-width="1.2"/>
<rect x="450.6" y="79.1" width="61.2" height="18.5" fill="none" stroke="#111" stroke-width="1.2"/>
<text x="445" y="67.1" font-size="8" text-anchor="end" textLength="31.4" lengthAdjust="spacingAndGlyphs">SLCO3A1</text>
<text x="446.4" y="90.5" font-size="8" text-anchor="end" textLength="24.6" lengthAdjust="spacingAndGlyphs">Tubulin</text>
<text x="514.9" y="66.7" font-size="8" textLength="22.9" lengthAdjust="spacingAndGlyphs">76 kDa</text>
<text x="514.9" y="91.2" font-size="8" textLength="22.9" lengthAdjust="spacingAndGlyphs">50 kDa</text>
<text x="9.3" y="134.9" font-size="17.5">E</text>
<text x="47.6" y="137.6" font-size="7.6" text-anchor="middle" fill="#1e86e6" style="stroke:#1e86e6" textLength="25.3" lengthAdjust="spacingAndGlyphs">Hoechst</text>
<text x="114" y="137.6" font-size="7.6" text-anchor="middle" fill="#ff2222" style="stroke:#ff2222" textLength="14.3" lengthAdjust="spacingAndGlyphs">EdU</text>
<text x="176.7" y="138" font-size="7.6" text-anchor="middle" textLength="20" lengthAdjust="spacingAndGlyphs">Merge</text>
<rect x="12.7" y="143.4" width="63.4" height="63.4" fill="#000"/>
<rect x="12.7" y="143.4" width="63.4" height="63.4" fill="url(#h1)"/>
<line x1="62.1" y1="196.8" x2="69.1" y2="196.8" stroke="#999" stroke-width="0.6"/>
<rect x="78.6" y="143.4" width="63.1" height="63.4" fill="#000"/>
<rect x="78.6" y="143.4" width="63.1" height="63.4" fill="url(#e1)"/>
<line x1="127.7" y1="196.8" x2="134.7" y2="196.8" stroke="#999" stroke-width="0.6"/>
<rect x="144.1" y="143.4" width="63.7" height="63.4" fill="#000"/>
<rect x="144.1" y="143.4" width="63.7" height="63.4" fill="url(#m1)"/>
<line x1="193.8" y1="196.8" x2="200.8" y2="196.8" stroke="#999" stroke-width="0.6"/>
<rect x="12.7" y="210" width="63.4" height="63.4" fill="#000"/>
<rect x="12.7" y="210" width="63.4" height="63.4" fill="url(#h2)"/>
<line x1="62.1" y1="263.4" x2="69.1" y2="263.4" stroke="#999" stroke-width="0.6"/>
<rect x="78.6" y="210" width="63.1" height="63.4" fill="#000"/>
<rect x="78.6" y="210" width="63.1" height="63.4" fill="url(#e2)"/>
<line x1="127.7" y1="263.4" x2="134.7" y2="263.4" stroke="#999" stroke-width="0.6"/>
<rect x="144.1" y="210" width="63.7" height="63.4" fill="#000"/>
<rect x="144.1" y="210" width="63.7" height="63.4" fill="url(#m2)"/>
<line x1="193.8" y1="263.4" x2="200.8" y2="263.4" stroke="#999" stroke-width="0.6"/>
<text x="11.2" y="177" font-size="7.2" text-anchor="middle" transform="rotate(-90 11.2 177)" textLength="23" lengthAdjust="spacingAndGlyphs">OE-NC</text>
<text x="10.2" y="243" font-size="7.2" text-anchor="middle" transform="rotate(-90 10.2 243)" textLength="46" lengthAdjust="spacingAndGlyphs">OE-SLCO3A1</text>
<line x1="227.5" y1="158.9" x2="227.5" y2="233.9" stroke="#000" stroke-width="1"/>
<line x1="224.9" y1="233.9" x2="227.7" y2="233.9" stroke="#000" stroke-width="0.9"/>
<text x="223.7" y="235.68" font-size="5.4" text-anchor="end" textLength="2.4" lengthAdjust="spacingAndGlyphs">0</text>
<line x1="224.9" y1="215.15" x2="227.7" y2="215.15" stroke="#000" stroke-width="0.9"/>
<text x="223.7" y="216.93" font-size="5.4" text-anchor="end" textLength="4.8" lengthAdjust="spacingAndGlyphs">10</text>
<line x1="224.9" y1="196.4" x2="227.7" y2="196.4" stroke="#000" stroke-width="0.9"/>
<text x="223.7" y="198.18" font-size="5.4" text-anchor="end" textLength="4.8" lengthAdjust="spacingAndGlyphs">20</text>
<line x1="224.9" y1="177.65" x2="227.7" y2="177.65" stroke="#000" stroke-width="0.9"/>
<text x="223.7" y="179.43" font-size="5.4" text-anchor="end" textLength="4.8" lengthAdjust="spacingAndGlyphs">30</text>
<line x1="224.9" y1="158.9" x2="227.7" y2="158.9" stroke="#000" stroke-width="0.9"/>
<text x="223.7" y="160.68" font-size="5.4" text-anchor="end" textLength="4.8" lengthAdjust="spacingAndGlyphs">40</text>
<text x="216.4" y="195" font-size="6.5" text-anchor="middle" transform="rotate(-90 216.4 195)" textLength="74" lengthAdjust="spacingAndGlyphs">Cell proliferation rate(%)</text>
<line x1="224" y1="233.5" x2="272.5" y2="233.5" stroke="#000" stroke-width="1"/>
<line x1="238.7" y1="233.9" x2="238.7" y2="235.9" stroke="#000" stroke-width="0.9"/>
<line x1="256.9" y1="233.9" x2="256.9" y2="235.9" stroke="#000" stroke-width="0.9"/>
<rect x="231.1" y="206.6" width="14.9" height="27.3" fill="#000"/>
<line x1="238.55" y1="206.6" x2="238.55" y2="200.9" stroke="#000" stroke-width="0.8"/>
<line x1="235.42" y1="200.9" x2="241.68" y2="200.9" stroke="#000" stroke-width="0.8"/>
<rect x="249.5" y="179.3" width="15.3" height="54.6" fill="#b953d9"/>
<line x1="257.15" y1="179.3" x2="257.15" y2="177.1" stroke="#b953d9" stroke-width="0.8"/>
<line x1="253.94" y1="177.1" x2="260.36" y2="177.1" stroke="#b953d9" stroke-width="0.8"/>
<line x1="240" y1="171.9" x2="257.4" y2="171.9" stroke="#000" stroke-width="1.3"/>
<text x="248.9" y="171.02" font-size="8" text-anchor="middle" textLength="8.08" lengthAdjust="spacingAndGlyphs">**</text>
<text x="240.6" y="244.5" font-size="6.8" text-anchor="end" transform="rotate(-47 240.6 244.5)" textLength="16.5" lengthAdjust="spacingAndGlyphs">OE-NC</text>
<text x="258.6" y="244.5" font-size="6.8" text-anchor="end" transform="rotate(-46 258.6 244.5)" textLength="33.5" lengthAdjust="spacingAndGlyphs">OE-SLCO3A1</text>
<text x="267.4" y="134.8" font-size="17.5">F</text>
<text x="315.1" y="137.6" font-size="7.6" text-anchor="middle" fill="#1e86e6" style="stroke:#1e86e6" textLength="25.6" lengthAdjust="spacingAndGlyphs">Hoechst</text>
<text x="383.9" y="137.6" font-size="7.6" text-anchor="middle" fill="#ff2222" style="stroke:#ff2222" textLength="14" lengthAdjust="spacingAndGlyphs">EdU</text>
<text x="447.7" y="138" font-size="7.6" text-anchor="middle" textLength="20.8" lengthAdjust="spacingAndGlyphs">Merge</text>
<rect x="284.2" y="143.4" width="63.7" height="63" fill="#000"/>
<rect x="284.2" y="143.4" width="63.7" height="63" fill="url(#h3)"/>
<line x1="333.9" y1="196.4" x2="340.9" y2="196.4" stroke="#999" stroke-width="0.6"/>
<rect x="350.2" y="143.4" width="63.7" height="63" fill="#000"/>
<rect x="350.2" y="143.4" width="63.7" height="63" fill="url(#e3)"/>
<line x1="399.9" y1="196.4" x2="406.9" y2="196.4" stroke="#999" stroke-width="0.6"/>
<rect x="415.9" y="143.4" width="64" height="63" fill="#000"/>
<rect x="415.9" y="143.4" width="64" height="63" fill="url(#m3)"/>
<line x1="465.9" y1="196.4" x2="472.9" y2="196.4" stroke="#999" stroke-width="0.6"/>
<rect x="284.2" y="210.5" width="63.7" height="63.3" fill="#000"/>
<rect x="284.2" y="210.5" width="63.7" height="63.3" fill="url(#h4)"/>
<line x1="333.9" y1="263.8" x2="340.9" y2="263.8" stroke="#999" stroke-width="0.6"/>
<rect x="350.2" y="210.5" width="63.7" height="63.3" fill="#000"/>
<rect x="350.2" y="210.5" width="63.7" height="63.3" fill="url(#e4)"/>
<line x1="399.9" y1="263.8" x2="406.9" y2="263.8" stroke="#999" stroke-width="0.6"/>
<rect x="415.9" y="210.5" width="64" height="63.3" fill="#000"/>
<rect x="415.9" y="210.5" width="64" height="63.3" fill="url(#m4)"/>
<line x1="465.9" y1="263.8" x2="472.9" y2="263.8" stroke="#999" stroke-width="0.6"/>
<text x="281.3" y="176" font-size="7.2" text-anchor="middle" transform="rotate(-90 281.3 176)" textLength="23.5" lengthAdjust="spacingAndGlyphs">KD-NC</text>
<text x="281" y="242.5" font-size="7.2" text-anchor="middle" transform="rotate(-90 281 242.5)" textLength="46" lengthAdjust="spacingAndGlyphs">KD-SLCO3A1</text>
<line x1="500.5" y1="165.3" x2="500.5" y2="237.9" stroke="#000" stroke-width="1"/>
<line x1="497.7" y1="237.9" x2="500.5" y2="237.9" stroke="#000" stroke-width="0.9"/>
<text x="496.5" y="239.62" font-size="5.2" text-anchor="end" textLength="2.3" lengthAdjust="spacingAndGlyphs">0</text>
<line x1="497.7" y1="213.7" x2="500.5" y2="213.7" stroke="#000" stroke-width="0.9"/>
<text x="496.5" y="215.42" font-size="5.2" text-anchor="end" textLength="4.6" lengthAdjust="spacingAndGlyphs">10</text>
<line x1="497.7" y1="189.5" x2="500.5" y2="189.5" stroke="#000" stroke-width="0.9"/>
<text x="496.5" y="191.22" font-size="5.2" text-anchor="end" textLength="4.6" lengthAdjust="spacingAndGlyphs">20</text>
<line x1="497.7" y1="165.3" x2="500.5" y2="165.3" stroke="#000" stroke-width="0.9"/>
<text x="496.5" y="167.02" font-size="5.2" text-anchor="end" textLength="4.6" lengthAdjust="spacingAndGlyphs">30</text>
<text x="488.6" y="203" font-size="6.5" text-anchor="middle" transform="rotate(-90 488.6 203)" textLength="72" lengthAdjust="spacingAndGlyphs">Cell proliferation rate(%)</text>
<line x1="497.4" y1="237.5" x2="546" y2="237.5" stroke="#000" stroke-width="1"/>
<line x1="511.4" y1="237.9" x2="511.4" y2="239.9" stroke="#000" stroke-width="0.9"/>
<line x1="530.1" y1="237.9" x2="530.1" y2="239.9" stroke="#000" stroke-width="0.9"/>
<rect x="503.9" y="168.3" width="15.2" height="69.6" fill="#0a14ff"/>
<line x1="511.5" y1="168.3" x2="511.5" y2="166.4" stroke="#0a14ff" stroke-width="0.8"/>
<line x1="508.31" y1="166.4" x2="514.69" y2="166.4" stroke="#0a14ff" stroke-width="0.8"/>
<rect x="522.3" y="189.3" width="15.5" height="48.6" fill="#ff8000"/>
<line x1="530.05" y1="189.3" x2="530.05" y2="188.8" stroke="#ff8000" stroke-width="0.8"/>
<line x1="526.79" y1="188.8" x2="533.3" y2="188.8" stroke="#ff8000" stroke-width="0.8"/>
<line x1="511.8" y1="161.5" x2="530.1" y2="161.5" stroke="#000" stroke-width="1.3"/>
<text x="521" y="160.82" font-size="8" text-anchor="middle" textLength="12.88" lengthAdjust="spacingAndGlyphs">***</text>
<text x="513.5" y="247.5" font-size="6.8" text-anchor="end" transform="rotate(-47 513.5 247.5)" textLength="16.5" lengthAdjust="spacingAndGlyphs">KD-NC</text>
<text x="531.8" y="247.5" font-size="6.8" text-anchor="end" transform="rotate(-46 531.8 247.5)" textLength="33.5" lengthAdjust="spacingAndGlyphs">KD-SLCO3A1</text>
<text x="7.9" y="296.6" font-size="17.5">G</text>
<rect x="46.1" y="299.5" width="9.8" height="3.7" fill="#000"/>
<text x="60.7" y="303.9" font-size="7.6" class="n" textLength="22" lengthAdjust="spacingAndGlyphs">OE-NC</text>
<rect x="90.9" y="299.3" width="9.3" height="3.7" fill="#b953d9"/>
<text x="105.9" y="303.9" font-size="7.6" class="n" textLength="44.5" lengthAdjust="spacingAndGlyphs">OE-SLCO3A1</text>
<line x1="39.5" y1="315.7" x2="39.5" y2="391.9" stroke="#000" stroke-width="1"/>
<line x1="36.7" y1="391.9" x2="39.5" y2="391.9" stroke="#000" stroke-width="0.9"/>
<text x="35.5" y="393.68" font-size="5.4" text-anchor="end" textLength="2.5" lengthAdjust="spacingAndGlyphs">0</text>
<line x1="36.7" y1="372.85" x2="39.5" y2="372.85" stroke="#000" stroke-width="0.9"/>
<text x="35.5" y="374.63" font-size="5.4" text-anchor="end" textLength="2.5" lengthAdjust="spacingAndGlyphs">2</text>
<line x1="36.7" y1="353.8" x2="39.5" y2="353.8" stroke="#000" stroke-width="0.9"/>
<text x="35.5" y="355.58" font-size="5.4" text-anchor="end" textLength="2.5" lengthAdjust="spacingAndGlyphs">4</text>
<line x1="36.7" y1="334.75" x2="39.5" y2="334.75" stroke="#000" stroke-width="0.9"/>
<text x="35.5" y="336.53" font-size="5.4" text-anchor="end" textLength="2.5" lengthAdjust="spacingAndGlyphs">6</text>
<line x1="36.7" y1="315.7" x2="39.5" y2="315.7" stroke="#000" stroke-width="0.9"/>
<text x="35.5" y="317.48" font-size="5.4" text-anchor="end" textLength="2.5" lengthAdjust="spacingAndGlyphs">8</text>
<text x="27.3" y="353.6" font-size="7.6" text-anchor="middle" transform="rotate(-90 27.3 353.6)" textLength="58" lengthAdjust="spacingAndGlyphs">Relative mRNA levels</text>
<line x1="39.5" y1="391.5" x2="131.9" y2="391.5" stroke="#000" stroke-width="1"/>
<line x1="48" y1="391.9" x2="48" y2="393.9" stroke="#000" stroke-width="0.9"/>
<line x1="66.1" y1="391.9" x2="66.1" y2="393.9" stroke="#000" stroke-width="0.9"/>
<line x1="84.3" y1="391.9" x2="84.3" y2="393.9" stroke="#000" stroke-width="0.9"/>
<line x1="102.1" y1="391.9" x2="102.1" y2="393.9" stroke="#000" stroke-width="0.9"/>
<line x1="120" y1="391.9" x2="120" y2="393.9" stroke="#000" stroke-width="0.9"/>
<rect x="41.3" y="382.4" width="6.4" height="9.5" fill="#000"/>
<line x1="44.5" y1="382.4" x2="44.5" y2="380.8" stroke="#000" stroke-width="0.8"/>
<line x1="43.16" y1="380.8" x2="45.84" y2="380.8" stroke="#000" stroke-width="0.8"/>
<rect x="49.1" y="327.7" width="6.8" height="64.2" fill="#b953d9"/>
<line x1="52.5" y1="327.7" x2="52.5" y2="325" stroke="#b953d9" stroke-width="0.8"/>
<line x1="51.07" y1="325" x2="53.93" y2="325" stroke="#b953d9" stroke-width="0.8"/>
<rect x="58.9" y="382.4" width="6.8" height="9.5" fill="#000"/>
<line x1="62.3" y1="382.4" x2="62.3" y2="381" stroke="#000" stroke-width="0.8"/>
<line x1="60.87" y1="381" x2="63.73" y2="381" stroke="#000" stroke-width="0.8"/>
<rect x="67.1" y="371.1" width="6.8" height="20.8" fill="#b953d9"/>
<line x1="70.5" y1="371.1" x2="70.5" y2="367.5" stroke="#b953d9" stroke-width="0.8"/>
<line x1="69.07" y1="367.5" x2="71.93" y2="367.5" stroke="#b953d9" stroke-width="0.8"/>
<rect x="77.1" y="382.5" width="6.8" height="9.4" fill="#000"/>
<line x1="80.5" y1="382.5" x2="80.5" y2="381.5" stroke="#000" stroke-width="0.8"/>
<line x1="79.07" y1="381.5" x2="81.93" y2="381.5" stroke="#000" stroke-width="0.8"/>
<rect x="85.1" y="375.5" width="6.8" height="16.4" fill="#b953d9"/>
<line x1="88.5" y1="375.5" x2="88.5" y2="375" stroke="#b953d9" stroke-width="0.8"/>
<line x1="87.07" y1="375" x2="89.93" y2="375" stroke="#b953d9" stroke-width="0.8"/>
<rect x="95.1" y="382.1" width="6.7" height="9.8" fill="#000"/>
<line x1="98.45" y1="382.1" x2="98.45" y2="379.2" stroke="#000" stroke-width="0.8"/>
<line x1="97.04" y1="379.2" x2="99.86" y2="379.2" stroke="#000" stroke-width="0.8"/>
<rect x="103.1" y="370.5" width="6.7" height="21.4" fill="#b953d9"/>
<line x1="106.45" y1="370.5" x2="106.45" y2="370" stroke="#b953d9" stroke-width="0.8"/>
<line x1="105.04" y1="370" x2="107.86" y2="370" stroke="#b953d9" stroke-width="0.8"/>
<rect x="113" y="383" width="7" height="8.9" fill="#000"/>
<line x1="116.5" y1="383" x2="116.5" y2="381" stroke="#000" stroke-width="0.8"/>
<line x1="115.03" y1="381" x2="117.97" y2="381" stroke="#000" stroke-width="0.8"/>
<rect x="121" y="377.7" width="6.8" height="14.2" fill="#b953d9"/>
<line x1="124.4" y1="377.7" x2="124.4" y2="377" stroke="#b953d9" stroke-width="0.8"/>
<line x1="122.97" y1="377" x2="125.83" y2="377" stroke="#b953d9" stroke-width="0.8"/>
<line x1="45.7" y1="320.6" x2="54.1" y2="320.6" stroke="#000" stroke-width="1.3"/>
<text x="50.5" y="320.02" font-size="8" text-anchor="middle" textLength="12.88" lengthAdjust="spacingAndGlyphs">***</text>
<line x1="63.5" y1="363.9" x2="71.5" y2="363.9" stroke="#000" stroke-width="1.3"/>
<text x="68" y="363.12" font-size="8" text-anchor="middle" textLength="8.08" lengthAdjust="spacingAndGlyphs">**</text>
<line x1="81.3" y1="370.9" x2="89.4" y2="370.9" stroke="#000" stroke-width="1.3"/>
<text x="85.4" y="370.12" font-size="8" text-anchor="middle" textLength="12.88" lengthAdjust="spacingAndGlyphs">***</text>
<line x1="99.9" y1="364.6" x2="107.2" y2="364.6" stroke="#000" stroke-width="1.3"/>
<text x="103.5" y="363.82" font-size="8" text-anchor="middle" textLength="8.08" lengthAdjust="spacingAndGlyphs">**</text>
<line x1="117.4" y1="373.4" x2="124.6" y2="373.4" stroke="#000" stroke-width="1.3"/>
<text x="121" y="372.32" font-size="8" text-anchor="middle" textLength="8.08" lengthAdjust="spacingAndGlyphs">**</text>
<text x="50.6" y="400.2" font-size="6.8" text-anchor="end" transform="rotate(-45 50.6 400.2)">PCNA</text>
<text x="68.7" y="400.2" font-size="6.8" text-anchor="end" transform="rotate(-45 68.7 400.2)">BCL-2</text>
<text x="86.9" y="400.2" font-size="6.8" text-anchor="end" transform="rotate(-45 86.9 400.2)">IKBA</text>
<text x="104.7" y="400.2" font-size="6.8" text-anchor="end" transform="rotate(-45 104.7 400.2)">STAR</text>
<text x="122.6" y="400.2" font-size="6.8" text-anchor="end" transform="rotate(-45 122.6 400.2)">MCL1</text>
<text x="158.3" y="296.9" font-size="17.5">H</text>
<text x="194.2" y="320.1" font-size="7.2" text-anchor="end" transform="rotate(36 194.2 320.1)">OE-NC</text>
<text x="222" y="320.9" font-size="7.2" text-anchor="end" transform="rotate(40 222 320.9)">OE-SLCO3A1</text>
<rect x="177.9" y="322.9" width="57.9" height="14.8" fill="#e4e4e4"/>
<rect x="177.9" y="322.9" width="57.9" height="14.8" fill="url(#vv)"/>
<rect x="177.9" y="322.9" width="57.9" height="14.8" fill="url(#vh)"/>
<rect x="177.9" y="341.6" width="57.9" height="15" fill="#e4e4e4"/>
<rect x="177.9" y="341.6" width="57.9" height="15" fill="url(#vv)"/>
<rect x="177.9" y="341.6" width="57.9" height="15" fill="url(#vh)"/>
<rect x="177.9" y="361.1" width="57.9" height="14.8" fill="#e4e4e4"/>
<rect x="177.9" y="361.1" width="57.9" height="14.8" fill="url(#vv)"/>
<rect x="177.9" y="361.1" width="57.9" height="14.8" fill="url(#vh)"/>
<rect x="177.9" y="380.1" width="57.9" height="14.8" fill="#e4e4e4"/>
<rect x="177.9" y="380.1" width="57.9" height="14.8" fill="url(#vv)"/>
<rect x="177.9" y="380.1" width="57.9" height="14.8" fill="url(#vh)"/>
<rect x="180.5" y="327.45" width="23" height="6.5" rx="3.25" fill="#000" fill-opacity="0.92" filter="url(#bl)"/>
<rect x="212" y="328.7" width="22" height="8" rx="4" fill="#000" fill-opacity="1" filter="url(#bl)"/>
<rect x="180.5" y="344.55" width="23" height="9.5" rx="4" fill="#000" fill-opacity="0.93" filter="url(#bl)"/>
<rect x="210" y="343.45" width="22.5" height="10.5" rx="4" fill="#000" fill-opacity="1" filter="url(#bl)"/>
<rect x="182.5" y="368.5" width="21" height="5" rx="2.5" fill="#000" fill-opacity="0.55" filter="url(#bl)"/>
<rect x="214" y="366.6" width="19" height="4.8" rx="2.4" fill="#000" fill-opacity="0.9" filter="url(#bl)"/>
<rect x="180.5" y="386.85" width="23" height="5.5" rx="2.75" fill="#000" fill-opacity="0.8" filter="url(#bl)"/>
<rect x="211" y="385.15" width="22" height="5.5" rx="2.75" fill="#000" fill-opacity="0.78" filter="url(#bl)"/>
<rect x="177.9" y="322.9" width="57.9" height="14.8" fill="none" stroke="#111" stroke-width="1.2"/>
<rect x="177.9" y="341.6" width="57.9" height="15" fill="none" stroke="#111" stroke-width="1.2"/>
<rect x="177.9" y="361.1" width="57.9" height="14.8" fill="none" stroke="#111" stroke-width="1.2"/>
<rect x="177.9" y="380.1" width="57.9" height="14.8" fill="none" stroke="#111" stroke-width="1.2"/>
<text x="174.3" y="334.5" font-size="8" text-anchor="end" textLength="20.6" lengthAdjust="spacingAndGlyphs">MCL1</text>
<text x="174.3" y="352.7" font-size="8" text-anchor="end" textLength="20.3" lengthAdjust="spacingAndGlyphs">PCNA</text>
<text x="174.3" y="371.8" font-size="8" text-anchor="end" textLength="19.3" lengthAdjust="spacingAndGlyphs">STAR</text>
<text x="174.3" y="392.4" font-size="8" text-anchor="end" textLength="24.1" lengthAdjust="spacingAndGlyphs">Tubulin</text>
<text x="240" y="335" font-size="8" textLength="22.4" lengthAdjust="spacingAndGlyphs">37 kDa</text>
<text x="240" y="352.6" font-size="8" textLength="22.4" lengthAdjust="spacingAndGlyphs">36 kDa</text>
<text x="240" y="372.1" font-size="8" textLength="22.4" lengthAdjust="spacingAndGlyphs">32 kDa</text>
<text x="240" y="392.1" font-size="8" textLength="22.4" lengthAdjust="spacingAndGlyphs">50 kDa</text>
<text x="268" y="296.4" font-size="17.5">I</text>
<rect x="308.9" y="299.5" width="8.8" height="3.7" fill="#0a14ff"/>
<text x="323.2" y="304" font-size="7.6" class="n" textLength="21.3" lengthAdjust="spacingAndGlyphs">KD-NC</text>
<rect x="358" y="299.5" width="8.7" height="3.6" fill="#ff8000"/>
<text x="372.5" y="304" font-size="7.6" class="n" textLength="41" lengthAdjust="spacingAndGlyphs">KD-SLCO3A1</text>
<line x1="310.5" y1="314.5" x2="310.5" y2="350.6" stroke="#000" stroke-width="1"/>
<line x1="310.5" y1="356.6" x2="310.5" y2="392.1" stroke="#000" stroke-width="1"/>
<line x1="308.2" y1="352.9" x2="311.8" y2="349.9" stroke="#000" stroke-width="0.9"/>
<line x1="308.2" y1="357.4" x2="311.8" y2="354.4" stroke="#000" stroke-width="0.9"/>
<line x1="307.8" y1="315.2" x2="310.6" y2="315.2" stroke="#000" stroke-width="0.9"/>
<text x="306.6" y="317.11" font-size="5.8" text-anchor="end" textLength="10.3" lengthAdjust="spacingAndGlyphs">1.55</text>
<line x1="307.8" y1="327" x2="310.6" y2="327" stroke="#000" stroke-width="0.9"/>
<text x="306.6" y="328.91" font-size="5.8" text-anchor="end" textLength="10.3" lengthAdjust="spacingAndGlyphs">1.05</text>
<line x1="307.8" y1="338.6" x2="310.6" y2="338.6" stroke="#000" stroke-width="0.9"/>
<text x="306.6" y="340.51" font-size="5.8" text-anchor="end" textLength="10.3" lengthAdjust="spacingAndGlyphs">0.55</text>
<line x1="307.8" y1="350.4" x2="310.6" y2="350.4" stroke="#000" stroke-width="0.9"/>
<text x="306.6" y="352.31" font-size="5.8" text-anchor="end" textLength="10.3" lengthAdjust="spacingAndGlyphs">0.05</text>
<line x1="307.8" y1="356.6" x2="310.6" y2="356.6" stroke="#000" stroke-width="0.9"/>
<text x="306.6" y="358.51" font-size="5.8" text-anchor="end" textLength="13.3" lengthAdjust="spacingAndGlyphs">0.020</text>
<line x1="307.8" y1="365.5" x2="310.6" y2="365.5" stroke="#000" stroke-width="0.9"/>
<text x="306.6" y="367.41" font-size="5.8" text-anchor="end" textLength="13.3" lengthAdjust="spacingAndGlyphs">0.015</text>
<line x1="307.8" y1="374.3" x2="310.6" y2="374.3" stroke="#000" stroke-width="0.9"/>
<text x="306.6" y="376.21" font-size="5.8" text-anchor="end" textLength="13.3" lengthAdjust="spacingAndGlyphs">0.010</text>
<line x1="307.8" y1="383.2" x2="310.6" y2="383.2" stroke="#000" stroke-width="0.9"/>
<text x="306.6" y="385.11" font-size="5.8" text-anchor="end" textLength="13.3" lengthAdjust="spacingAndGlyphs">0.005</text>
<line x1="307.8" y1="392.1" x2="310.6" y2="392.1" stroke="#000" stroke-width="0.9"/>
<text x="306.6" y="394.01" font-size="5.8" text-anchor="end" textLength="13.3" lengthAdjust="spacingAndGlyphs">0.000</text>
<text x="287" y="354.5" font-size="7" text-anchor="middle" transform="rotate(-90 287 354.5)" textLength="58" lengthAdjust="spacingAndGlyphs">Relative mRNA levels</text>
<line x1="310.6" y1="392.5" x2="399.7" y2="392.5" stroke="#000" stroke-width="1"/>
<line x1="319.1" y1="392.1" x2="319.1" y2="394.1" stroke="#000" stroke-width="0.9"/>
<line x1="336.5" y1="392.1" x2="336.5" y2="394.1" stroke="#000" stroke-width="0.9"/>
<line x1="353.9" y1="392.1" x2="353.9" y2="394.1" stroke="#000" stroke-width="0.9"/>
<line x1="371.4" y1="392.1" x2="371.4" y2="394.1" stroke="#000" stroke-width="0.9"/>
<line x1="389.1" y1="392.1" x2="389.1" y2="394.1" stroke="#000" stroke-width="0.9"/>
<rect x="311.6" y="327" width="6.8" height="23.6" fill="#0a14ff"/>
<line x1="315" y1="327" x2="315" y2="317.1" stroke="#5a6cff" stroke-width="0.8"/>
<line x1="313.57" y1="317.1" x2="316.43" y2="317.1" stroke="#5a6cff" stroke-width="0.8"/>
<rect x="311.6" y="356.6" width="6.8" height="35.5" fill="#0a14ff"/>
<rect x="329.3" y="328" width="6.6" height="22.6" fill="#0a14ff"/>
<line x1="332.6" y1="328" x2="332.6" y2="327.6" stroke="#5a6cff" stroke-width="0.8"/>
<line x1="331.21" y1="327.6" x2="333.99" y2="327.6" stroke="#5a6cff" stroke-width="0.8"/>
<rect x="329.3" y="356.6" width="6.6" height="35.5" fill="#0a14ff"/>
<rect x="347.1" y="328.1" width="6.5" height="22.5" fill="#0a14ff"/>
<line x1="350.35" y1="328.1" x2="350.35" y2="325.2" stroke="#5a6cff" stroke-width="0.8"/>
<line x1="348.99" y1="325.2" x2="351.72" y2="325.2" stroke="#5a6cff" stroke-width="0.8"/>
<rect x="347.1" y="356.6" width="6.5" height="35.5" fill="#0a14ff"/>
<rect x="364.5" y="328.1" width="6.6" height="22.5" fill="#0a14ff"/>
<line x1="367.8" y1="328.1" x2="367.8" y2="327.6" stroke="#5a6cff" stroke-width="0.8"/>
<line x1="366.41" y1="327.6" x2="369.19" y2="327.6" stroke="#5a6cff" stroke-width="0.8"/>
<rect x="364.5" y="356.6" width="6.6" height="35.5" fill="#0a14ff"/>
<rect x="382.3" y="328.1" width="6.5" height="22.5" fill="#0a14ff"/>
<line x1="385.55" y1="328.1" x2="385.55" y2="320.5" stroke="#5a6cff" stroke-width="0.8"/>
<line x1="384.19" y1="320.5" x2="386.92" y2="320.5" stroke="#5a6cff" stroke-width="0.8"/>
<rect x="382.3" y="356.6" width="6.5" height="35.5" fill="#0a14ff"/>
<rect x="319.8" y="349.3" width="6.4" height="1.3" fill="#ff8000"/>
<line x1="323" y1="349.3" x2="323" y2="347.8" stroke="#ff8000" stroke-width="0.8"/>
<line x1="321.66" y1="347.8" x2="324.34" y2="347.8" stroke="#ff8000" stroke-width="0.8"/>
<rect x="319.8" y="356.6" width="6.4" height="35.5" fill="#ff8000"/>
<rect x="337.1" y="372.7" width="6.5" height="19.4" fill="#ff8000"/>
<line x1="340.35" y1="372.7" x2="340.35" y2="371.4" stroke="#ff8000" stroke-width="0.8"/>
<line x1="338.99" y1="371.4" x2="341.72" y2="371.4" stroke="#ff8000" stroke-width="0.8"/>
<rect x="355.1" y="343.8" width="6.1" height="6.8" fill="#ff8000"/>
<line x1="358.15" y1="343.8" x2="358.15" y2="343.4" stroke="#ff8000" stroke-width="0.8"/>
<line x1="356.87" y1="343.4" x2="359.43" y2="343.4" stroke="#ff8000" stroke-width="0.8"/>
<rect x="355.1" y="356.6" width="6.1" height="35.5" fill="#ff8000"/>
<rect x="372.5" y="383.5" width="6.1" height="8.6" fill="#ff8000"/>
<line x1="375.55" y1="383.5" x2="375.55" y2="379.2" stroke="#ff8000" stroke-width="0.8"/>
<line x1="374.27" y1="379.2" x2="376.83" y2="379.2" stroke="#ff8000" stroke-width="0.8"/>
<rect x="390" y="343.1" width="6.4" height="7.5" fill="#ff8000"/>
<line x1="393.2" y1="343.1" x2="393.2" y2="342.7" stroke="#ff8000" stroke-width="0.8"/>
<line x1="391.86" y1="342.7" x2="394.54" y2="342.7" stroke="#ff8000" stroke-width="0.8"/>
<rect x="390" y="356.6" width="6.4" height="35.5" fill="#ff8000"/>
<line x1="313.9" y1="314.1" x2="322.9" y2="314.1" stroke="#000" stroke-width="1.3"/>
<text x="318.4" y="313.22" font-size="8" text-anchor="middle">*</text>
<line x1="332" y1="323.9" x2="340.2" y2="323.9" stroke="#000" stroke-width="1.3"/>
<text x="336" y="323.32" font-size="8" text-anchor="middle" textLength="12.48" lengthAdjust="spacingAndGlyphs">***</text>
<line x1="349.5" y1="322.7" x2="358" y2="322.7" stroke="#000" stroke-width="1.3"/>
<text x="353.8" y="321.62" font-size="8" text-anchor="middle" textLength="12.48" lengthAdjust="spacingAndGlyphs">***</text>
<line x1="367.3" y1="324.6" x2="375.4" y2="324.6" stroke="#000" stroke-width="1.3"/>
<text x="371.4" y="323.82" font-size="8" text-anchor="middle" textLength="12.48" lengthAdjust="spacingAndGlyphs">***</text>
<line x1="385.2" y1="317.3" x2="392.5" y2="317.3" stroke="#000" stroke-width="1.3"/>
<text x="389" y="316.42" font-size="8" text-anchor="middle" textLength="12.48" lengthAdjust="spacingAndGlyphs">***</text>
<text x="321.3" y="399.6" font-size="6.5" text-anchor="end" transform="rotate(-45 321.3 399.6)">PCNA</text>
<text x="338.7" y="399.6" font-size="6.5" text-anchor="end" transform="rotate(-45 338.7 399.6)">BCL-2</text>
<text x="356.1" y="399.6" font-size="6.5" text-anchor="end" transform="rotate(-45 356.1 399.6)">IKBA</text>
<text x="373.6" y="399.6" font-size="6.5" text-anchor="end" transform="rotate(-45 373.6 399.6)">STAR</text>
<text x="391.3" y="399.6" font-size="6.5" text-anchor="end" transform="rotate(-45 391.3 399.6)">MCL</text>
<text x="417" y="296.9" font-size="17.5">J</text>
<text x="455" y="319.5" font-size="7.2" text-anchor="end" transform="rotate(33 455 319.5)">KD-NC</text>
<text x="482.5" y="320" font-size="7.2" text-anchor="end" transform="rotate(34 482.5 320)">KD-SLCO3A1</text>
<rect x="437.9" y="325" width="57.9" height="15.1" fill="#e2e2e2"/>
<rect x="437.9" y="325" width="57.9" height="15.1" fill="url(#vv)"/>
<rect x="437.9" y="325" width="57.9" height="15.1" fill="url(#vh)"/>
<rect x="437.9" y="345" width="57.9" height="14.8" fill="#e2e2e2"/>
<rect x="437.9" y="345" width="57.9" height="14.8" fill="url(#vv)"/>
<rect x="437.9" y="345" width="57.9" height="14.8" fill="url(#vh)"/>
<rect x="437.9" y="365" width="57.9" height="14.8" fill="#e2e2e2"/>
<rect x="437.9" y="365" width="57.9" height="14.8" fill="url(#vv)"/>
<rect x="437.9" y="365" width="57.9" height="14.8" fill="url(#vh)"/>
<rect x="437.9" y="385.9" width="57.9" height="15.5" fill="#e2e2e2"/>
<rect x="437.9" y="385.9" width="57.9" height="15.5" fill="url(#vv)"/>
<rect x="437.9" y="385.9" width="57.9" height="15.5" fill="url(#vh)"/>
<rect x="440.3" y="328.5" width="22.2" height="9" rx="4" fill="#000" fill-opacity="1" filter="url(#bl)"/>
<rect x="472" y="332" width="22" height="6" rx="3" fill="#000" fill-opacity="0.95" filter="url(#bl)"/>
<rect x="440.3" y="346.9" width="23.2" height="11" rx="4" fill="#000" fill-opacity="1" filter="url(#bl)"/>
<rect x="470.5" y="348" width="23.5" height="10" rx="4" fill="#000" fill-opacity="1" filter="url(#bl)"/>
<rect x="445.6" y="370.8" width="16.9" height="3.6" rx="1.8" fill="#000" fill-opacity="1" filter="url(#bl)"/>
<rect x="472.5" y="368.45" width="17.5" height="4.5" rx="2.25" fill="#000" fill-opacity="0.28" filter="url(#bl)"/>
<rect x="444.5" y="391.3" width="19.5" height="5.8" rx="2.9" fill="#000" fill-opacity="0.78" filter="url(#bl)"/>
<rect x="470.5" y="389.85" width="20" height="5.5" rx="2.75" fill="#000" fill-opacity="0.78" filter="url(#bl)"/>
<rect x="437.9" y="325" width="57.9" height="15.1" fill="none" stroke="#111" stroke-width="1.2"/>
<rect x="437.9" y="345" width="57.9" height="14.8" fill="none" stroke="#111" stroke-width="1.2"/>
<rect x="437.9" y="365" width="57.9" height="14.8" fill="none" stroke="#111" stroke-width="1.2"/>
<rect x="437.9" y="385.9" width="57.9" height="15.5" fill="none" stroke="#111" stroke-width="1.2"/>
<text x="434.2" y="335.7" font-size="8" text-anchor="end" textLength="20.3" lengthAdjust="spacingAndGlyphs">MCL1</text>
<text x="434.2" y="356" font-size="8" text-anchor="end" textLength="19.9" lengthAdjust="spacingAndGlyphs">PCNA</text>
<text x="434.2" y="375.9" font-size="8" text-anchor="end" textLength="19.2" lengthAdjust="spacingAndGlyphs">STAR</text>
<text x="434.2" y="397" font-size="8" text-anchor="end" textLength="24.3" lengthAdjust="spacingAndGlyphs">Tubulin</text>
<text x="500" y="335.3" font-size="8" textLength="22.4" lengthAdjust="spacingAndGlyphs">37 kDa</text>
<text x="500" y="355.6" font-size="8" textLength="22.4" lengthAdjust="spacingAndGlyphs">36 kDa</text>
<text x="500" y="375.3" font-size="8" textLength="22.4" lengthAdjust="spacingAndGlyphs">32 kDa</text>
<text x="500" y="396.8" font-size="8" textLength="22.4" lengthAdjust="spacingAndGlyphs">50 kDa</text>
<text x="6.1" y="439.8" font-size="17.5">K</text>
<rect x="38.9" y="443.9" width="6.8" height="3.7" fill="#000"/>
<text x="49.8" y="447.9" font-size="6" class="n" textLength="17" lengthAdjust="spacingAndGlyphs">OE-NC</text>
<rect x="82.8" y="443.9" width="7.1" height="3.7" fill="#b953d9"/>
<text x="93.5" y="447.9" font-size="6" class="n" textLength="33.7" lengthAdjust="spacingAndGlyphs">OE-SLCO3A1</text>
<line x1="30.5" y1="455.2" x2="30.5" y2="529.4" stroke="#000" stroke-width="1"/>
<line x1="27.2" y1="529.4" x2="30" y2="529.4" stroke="#000" stroke-width="0.9"/>
<text x="26" y="531.05" font-size="5" text-anchor="end" textLength="2.3" lengthAdjust="spacingAndGlyphs">0</text>
<line x1="27.2" y1="510.85" x2="30" y2="510.85" stroke="#000" stroke-width="0.9"/>
<text x="26" y="512.5" font-size="5" text-anchor="end" textLength="2.3" lengthAdjust="spacingAndGlyphs">2</text>
<line x1="27.2" y1="492.3" x2="30" y2="492.3" stroke="#000" stroke-width="0.9"/>
<text x="26" y="493.95" font-size="5" text-anchor="end" textLength="2.3" lengthAdjust="spacingAndGlyphs">4</text>
<line x1="27.2" y1="473.75" x2="30" y2="473.75" stroke="#000" stroke-width="0.9"/>
<text x="26" y="475.4" font-size="5" text-anchor="end" textLength="2.3" lengthAdjust="spacingAndGlyphs">6</text>
<line x1="27.2" y1="455.2" x2="30" y2="455.2" stroke="#000" stroke-width="0.9"/>
<text x="26" y="456.85" font-size="5" text-anchor="end" textLength="2.3" lengthAdjust="spacingAndGlyphs">8</text>
<text x="20.6" y="492.3" font-size="6.2" text-anchor="middle" transform="rotate(-90 20.6 492.3)" textLength="55" lengthAdjust="spacingAndGlyphs">Relative mRNA levels</text>
<line x1="30" y1="529.5" x2="158.8" y2="529.5" stroke="#000" stroke-width="1"/>
<line x1="39" y1="529.4" x2="39" y2="531.4" stroke="#000" stroke-width="0.9"/>
<line x1="57" y1="529.4" x2="57" y2="531.4" stroke="#000" stroke-width="0.9"/>
<line x1="75" y1="529.4" x2="75" y2="531.4" stroke="#000" stroke-width="0.9"/>
<line x1="93" y1="529.4" x2="93" y2="531.4" stroke="#000" stroke-width="0.9"/>
<line x1="111.2" y1="529.4" x2="111.2" y2="531.4" stroke="#000" stroke-width="0.9"/>
<line x1="129.1" y1="529.4" x2="129.1" y2="531.4" stroke="#000" stroke-width="0.9"/>
<line x1="147.2" y1="529.4" x2="147.2" y2="531.4" stroke="#000" stroke-width="0.9"/>
<rect x="32" y="520.2" width="5.9" height="9.2" fill="#000"/>
<line x1="34.95" y1="520.2" x2="34.95" y2="518.3" stroke="#000" stroke-width="0.8"/>
<line x1="33.71" y1="518.3" x2="36.19" y2="518.3" stroke="#000" stroke-width="0.8"/>
<rect x="39.9" y="516.9" width="5.9" height="12.5" fill="#b953d9"/>
<line x1="42.85" y1="516.9" x2="42.85" y2="515.3" stroke="#b953d9" stroke-width="0.8"/>
<line x1="41.61" y1="515.3" x2="44.09" y2="515.3" stroke="#b953d9" stroke-width="0.8"/>
<rect x="49.9" y="520.2" width="6.4" height="9.2" fill="#000"/>
<line x1="53.1" y1="520.2" x2="53.1" y2="519.6" stroke="#000" stroke-width="0.8"/>
<line x1="51.76" y1="519.6" x2="54.44" y2="519.6" stroke="#000" stroke-width="0.8"/>
<rect x="58" y="512" width="6" height="17.4" fill="#b953d9"/>
<line x1="61" y1="512" x2="61" y2="510.5" stroke="#b953d9" stroke-width="0.8"/>
<line x1="59.74" y1="510.5" x2="62.26" y2="510.5" stroke="#b953d9" stroke-width="0.8"/>
<rect x="67.9" y="520.2" width="6.1" height="9.2" fill="#000"/>
<line x1="70.95" y1="520.2" x2="70.95" y2="519.7" stroke="#000" stroke-width="0.8"/>
<line x1="69.67" y1="519.7" x2="72.23" y2="519.7" stroke="#000" stroke-width="0.8"/>
<rect x="75.7" y="502.4" width="6.4" height="27" fill="#b953d9"/>
<line x1="78.9" y1="502.4" x2="78.9" y2="502" stroke="#b953d9" stroke-width="0.8"/>
<line x1="77.56" y1="502" x2="80.24" y2="502" stroke="#b953d9" stroke-width="0.8"/>
<rect x="86.4" y="519.8" width="5.9" height="9.6" fill="#000"/>
<line x1="89.35" y1="519.8" x2="89.35" y2="516.7" stroke="#000" stroke-width="0.8"/>
<line x1="88.11" y1="516.7" x2="90.59" y2="516.7" stroke="#000" stroke-width="0.8"/>
<rect x="94" y="502.4" width="6.6" height="27" fill="#b953d9"/>
<line x1="97.3" y1="502.4" x2="97.3" y2="502" stroke="#b953d9" stroke-width="0.8"/>
<line x1="95.91" y1="502" x2="98.69" y2="502" stroke="#b953d9" stroke-width="0.8"/>
<rect x="104.2" y="517.9" width="6.4" height="11.5" fill="#000"/>
<line x1="107.4" y1="517.9" x2="107.4" y2="507.9" stroke="#000" stroke-width="0.8"/>
<line x1="106.06" y1="507.9" x2="108.74" y2="507.9" stroke="#000" stroke-width="0.8"/>
<rect x="112" y="482.7" width="6.4" height="46.7" fill="#b953d9"/>
<line x1="115.2" y1="482.7" x2="115.2" y2="475.1" stroke="#b953d9" stroke-width="0.8"/>
<line x1="113.86" y1="475.1" x2="116.54" y2="475.1" stroke="#b953d9" stroke-width="0.8"/>
<rect x="122.2" y="520.2" width="6.4" height="9.2" fill="#000"/>
<line x1="125.4" y1="520.2" x2="125.4" y2="519.6" stroke="#000" stroke-width="0.8"/>
<line x1="124.06" y1="519.6" x2="126.74" y2="519.6" stroke="#000" stroke-width="0.8"/>
<rect x="130.1" y="518.7" width="6.4" height="10.7" fill="#b953d9"/>
<line x1="133.3" y1="518.7" x2="133.3" y2="518.3" stroke="#b953d9" stroke-width="0.8"/>
<line x1="131.96" y1="518.3" x2="134.64" y2="518.3" stroke="#b953d9" stroke-width="0.8"/>
<rect x="140.1" y="520.2" width="6.4" height="9.2" fill="#000"/>
<line x1="143.3" y1="520.2" x2="143.3" y2="519.4" stroke="#000" stroke-width="0.8"/>
<line x1="141.96" y1="519.4" x2="144.64" y2="519.4" stroke="#000" stroke-width="0.8"/>
<rect x="148" y="512.8" width="6.7" height="16.6" fill="#b953d9"/>
<line x1="151.35" y1="512.8" x2="151.35" y2="510.3" stroke="#b953d9" stroke-width="0.8"/>
<line x1="149.94" y1="510.3" x2="152.76" y2="510.3" stroke="#b953d9" stroke-width="0.8"/>
<line x1="35" y1="511" x2="43.2" y2="511" stroke="#000" stroke-width="1.3"/>
<text x="39.1" y="508.46" font-size="6" text-anchor="middle">*</text>
<line x1="52.8" y1="507.2" x2="61.8" y2="507.2" stroke="#000" stroke-width="1.3"/>
<text x="57.3" y="504.76" font-size="6" text-anchor="middle" textLength="6.46" lengthAdjust="spacingAndGlyphs">**</text>
<line x1="71.6" y1="498.4" x2="79.7" y2="498.4" stroke="#000" stroke-width="1.3"/>
<text x="75.7" y="496.06" font-size="6" text-anchor="middle" textLength="6.46" lengthAdjust="spacingAndGlyphs">**</text>
<line x1="91.1" y1="498.4" x2="99.4" y2="498.4" stroke="#000" stroke-width="1.3"/>
<text x="95.2" y="496.06" font-size="6" text-anchor="middle" textLength="10.46" lengthAdjust="spacingAndGlyphs">***</text>
<line x1="108.2" y1="471.6" x2="116.8" y2="471.6" stroke="#000" stroke-width="1.3"/>
<text x="112.5" y="469.26" font-size="6" text-anchor="middle" textLength="6.46" lengthAdjust="spacingAndGlyphs">**</text>
<line x1="126.2" y1="515.2" x2="134.5" y2="515.2" stroke="#000" stroke-width="1.3"/>
<text x="130.3" y="512.76" font-size="6" text-anchor="middle">*</text>
<line x1="145.4" y1="507.2" x2="152.4" y2="507.2" stroke="#000" stroke-width="1.3"/>
<text x="149" y="504.76" font-size="6" text-anchor="middle" textLength="6.46" lengthAdjust="spacingAndGlyphs">**</text>
<text x="40" y="538.6" font-size="5.5" text-anchor="end" transform="rotate(-52 40 538.6)">ESR1</text>
<text x="58" y="538.6" font-size="5.5" text-anchor="end" transform="rotate(-52 58 538.6)">ESR2</text>
<text x="76" y="538.6" font-size="5.5" text-anchor="end" transform="rotate(-52 76 538.6)">FSHR</text>
<text x="94" y="538.6" font-size="5.5" text-anchor="end" transform="rotate(-52 94 538.6)">CYP1A1</text>
<text x="112.2" y="538.6" font-size="5.5" text-anchor="end" transform="rotate(-52 112.2 538.6)">CYP17A1</text>
<text x="130.1" y="538.6" font-size="5.5" text-anchor="end" transform="rotate(-52 130.1 538.6)">CYP19A1</text>
<text x="148.2" y="538.6" font-size="5.5" text-anchor="end" transform="rotate(-52 148.2 538.6)">HSD17B1</text>
<text x="161.3" y="440.5" font-size="17.5">L</text>
<text x="206.2" y="493.2" font-size="7.2" text-anchor="end" transform="rotate(41 206.2 493.2)">OE-NC</text>
<text x="234.5" y="493.5" font-size="7.2" text-anchor="end" transform="rotate(46 234.5 493.5)">OE-SLCO3A1</text>
<rect x="190.5" y="497.1" width="55.1" height="15.2" fill="#f0f0f0"/>
<rect x="190.5" y="497.1" width="55.1" height="15.2" fill="url(#vv)"/>
<rect x="190.5" y="497.1" width="55.1" height="15.2" fill="url(#vh)"/>
<rect x="190.5" y="517.9" width="55.1" height="14.7" fill="#eeeeee"/>
<rect x="190.5" y="517.9" width="55.1" height="14.7" fill="url(#vv)"/>
<rect x="190.5" y="517.9" width="55.1" height="14.7" fill="url(#vh)"/>
<rect x="193" y="498.5" width="21" height="5" rx="2.5" fill="#000" fill-opacity="0.12" filter="url(#bl)"/>
<rect x="193.5" y="503" width="19.6" height="4.4" rx="2.2" fill="#000" fill-opacity="0.7" filter="url(#bl)"/>
<rect x="224.5" y="500.7" width="20" height="10" rx="4" fill="#000" fill-opacity="1" filter="url(#bl)"/>
<rect x="194" y="521.15" width="22" height="9.5" rx="4" fill="#000" fill-opacity="1" filter="url(#bl)"/>
<rect x="220.7" y="521" width="21.8" height="10" rx="4" fill="#000" fill-opacity="1" filter="url(#bl)"/>
<rect x="190.5" y="497.1" width="55.1" height="15.2" fill="none" stroke="#111" stroke-width="1.2"/>
<rect x="190.5" y="517.9" width="55.1" height="14.7" fill="none" stroke="#111" stroke-width="1.2"/>
<text x="186.2" y="508" font-size="8" text-anchor="end" textLength="19.7" lengthAdjust="spacingAndGlyphs">FSHR</text>
<text x="187.3" y="527.7" font-size="8" text-anchor="end" textLength="24" lengthAdjust="spacingAndGlyphs">Tubulin</text>
<text x="248.4" y="508" font-size="8" textLength="21.8" lengthAdjust="spacingAndGlyphs">78 kDa</text>
<text x="248.4" y="527.7" font-size="8" textLength="21.8" lengthAdjust="spacingAndGlyphs">50 kDa</text>
<text x="267.6" y="439.9" font-size="17.5">M</text>
<rect x="303.4" y="444" width="6.8" height="3.9" fill="#0a14ff"/>
<text x="313.9" y="448" font-size="6" class="n" textLength="16.1" lengthAdjust="spacingAndGlyphs">KD-NC</text>
<rect x="343.4" y="444" width="6.6" height="3.9" fill="#ff8000"/>
<text x="353" y="448" font-size="6" class="n" textLength="30.8" lengthAdjust="spacingAndGlyphs">KD-SLCO3A1</text>
<line x1="296.5" y1="453.7" x2="296.5" y2="530.9" stroke="#000" stroke-width="1"/>
<line x1="293.2" y1="530.9" x2="296" y2="530.9" stroke="#000" stroke-width="0.9"/>
<text x="292" y="532.62" font-size="5.2" text-anchor="end" textLength="6.3" lengthAdjust="spacingAndGlyphs">0.0</text>
<line x1="293.2" y1="511.6" x2="296" y2="511.6" stroke="#000" stroke-width="0.9"/>
<text x="292" y="513.32" font-size="5.2" text-anchor="end" textLength="6.3" lengthAdjust="spacingAndGlyphs">0.5</text>
<line x1="293.2" y1="492.3" x2="296" y2="492.3" stroke="#000" stroke-width="0.9"/>
<text x="292" y="494.02" font-size="5.2" text-anchor="end" textLength="6.3" lengthAdjust="spacingAndGlyphs">1.0</text>
<line x1="293.2" y1="473" x2="296" y2="473" stroke="#000" stroke-width="0.9"/>
<text x="292" y="474.72" font-size="5.2" text-anchor="end" textLength="6.3" lengthAdjust="spacingAndGlyphs">1.5</text>
<line x1="293.2" y1="453.7" x2="296" y2="453.7" stroke="#000" stroke-width="0.9"/>
<text x="292" y="455.42" font-size="5.2" text-anchor="end" textLength="6.3" lengthAdjust="spacingAndGlyphs">2.0</text>
<text x="285.5" y="491" font-size="5.8" text-anchor="middle" transform="rotate(-90 285.5 491)" textLength="58" lengthAdjust="spacingAndGlyphs">Relative mRNA levels</text>
<line x1="296" y1="530.5" x2="417.8" y2="530.5" stroke="#000" stroke-width="1"/>
<line x1="303.9" y1="530.9" x2="303.9" y2="532.9" stroke="#000" stroke-width="0.9"/>
<line x1="321" y1="530.9" x2="321" y2="532.9" stroke="#000" stroke-width="0.9"/>
<line x1="338.1" y1="530.9" x2="338.1" y2="532.9" stroke="#000" stroke-width="0.9"/>
<line x1="355.2" y1="530.9" x2="355.2" y2="532.9" stroke="#000" stroke-width="0.9"/>
<line x1="372.2" y1="530.9" x2="372.2" y2="532.9" stroke="#000" stroke-width="0.9"/>
<line x1="389.2" y1="530.9" x2="389.2" y2="532.9" stroke="#000" stroke-width="0.9"/>
<line x1="406.2" y1="530.9" x2="406.2" y2="532.9" stroke="#000" stroke-width="0.9"/>
<rect x="297.1" y="492.6" width="5.9" height="38.3" fill="#0a14ff"/>
<line x1="300.05" y1="492.6" x2="300.05" y2="491.5" stroke="#5a6cff" stroke-width="0.8"/>
<line x1="298.81" y1="491.5" x2="301.29" y2="491.5" stroke="#5a6cff" stroke-width="0.8"/>
<rect x="304.5" y="508.3" width="6" height="22.6" fill="#ff8000"/>
<line x1="307.5" y1="508.3" x2="307.5" y2="507.8" stroke="#ff8000" stroke-width="0.8"/>
<line x1="306.24" y1="507.8" x2="308.76" y2="507.8" stroke="#ff8000" stroke-width="0.8"/>
<rect x="314.2" y="492.6" width="5.9" height="38.3" fill="#0a14ff"/>
<line x1="317.15" y1="492.6" x2="317.15" y2="488.2" stroke="#5a6cff" stroke-width="0.8"/>
<line x1="315.91" y1="488.2" x2="318.39" y2="488.2" stroke="#5a6cff" stroke-width="0.8"/>
<rect x="321.8" y="502" width="5.9" height="28.9" fill="#ff8000"/>
<line x1="324.75" y1="502" x2="324.75" y2="498.6" stroke="#ff8000" stroke-width="0.8"/>
<line x1="323.51" y1="498.6" x2="325.99" y2="498.6" stroke="#ff8000" stroke-width="0.8"/>
<rect x="331.3" y="492.6" width="6.4" height="38.3" fill="#0a14ff"/>
<line x1="334.5" y1="492.6" x2="334.5" y2="492.2" stroke="#5a6cff" stroke-width="0.8"/>
<line x1="333.16" y1="492.2" x2="335.84" y2="492.2" stroke="#5a6cff" stroke-width="0.8"/>
<rect x="339.2" y="527.6" width="6" height="3.3" fill="#ff8000"/>
<line x1="342.2" y1="527.6" x2="342.2" y2="527.2" stroke="#ff8000" stroke-width="0.8"/>
<line x1="340.94" y1="527.2" x2="343.46" y2="527.2" stroke="#ff8000" stroke-width="0.8"/>
<rect x="348.6" y="492.7" width="6.2" height="38.2" fill="#0a14ff"/>
<line x1="351.7" y1="492.7" x2="351.7" y2="491.5" stroke="#5a6cff" stroke-width="0.8"/>
<line x1="350.4" y1="491.5" x2="353" y2="491.5" stroke="#5a6cff" stroke-width="0.8"/>
<rect x="355.9" y="476.3" width="6.6" height="54.6" fill="#ff8000"/>
<line x1="359.2" y1="476.3" x2="359.2" y2="474.1" stroke="#ff8000" stroke-width="0.8"/>
<line x1="357.81" y1="474.1" x2="360.59" y2="474.1" stroke="#ff8000" stroke-width="0.8"/>
<rect x="365.3" y="492.7" width="6" height="38.2" fill="#0a14ff"/>
<line x1="368.3" y1="492.7" x2="368.3" y2="489.5" stroke="#5a6cff" stroke-width="0.8"/>
<line x1="367.04" y1="489.5" x2="369.56" y2="489.5" stroke="#5a6cff" stroke-width="0.8"/>
<rect x="373" y="510.3" width="6.4" height="20.6" fill="#ff8000"/>
<line x1="376.2" y1="510.3" x2="376.2" y2="509" stroke="#ff8000" stroke-width="0.8"/>
<line x1="374.86" y1="509" x2="377.54" y2="509" stroke="#ff8000" stroke-width="0.8"/>
<rect x="382.3" y="492.7" width="6.1" height="38.2" fill="#0a14ff"/>
<line x1="385.35" y1="492.7" x2="385.35" y2="489.5" stroke="#5a6cff" stroke-width="0.8"/>
<line x1="384.07" y1="489.5" x2="386.63" y2="489.5" stroke="#5a6cff" stroke-width="0.8"/>
<rect x="390.4" y="504.4" width="6.1" height="26.5" fill="#ff8000"/>
<line x1="393.45" y1="504.4" x2="393.45" y2="502.2" stroke="#ff8000" stroke-width="0.8"/>
<line x1="392.17" y1="502.2" x2="394.73" y2="502.2" stroke="#ff8000" stroke-width="0.8"/>
<rect x="399.4" y="492.6" width="6.4" height="38.3" fill="#0a14ff"/>
<line x1="402.6" y1="492.6" x2="402.6" y2="489.5" stroke="#5a6cff" stroke-width="0.8"/>
<line x1="401.26" y1="489.5" x2="403.94" y2="489.5" stroke="#5a6cff" stroke-width="0.8"/>
<rect x="407.4" y="516.9" width="6.4" height="14" fill="#ff8000"/>
<line x1="410.6" y1="516.9" x2="410.6" y2="516.5" stroke="#ff8000" stroke-width="0.8"/>
<line x1="409.26" y1="516.5" x2="411.94" y2="516.5" stroke="#ff8000" stroke-width="0.8"/>
<line x1="298.9" y1="487.7" x2="307.5" y2="487.7" stroke="#000" stroke-width="1.3"/>
<text x="303.2" y="485.26" font-size="6" text-anchor="middle" textLength="10.46" lengthAdjust="spacingAndGlyphs">***</text>
<line x1="317" y1="483" x2="325.9" y2="483" stroke="#000" stroke-width="1.3"/>
<text x="321.5" y="479.76" font-size="6" text-anchor="middle">*</text>
<line x1="334.1" y1="487.7" x2="341.6" y2="487.7" stroke="#000" stroke-width="1.3"/>
<text x="337.9" y="485.26" font-size="6" text-anchor="middle" textLength="10.46" lengthAdjust="spacingAndGlyphs">***</text>
<line x1="352.6" y1="469.7" x2="359.6" y2="469.7" stroke="#000" stroke-width="1.3"/>
<text x="356.1" y="467.56" font-size="6" text-anchor="middle" textLength="10.46" lengthAdjust="spacingAndGlyphs">***</text>
<line x1="369.5" y1="485.7" x2="376.8" y2="485.7" stroke="#000" stroke-width="1.3"/>
<text x="373.1" y="482.96" font-size="6" text-anchor="middle" textLength="10.46" lengthAdjust="spacingAndGlyphs">***</text>
<line x1="386" y1="485.7" x2="393.2" y2="485.7" stroke="#000" stroke-width="1.3"/>
<text x="389.6" y="482.96" font-size="6" text-anchor="middle" textLength="6.46" lengthAdjust="spacingAndGlyphs">**</text>
<line x1="402.7" y1="485.7" x2="410.2" y2="485.7" stroke="#000" stroke-width="1.3"/>
<text x="406.4" y="482.96" font-size="6" text-anchor="middle" textLength="10.46" lengthAdjust="spacingAndGlyphs">***</text>
<text x="306.3" y="539.2" font-size="6.2" text-anchor="end" transform="rotate(-52 306.3 539.2)">ESR1</text>
<text x="323.4" y="539.2" font-size="6.2" text-anchor="end" transform="rotate(-52 323.4 539.2)">ESR2</text>
<text x="340.5" y="539.2" font-size="6.2" text-anchor="end" transform="rotate(-52 340.5 539.2)">FSHR</text>
<text x="357.6" y="539.2" font-size="6.2" text-anchor="end" transform="rotate(-52 357.6 539.2)">CYP1A1</text>
<text x="374.6" y="539.2" font-size="6.2" text-anchor="end" transform="rotate(-52 374.6 539.2)">CYP17A1</text>
<text x="391.6" y="539.2" font-size="6.2" text-anchor="end" transform="rotate(-52 391.6 539.2)">CYP19A1</text>
<text x="408.6" y="539.2" font-size="6.2" text-anchor="end" transform="rotate(-52 408.6 539.2)">HSD17B1</text>
<text x="424" y="440.3" font-size="17.5">N</text>
<text x="463.7" y="490.2" font-size="7.2" text-anchor="end" transform="rotate(35 463.7 490.2)">KD-NC</text>
<text x="491.6" y="490" font-size="7.2" text-anchor="end" transform="rotate(35 491.6 490)">KD-SLCO3A1</text>
<rect x="451.8" y="493.2" width="57.1" height="14.8" fill="#d4d4d4"/>
<rect x="451.8" y="493.2" width="57.1" height="14.8" fill="url(#vv)"/>
<rect x="451.8" y="493.2" width="57.1" height="14.8" fill="url(#vh)"/>
<rect x="451.8" y="515.1" width="57.1" height="15.1" fill="#d4d4d4"/>
<rect x="451.8" y="515.1" width="57.1" height="15.1" fill="url(#vv)"/>
<rect x="451.8" y="515.1" width="57.1" height="15.1" fill="url(#vh)"/>
<rect x="455" y="499.9" width="18.5" height="4.6" rx="2.3" fill="#000" fill-opacity="0.85" filter="url(#bl)"/>
<rect x="485" y="498.5" width="20" height="6" rx="3" fill="#000" fill-opacity="0.15" filter="url(#bl)"/>
<rect x="455" y="517.2" width="22.5" height="10" rx="4" fill="#000" fill-opacity="1" filter="url(#bl)"/>
<rect x="484.5" y="517.2" width="22.5" height="10" rx="4" fill="#000" fill-opacity="1" filter="url(#bl)"/>
<rect x="451.8" y="493.2" width="57.1" height="14.8" fill="none" stroke="#111" stroke-width="1.2"/>
<rect x="451.8" y="515.1" width="57.1" height="15.1" fill="none" stroke="#111" stroke-width="1.2"/>
<text x="448.4" y="503.6" font-size="8" text-anchor="end" textLength="19.7" lengthAdjust="spacingAndGlyphs">FSHR</text>
<text x="449.5" y="526.4" font-size="8" text-anchor="end" textLength="24.7" lengthAdjust="spacingAndGlyphs">Tubulin</text>
<text x="511.6" y="503.6" font-size="8" textLength="23" lengthAdjust="spacingAndGlyphs">78 kDa</text>
<text x="511.6" y="526.4" font-size="8" textLength="23" lengthAdjust="spacingAndGlyphs">50 kDa</text>
</svg>
</body></html>
